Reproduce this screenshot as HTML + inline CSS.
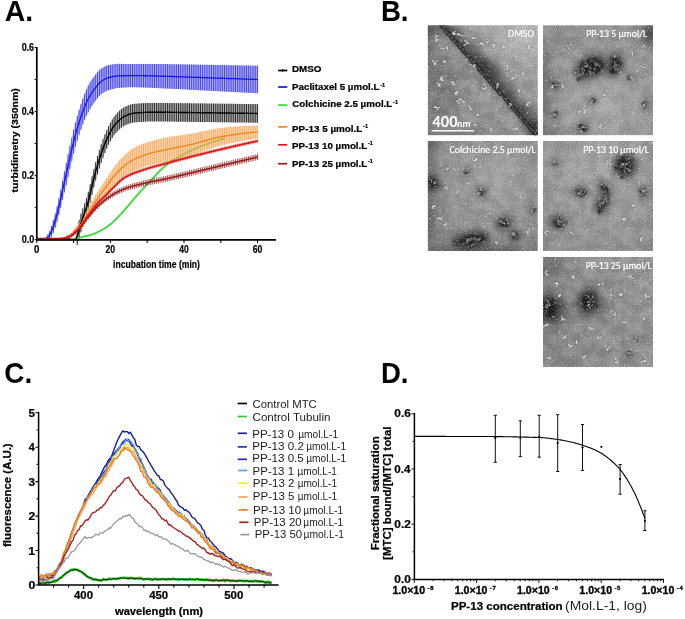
<!DOCTYPE html><html><head><meta charset="utf-8"><title>Figure</title><style>
html,body{margin:0;padding:0;background:#fff;}
body{width:685px;height:619px;overflow:hidden;}
svg{display:block;}
text{font-family:'Liberation Sans',Arial,sans-serif;fill:#000;}
.pl{font-size:28.7px;font-weight:bold;}
.ab{font-size:9px;font-weight:bold;}
.abt{font-size:9.3px;font-weight:bold;}
.al{font-size:9.5px;font-weight:bold;}
.cb{font-size:10px;font-weight:bold;}
.cbt{font-size:10.3px;font-weight:bold;}
.cl{font-size:10.6px;fill:#222;}
.db{font-size:10px;font-weight:bold;}
.dbt{font-size:10.3px;font-weight:bold;}
.ml{font-size:8.6px;fill:#f4f4f4;}
.sb{font-size:15px;font-weight:bold;fill:#fff;}
</style></head><body>
<svg width="685" height="619" viewBox="0 0 685 619">
<defs>
<filter id="bl03" x="-50%" y="-50%" width="200%" height="200%"><feGaussianBlur stdDeviation="0.3"/></filter>
<filter id="bl04" x="-50%" y="-50%" width="200%" height="200%"><feGaussianBlur stdDeviation="0.4"/></filter>
<filter id="bl05" x="-50%" y="-50%" width="200%" height="200%"><feGaussianBlur stdDeviation="0.5"/></filter>
<filter id="bl07" x="-50%" y="-50%" width="200%" height="200%"><feGaussianBlur stdDeviation="0.7"/></filter>
<filter id="bl1" x="-50%" y="-50%" width="200%" height="200%"><feGaussianBlur stdDeviation="1"/></filter>
<filter id="bl2" x="-50%" y="-50%" width="200%" height="200%"><feGaussianBlur stdDeviation="2"/></filter>
<filter id="bl3" x="-50%" y="-50%" width="200%" height="200%"><feGaussianBlur stdDeviation="3"/></filter>
<filter id="bl6" x="-100%" y="-100%" width="300%" height="300%"><feGaussianBlur stdDeviation="5"/></filter>
<filter id="bl8" x="-100%" y="-100%" width="300%" height="300%"><feGaussianBlur stdDeviation="8"/></filter>
<filter id="lgrain0" x="0" y="0" width="100%" height="100%" color-interpolation-filters="sRGB"><feTurbulence type="fractalNoise" baseFrequency="0.8" numOctaves="1" seed="3"/><feColorMatrix type="matrix" values="0 0 0 0 1  0 0 0 0 1  0 0 0 0 1  5 0 0 0 -2.9"/><feGaussianBlur stdDeviation="0.35"/></filter>
<filter id="sgrain0" x="0" y="0" width="100%" height="100%" color-interpolation-filters="sRGB"><feTurbulence type="fractalNoise" baseFrequency="0.9" numOctaves="1" seed="63"/><feColorMatrix type="matrix" values="1.8 0 0 0 -0.4  1.8 0 0 0 -0.4  1.8 0 0 0 -0.4  0 0 0 0 1"/><feGaussianBlur stdDeviation="0.35"/></filter>
<filter id="dgrain0" x="0" y="0" width="100%" height="100%" color-interpolation-filters="sRGB"><feTurbulence type="fractalNoise" baseFrequency="0.5" numOctaves="1" seed="43"/><feColorMatrix type="matrix" values="0 0 0 0 0  0 0 0 0 0  0 0 0 0 0  -6 0 0 0 2.4"/><feGaussianBlur stdDeviation="0.4"/></filter>
<filter id="mott0" x="0" y="0" width="100%" height="100%" color-interpolation-filters="sRGB"><feTurbulence type="fractalNoise" baseFrequency="0.09" numOctaves="2" seed="23"/><feColorMatrix type="matrix" values="3 0 0 0 -1  3 0 0 0 -1  3 0 0 0 -1  0 0 0 0 1"/></filter>
<filter id="lgrain1" x="0" y="0" width="100%" height="100%" color-interpolation-filters="sRGB"><feTurbulence type="fractalNoise" baseFrequency="0.8" numOctaves="1" seed="7"/><feColorMatrix type="matrix" values="0 0 0 0 1  0 0 0 0 1  0 0 0 0 1  5 0 0 0 -2.9"/><feGaussianBlur stdDeviation="0.35"/></filter>
<filter id="sgrain1" x="0" y="0" width="100%" height="100%" color-interpolation-filters="sRGB"><feTurbulence type="fractalNoise" baseFrequency="0.9" numOctaves="1" seed="67"/><feColorMatrix type="matrix" values="1.8 0 0 0 -0.4  1.8 0 0 0 -0.4  1.8 0 0 0 -0.4  0 0 0 0 1"/><feGaussianBlur stdDeviation="0.35"/></filter>
<filter id="dgrain1" x="0" y="0" width="100%" height="100%" color-interpolation-filters="sRGB"><feTurbulence type="fractalNoise" baseFrequency="0.5" numOctaves="1" seed="47"/><feColorMatrix type="matrix" values="0 0 0 0 0  0 0 0 0 0  0 0 0 0 0  -6 0 0 0 2.4"/><feGaussianBlur stdDeviation="0.4"/></filter>
<filter id="mott1" x="0" y="0" width="100%" height="100%" color-interpolation-filters="sRGB"><feTurbulence type="fractalNoise" baseFrequency="0.09" numOctaves="2" seed="27"/><feColorMatrix type="matrix" values="3 0 0 0 -1  3 0 0 0 -1  3 0 0 0 -1  0 0 0 0 1"/></filter>
<filter id="lgrain2" x="0" y="0" width="100%" height="100%" color-interpolation-filters="sRGB"><feTurbulence type="fractalNoise" baseFrequency="0.8" numOctaves="1" seed="11"/><feColorMatrix type="matrix" values="0 0 0 0 1  0 0 0 0 1  0 0 0 0 1  5 0 0 0 -2.9"/><feGaussianBlur stdDeviation="0.35"/></filter>
<filter id="sgrain2" x="0" y="0" width="100%" height="100%" color-interpolation-filters="sRGB"><feTurbulence type="fractalNoise" baseFrequency="0.9" numOctaves="1" seed="71"/><feColorMatrix type="matrix" values="1.8 0 0 0 -0.4  1.8 0 0 0 -0.4  1.8 0 0 0 -0.4  0 0 0 0 1"/><feGaussianBlur stdDeviation="0.35"/></filter>
<filter id="dgrain2" x="0" y="0" width="100%" height="100%" color-interpolation-filters="sRGB"><feTurbulence type="fractalNoise" baseFrequency="0.5" numOctaves="1" seed="51"/><feColorMatrix type="matrix" values="0 0 0 0 0  0 0 0 0 0  0 0 0 0 0  -6 0 0 0 2.4"/><feGaussianBlur stdDeviation="0.4"/></filter>
<filter id="mott2" x="0" y="0" width="100%" height="100%" color-interpolation-filters="sRGB"><feTurbulence type="fractalNoise" baseFrequency="0.09" numOctaves="2" seed="31"/><feColorMatrix type="matrix" values="3 0 0 0 -1  3 0 0 0 -1  3 0 0 0 -1  0 0 0 0 1"/></filter>
<linearGradient id="gDmso" x1="0" y1="1" x2="1" y2="0">
 <stop offset="0" stop-color="#707070" stop-opacity="0.35"/><stop offset="0.5" stop-color="#b4b4b4" stop-opacity="0.0"/>
 <stop offset="1" stop-color="#d8d8d8" stop-opacity="0.55"/></linearGradient>
<radialGradient id="gPp5" cx="0.55" cy="0.7" r="0.7">
 <stop offset="0" stop-color="#c4c4c4" stop-opacity="0.35"/><stop offset="1" stop-color="#707070" stop-opacity="0.3"/></radialGradient>
<radialGradient id="gCol" cx="0.6" cy="0.35" r="0.75">
 <stop offset="0" stop-color="#c4c4c4" stop-opacity="0.35"/><stop offset="1" stop-color="#686868" stop-opacity="0.4"/></radialGradient>
<radialGradient id="gPp10" cx="0.5" cy="0.3" r="0.8">
 <stop offset="0" stop-color="#c4c4c4" stop-opacity="0.3"/><stop offset="1" stop-color="#777" stop-opacity="0.35"/></radialGradient>
<linearGradient id="gPp25" x1="0" y1="0.3" x2="1" y2="0">
 <stop offset="0" stop-color="#707070" stop-opacity="0.3"/><stop offset="0.5" stop-color="#909090" stop-opacity="0.15"/>
 <stop offset="1" stop-color="#c0c0c0" stop-opacity="0.2"/></linearGradient>
</defs>
<text x="4.69" y="21" font-size="28.7" font-weight="bold" textLength="28.4" lengthAdjust="spacingAndGlyphs" stroke="none">A.</text>
<text x="380.9" y="21" font-size="28.7" font-weight="bold" textLength="27.63" lengthAdjust="spacingAndGlyphs" stroke="none">B.</text>
<text x="4.29" y="382.6" font-size="28.7" font-weight="bold" textLength="27.87" lengthAdjust="spacingAndGlyphs" stroke="none">C.</text>
<text x="380.91" y="383" font-size="28.7" font-weight="bold" textLength="27.51" lengthAdjust="spacingAndGlyphs" stroke="none">D.</text>
<g id="A">
<polygon points="36.8,239.06 38.64,239.06 40.48,239.06 42.32,239.06 44.16,239.06 46,237.23 47.84,234.33 49.68,230.68 51.52,226.04 53.36,220.09 55.2,213.61 57.04,206.44 58.88,198.18 60.72,189.47 62.56,180.26 64.4,171.47 66.24,162.8 68.08,154.3 69.92,145.77 71.76,137.66 73.6,129.82 75.44,122.5 77.28,115.91 79.12,109.77 80.96,104.09 82.8,98.85 84.64,93.86 86.48,89.27 88.32,85.27 90.16,82.09 92,79.28 93.84,76.74 95.68,74.4 97.52,72.13 99.36,70.1 101.2,68.58 103.04,67.45 104.88,66.49 106.72,65.72 108.56,65.18 110.4,64.81 112.24,64.49 114.08,64.21 115.92,64 117.76,63.88 119.6,63.85 121.44,63.9 123.28,63.96 125.12,64.02 126.96,64.09 128.8,64.15 130.64,64.11 132.48,64.07 134.32,64.03 136.16,63.99 138,63.96 139.84,63.95 141.68,63.93 143.52,63.93 145.36,63.93 147.2,63.93 149.04,63.94 150.88,63.96 152.72,63.98 154.56,64 156.4,64.02 158.24,64.04 160.08,64.06 161.92,64.08 163.76,64.1 165.6,64.12 167.44,64.14 169.28,64.16 171.12,64.18 172.96,64.21 174.8,64.24 176.64,64.27 178.48,64.3 180.32,64.33 182.16,64.37 184,64.4 185.84,64.44 187.68,64.48 189.52,64.51 191.36,64.55 193.2,64.59 195.04,64.62 196.88,64.66 198.72,64.69 200.56,64.73 202.4,64.76 204.24,64.79 206.08,64.83 207.92,64.86 209.76,64.89 211.6,64.92 213.44,64.95 215.28,64.99 217.12,65.02 218.96,65.05 220.8,65.08 222.64,65.11 224.48,65.15 226.32,65.18 228.16,65.21 230,65.24 231.84,65.27 233.68,65.31 235.52,65.34 237.36,65.37 239.2,65.4 241.04,65.43 242.88,65.47 244.72,65.5 246.56,65.53 248.4,65.56 250.24,65.59 252.08,65.63 253.92,65.66 255.76,65.69 257.6,65.72 257.6,93.28 255.76,93.18 253.92,93.08 252.08,92.99 250.24,92.89 248.4,92.8 246.56,92.7 244.72,92.6 242.88,92.51 241.04,92.41 239.2,92.32 237.36,92.22 235.52,92.12 233.68,92.03 231.84,91.93 230,91.84 228.16,91.74 226.32,91.64 224.48,91.55 222.64,91.45 220.8,91.35 218.96,91.26 217.12,91.16 215.28,91.07 213.44,90.97 211.6,90.87 209.76,90.78 207.92,90.68 206.08,90.59 204.24,90.49 202.4,90.39 200.56,90.3 198.72,90.2 196.88,90.1 195.04,90 193.2,89.9 191.36,89.8 189.52,89.7 187.68,89.6 185.84,89.49 184,89.39 182.16,89.29 180.32,89.2 178.48,89.1 176.64,89 174.8,88.91 172.96,88.82 171.12,88.73 169.28,88.64 167.44,88.55 165.6,88.47 163.76,88.39 161.92,88.3 160.08,88.22 158.24,88.13 156.4,88.05 154.56,87.96 152.72,87.88 150.88,87.8 149.04,87.72 147.2,87.64 145.36,87.57 143.52,87.51 141.68,87.45 139.84,87.4 138,87.35 136.16,87.32 134.32,87.29 132.48,87.26 130.64,87.24 128.8,87.22 126.96,87.33 125.12,87.44 123.28,87.55 121.44,87.67 119.6,87.8 117.76,88 115.92,88.3 114.08,88.68 112.24,89.13 110.4,89.63 108.56,90.17 106.72,90.89 104.88,91.83 103.04,92.97 101.2,94.27 99.36,95.97 97.52,98.17 95.68,100.62 93.84,103.13 92,105.84 90.16,108.83 88.32,112.18 86.48,115.81 84.64,120.02 82.8,124.64 80.96,129.51 79.12,134.81 77.28,140.58 75.44,146.8 73.6,153.74 71.76,161.21 69.92,168.95 68.08,177.1 66.24,185.23 64.4,192.53 62.56,199.94 60.72,207.78 58.88,215.12 57.04,222 55.2,227.8 53.36,232.91 51.52,236.45 49.68,238.69 47.84,239.94 46,240.43 44.16,239.06 42.32,239.06 40.48,239.06 38.64,239.06 36.8,239.06" fill="#9a9aff" fill-opacity="0.6"/>
<path d="M46,237.23V240.43M47.84,234.33V239.94M49.68,230.68V238.69M51.52,226.04V236.45M53.36,220.09V232.91M55.2,213.61V227.8M57.04,206.44V222M58.88,198.18V215.12M60.72,189.47V207.78M62.56,180.26V199.94M64.4,171.47V192.53M66.24,162.8V185.23M68.08,154.3V177.1M69.92,145.77V168.95M71.76,137.66V161.21M73.6,129.82V153.74M75.44,122.5V146.8M77.28,115.91V140.58M79.12,109.77V134.81M80.96,104.09V129.51M82.8,98.85V124.64M84.64,93.86V120.02M86.48,89.27V115.81M88.32,85.27V112.18M90.16,82.09V108.83M92,79.28V105.84M93.84,76.74V103.13M95.68,74.4V100.62M97.52,72.13V98.17M99.36,70.1V95.97M101.2,68.58V94.27M103.04,67.45V92.97M104.88,66.49V91.83M106.72,65.72V90.89M108.56,65.18V90.17M110.4,64.81V89.63M112.24,64.49V89.13M114.08,64.21V88.68M115.92,64V88.3M117.76,63.88V88M119.6,63.85V87.8M121.44,63.9V87.67M123.28,63.96V87.55M125.12,64.02V87.44M126.96,64.09V87.33M128.8,64.15V87.22M130.64,64.11V87.24M132.48,64.07V87.26M134.32,64.03V87.29M136.16,63.99V87.32M138,63.96V87.35M139.84,63.95V87.4M141.68,63.93V87.45M143.52,63.93V87.51M145.36,63.93V87.57M147.2,63.93V87.64M149.04,63.94V87.72M150.88,63.96V87.8M152.72,63.98V87.88M154.56,64V87.96M156.4,64.02V88.05M158.24,64.04V88.13M160.08,64.06V88.22M161.92,64.08V88.3M163.76,64.1V88.39M165.6,64.12V88.47M167.44,64.14V88.55M169.28,64.16V88.64M171.12,64.18V88.73M172.96,64.21V88.82M174.8,64.24V88.91M176.64,64.27V89M178.48,64.3V89.1M180.32,64.33V89.2M182.16,64.37V89.29M184,64.4V89.39M185.84,64.44V89.49M187.68,64.48V89.6M189.52,64.51V89.7M191.36,64.55V89.8M193.2,64.59V89.9M195.04,64.62V90M196.88,64.66V90.1M198.72,64.69V90.2M200.56,64.73V90.3M202.4,64.76V90.39M204.24,64.79V90.49M206.08,64.83V90.59M207.92,64.86V90.68M209.76,64.89V90.78M211.6,64.92V90.87M213.44,64.95V90.97M215.28,64.99V91.07M217.12,65.02V91.16M218.96,65.05V91.26M220.8,65.08V91.35M222.64,65.11V91.45M224.48,65.15V91.55M226.32,65.18V91.64M228.16,65.21V91.74M230,65.24V91.84M231.84,65.27V91.93M233.68,65.31V92.03M235.52,65.34V92.12M237.36,65.37V92.22M239.2,65.4V92.32M241.04,65.43V92.41M242.88,65.47V92.51M244.72,65.5V92.6M246.56,65.53V92.7M248.4,65.56V92.8M250.24,65.59V92.89M252.08,65.63V92.99M253.92,65.66V93.08M255.76,65.69V93.18M257.6,65.72V93.28" stroke="#2626d8" stroke-width="0.85" stroke-opacity="0.95" fill="none"/>
<polygon points="36.8,239.38 38.64,239.38 40.48,239.38 42.32,239.38 44.16,239.38 46,239.38 47.84,239.38 49.68,239.38 51.52,239.38 53.36,239.38 55.2,239.38 57.04,239.38 58.88,239.38 60.72,239.38 62.56,239.38 64.4,239.38 66.24,239.38 68.08,239.38 69.92,239.38 71.76,239.38 73.6,239.38 75.44,238.98 77.28,226.56 79.12,220.24 80.96,213.67 82.8,208.4 84.64,203.42 86.48,198.12 88.32,191.84 90.16,184.24 92,176.34 93.84,169.08 95.68,162.15 97.52,155.89 99.36,149.97 101.2,144.34 103.04,139.11 104.88,134.4 106.72,130.22 108.56,126.27 110.4,122.62 112.24,119.37 114.08,116.63 115.92,114.42 117.76,112.41 119.6,110.61 121.44,109.04 123.28,107.74 125.12,106.73 126.96,105.92 128.8,105.2 130.64,104.59 132.48,104.13 134.32,103.85 136.16,103.68 138,103.53 139.84,103.39 141.68,103.27 143.52,103.16 145.36,103.07 147.2,103 149.04,102.94 150.88,102.91 152.72,102.89 154.56,102.89 156.4,102.89 158.24,102.9 160.08,102.91 161.92,102.93 163.76,102.95 165.6,102.97 167.44,102.99 169.28,103.01 171.12,103.04 172.96,103.06 174.8,103.09 176.64,103.11 178.48,103.14 180.32,103.16 182.16,103.19 184,103.21 185.84,103.23 187.68,103.25 189.52,103.27 191.36,103.29 193.2,103.32 195.04,103.34 196.88,103.36 198.72,103.38 200.56,103.4 202.4,103.43 204.24,103.45 206.08,103.47 207.92,103.5 209.76,103.52 211.6,103.54 213.44,103.56 215.28,103.59 217.12,103.61 218.96,103.63 220.8,103.66 222.64,103.68 224.48,103.71 226.32,103.73 228.16,103.76 230,103.78 231.84,103.81 233.68,103.83 235.52,103.86 237.36,103.88 239.2,103.91 241.04,103.93 242.88,103.96 244.72,103.98 246.56,104.01 248.4,104.04 250.24,104.06 252.08,104.09 253.92,104.12 255.76,104.14 257.6,104.17 257.6,122.75 255.76,122.73 253.92,122.7 252.08,122.67 250.24,122.65 248.4,122.62 246.56,122.59 244.72,122.57 242.88,122.54 241.04,122.52 239.2,122.49 237.36,122.46 235.52,122.44 233.68,122.41 231.84,122.39 230,122.36 228.16,122.34 226.32,122.31 224.48,122.29 222.64,122.27 220.8,122.24 218.96,122.22 217.12,122.19 215.28,122.17 213.44,122.15 211.6,122.12 209.76,122.1 207.92,122.08 206.08,122.06 204.24,122.03 202.4,122.01 200.56,121.99 198.72,121.97 196.88,121.94 195.04,121.92 193.2,121.9 191.36,121.88 189.52,121.86 187.68,121.84 185.84,121.81 184,121.79 182.16,121.77 180.32,121.75 178.48,121.72 176.64,121.7 174.8,121.67 172.96,121.65 171.12,121.62 169.28,121.6 167.44,121.57 165.6,121.55 163.76,121.53 161.92,121.51 160.08,121.5 158.24,121.49 156.4,121.48 154.56,121.47 152.72,121.47 150.88,121.49 149.04,121.53 147.2,121.58 145.36,121.66 143.52,121.75 141.68,121.85 139.84,121.98 138,122.11 136.16,122.27 134.32,122.43 132.48,122.71 130.64,123.17 128.8,123.78 126.96,124.51 125.12,125.32 123.28,126.32 121.44,127.62 119.6,129.19 117.76,131 115.92,133 114.08,135.22 112.24,137.95 110.4,141.2 108.56,144.85 106.72,148.8 104.88,152.99 103.04,157.7 101.2,162.92 99.36,168.56 97.52,174.48 95.68,180.73 93.84,187.66 92,194.93 90.16,202.82 88.32,210.42 86.48,216.7 84.64,222 82.8,226.99 80.96,232.25 79.12,238.82 77.28,245.15 75.44,238.98 73.6,239.38 71.76,239.38 69.92,239.38 68.08,239.38 66.24,239.38 64.4,239.38 62.56,239.38 60.72,239.38 58.88,239.38 57.04,239.38 55.2,239.38 53.36,239.38 51.52,239.38 49.68,239.38 47.84,239.38 46,239.38 44.16,239.38 42.32,239.38 40.48,239.38 38.64,239.38 36.8,239.38" fill="#aaa" fill-opacity="0.6"/>
<path d="M77.28,226.56V245.15M79.12,220.24V238.82M80.96,213.67V232.25M82.8,208.4V226.99M84.64,203.42V222M86.48,198.12V216.7M88.32,191.84V210.42M90.16,184.24V202.82M92,176.34V194.93M93.84,169.08V187.66M95.68,162.15V180.73M97.52,155.89V174.48M99.36,149.97V168.56M101.2,144.34V162.92M103.04,139.11V157.7M104.88,134.4V152.99M106.72,130.22V148.8M108.56,126.27V144.85M110.4,122.62V141.2M112.24,119.37V137.95M114.08,116.63V135.22M115.92,114.42V133M117.76,112.41V131M119.6,110.61V129.19M121.44,109.04V127.62M123.28,107.74V126.32M125.12,106.73V125.32M126.96,105.92V124.51M128.8,105.2V123.78M130.64,104.59V123.17M132.48,104.13V122.71M134.32,103.85V122.43M136.16,103.68V122.27M138,103.53V122.11M139.84,103.39V121.98M141.68,103.27V121.85M143.52,103.16V121.75M145.36,103.07V121.66M147.2,103V121.58M149.04,102.94V121.53M150.88,102.91V121.49M152.72,102.89V121.47M154.56,102.89V121.47M156.4,102.89V121.48M158.24,102.9V121.49M160.08,102.91V121.5M161.92,102.93V121.51M163.76,102.95V121.53M165.6,102.97V121.55M167.44,102.99V121.57M169.28,103.01V121.6M171.12,103.04V121.62M172.96,103.06V121.65M174.8,103.09V121.67M176.64,103.11V121.7M178.48,103.14V121.72M180.32,103.16V121.75M182.16,103.19V121.77M184,103.21V121.79M185.84,103.23V121.81M187.68,103.25V121.84M189.52,103.27V121.86M191.36,103.29V121.88M193.2,103.32V121.9M195.04,103.34V121.92M196.88,103.36V121.94M198.72,103.38V121.97M200.56,103.4V121.99M202.4,103.43V122.01M204.24,103.45V122.03M206.08,103.47V122.06M207.92,103.5V122.08M209.76,103.52V122.1M211.6,103.54V122.12M213.44,103.56V122.15M215.28,103.59V122.17M217.12,103.61V122.19M218.96,103.63V122.22M220.8,103.66V122.24M222.64,103.68V122.27M224.48,103.71V122.29M226.32,103.73V122.31M228.16,103.76V122.34M230,103.78V122.36M231.84,103.81V122.39M233.68,103.83V122.41M235.52,103.86V122.44M237.36,103.88V122.46M239.2,103.91V122.49M241.04,103.93V122.52M242.88,103.96V122.54M244.72,103.98V122.57M246.56,104.01V122.59M248.4,104.04V122.62M250.24,104.06V122.65M252.08,104.09V122.67M253.92,104.12V122.7M255.76,104.14V122.73M257.6,104.17V122.75" stroke="#000000" stroke-width="0.85" stroke-opacity="0.95" fill="none"/>
<path d="M36.8,239.7 L37.27,239.7 L37.74,239.7 L38.21,239.7 L38.68,239.7 L39.15,239.7 L39.62,239.7 L40.09,239.7 L40.56,239.7 L41.03,239.7 L41.5,239.7 L41.97,239.7 L42.44,239.7 L42.91,239.7 L43.39,239.7 L43.86,239.7 L44.33,239.7 L44.8,239.7 L45.27,239.7 L45.74,239.7 L46.21,239.7 L46.68,239.7 L47.15,239.7 L47.62,239.7 L48.09,239.7 L48.56,239.7 L49.03,239.7 L49.5,239.7 L49.97,239.7 L50.44,239.7 L50.91,239.7 L51.38,239.7 L51.85,239.7 L52.32,239.7 L52.79,239.7 L53.26,239.7 L53.73,239.7 L54.2,239.7 L54.67,239.7 L55.14,239.7 L55.62,239.7 L56.09,239.7 L56.56,239.7 L57.03,239.7 L57.5,239.7 L57.97,239.7 L58.44,239.7 L58.91,239.7 L59.38,239.7 L59.85,239.7 L60.32,239.7 L60.79,239.7 L61.26,239.7 L61.73,239.7 L62.2,239.7 L62.67,239.7 L63.14,239.7 L63.61,239.7 L64.08,239.7 L64.55,239.7 L65.02,239.7 L65.49,239.7 L65.96,239.7 L66.43,239.7 L66.9,239.7 L67.37,239.7 L67.84,239.7 L68.32,239.7 L68.79,239.7 L69.26,239.7 L69.73,239.7 L70.2,239.7 L70.67,239.7 L71.14,239.7 L71.61,239.7 L72.08,239.7 L72.55,239.7 L73.02,239.7 L73.49,239.7 L73.96,239.68 L74.43,239.61 L74.9,239.5 L75.37,239.35 L75.84,239.17 L76.31,238.97 L76.78,238.75 L77.25,238.54 L77.72,238.32 L78.19,238.12 L78.66,237.93 L79.13,237.77 L79.6,237.63 L80.07,237.5 L80.54,237.37 L81.02,237.25 L81.49,237.13 L81.96,237.01 L82.43,236.89 L82.9,236.78 L83.37,236.67 L83.84,236.56 L84.31,236.45 L84.78,236.35 L85.25,236.24 L85.72,236.13 L86.19,236.02 L86.66,235.91 L87.13,235.8 L87.6,235.69 L88.07,235.58 L88.54,235.46 L89.01,235.34 L89.48,235.21 L89.95,235.08 L90.42,234.94 L90.89,234.81 L91.36,234.66 L91.83,234.51 L92.3,234.35 L92.77,234.18 L93.25,234.01 L93.72,233.83 L94.19,233.65 L94.66,233.46 L95.13,233.26 L95.6,233.06 L96.07,232.85 L96.54,232.64 L97.01,232.43 L97.48,232.21 L97.95,231.98 L98.42,231.75 L98.89,231.52 L99.36,231.28 L99.83,231.04 L100.3,230.79 L100.77,230.54 L101.24,230.28 L101.71,230.02 L102.18,229.76 L102.65,229.49 L103.12,229.21 L103.59,228.93 L104.06,228.65 L104.53,228.36 L105,228.07 L105.47,227.77 L105.95,227.46 L106.42,227.15 L106.89,226.84 L107.36,226.52 L107.83,226.19 L108.3,225.86 L108.77,225.53 L109.24,225.19 L109.71,224.84 L110.18,224.49 L110.65,224.13 L111.12,223.75 L111.59,223.35 L112.06,222.94 L112.53,222.51 L113,222.07 L113.47,221.62 L113.94,221.16 L114.41,220.7 L114.88,220.23 L115.35,219.76 L115.82,219.29 L116.29,218.82 L116.76,218.35 L117.23,217.87 L117.7,217.39 L118.18,216.9 L118.65,216.41 L119.12,215.92 L119.59,215.42 L120.06,214.92 L120.53,214.42 L121,213.91 L121.47,213.4 L121.94,212.88 L122.41,212.37 L122.88,211.85 L123.35,211.32 L123.82,210.8 L124.29,210.27 L124.76,209.74 L125.23,209.21 L125.7,208.67 L126.17,208.13 L126.64,207.59 L127.11,207.05 L127.58,206.51 L128.05,205.97 L128.52,205.42 L128.99,204.87 L129.46,204.31 L129.93,203.73 L130.4,203.15 L130.88,202.57 L131.35,201.98 L131.82,201.41 L132.29,200.84 L132.76,200.29 L133.23,199.74 L133.7,199.19 L134.17,198.65 L134.64,198.1 L135.11,197.56 L135.58,197.03 L136.05,196.49 L136.52,195.96 L136.99,195.43 L137.46,194.9 L137.93,194.37 L138.4,193.84 L138.87,193.32 L139.34,192.8 L139.81,192.28 L140.28,191.76 L140.75,191.24 L141.22,190.73 L141.69,190.21 L142.16,189.7 L142.63,189.19 L143.1,188.68 L143.58,188.18 L144.05,187.67 L144.52,187.17 L144.99,186.66 L145.46,186.16 L145.93,185.66 L146.4,185.16 L146.87,184.65 L147.34,184.15 L147.81,183.64 L148.28,183.13 L148.75,182.62 L149.22,182.11 L149.69,181.6 L150.16,181.09 L150.63,180.58 L151.1,180.07 L151.57,179.56 L152.04,179.06 L152.51,178.55 L152.98,178.04 L153.45,177.54 L153.92,177.03 L154.39,176.53 L154.86,176.03 L155.33,175.53 L155.81,175.04 L156.28,174.54 L156.75,174.05 L157.22,173.57 L157.69,173.08 L158.16,172.6 L158.63,172.13 L159.1,171.66 L159.57,171.19 L160.04,170.73 L160.51,170.27 L160.98,169.81 L161.45,169.37 L161.92,168.92 L162.39,168.49 L162.86,168.05 L163.33,167.63 L163.8,167.21 L164.27,166.8 L164.74,166.39 L165.21,165.99 L165.68,165.6 L166.15,165.22 L166.62,164.84 L167.09,164.47 L167.56,164.11 L168.03,163.76 L168.51,163.41 L168.98,163.07 L169.45,162.74 L169.92,162.41 L170.39,162.09 L170.86,161.77 L171.33,161.46 L171.8,161.16 L172.27,160.85 L172.74,160.55 L173.21,160.26 L173.68,159.96 L174.15,159.67 L174.62,159.38 L175.09,159.09 L175.56,158.8 L176.03,158.52 L176.5,158.23 L176.97,157.95 L177.44,157.67 L177.91,157.4 L178.38,157.12 L178.85,156.85 L179.32,156.58 L179.79,156.31 L180.26,156.04 L180.74,155.78 L181.21,155.52 L181.68,155.26 L182.15,155 L182.62,154.75 L183.09,154.49 L183.56,154.24 L184.03,154 L184.5,153.75 L184.97,153.51 L185.44,153.27 L185.91,153.03 L186.38,152.79 L186.85,152.56 L187.32,152.32 L187.79,152.09 L188.26,151.87 L188.73,151.64 L189.2,151.42 L189.67,151.2 L190.14,150.98 L190.61,150.76 L191.08,150.55 L191.55,150.34 L192.02,150.12 L192.49,149.91 L192.96,149.71 L193.44,149.5 L193.91,149.3 L194.38,149.09 L194.85,148.89 L195.32,148.69 L195.79,148.49 L196.26,148.29 L196.73,148.1 L197.2,147.9 L197.67,147.71 L198.14,147.52 L198.61,147.33 L199.08,147.14 L199.55,146.95 L200.02,146.76 L200.49,146.58 L200.96,146.39 L201.43,146.21 L201.9,146.03 L202.37,145.85 L202.84,145.67 L203.31,145.49 L203.78,145.31 L204.25,145.13 L204.72,144.96 L205.19,144.78 L205.66,144.61 L206.14,144.44 L206.61,144.26 L207.08,144.09 L207.55,143.92 L208.02,143.75 L208.49,143.59 L208.96,143.42 L209.43,143.25 L209.9,143.09 L210.37,142.92 L210.84,142.76 L211.31,142.59 L211.78,142.43 L212.25,142.27 L212.72,142.11 L213.19,141.95 L213.66,141.8 L214.13,141.65 L214.6,141.49 L215.07,141.34 L215.54,141.19 L216.01,141.04 L216.48,140.9 L216.95,140.75 L217.42,140.61 L217.89,140.46 L218.37,140.32 L218.84,140.17 L219.31,140.03 L219.78,139.89 L220.25,139.74 L220.72,139.6 L221.19,139.46 L221.66,139.32 L222.13,139.17 L222.6,139.03 L223.07,138.89 L223.54,138.74 L224.01,138.6 L224.48,138.45" stroke="#33dd33" stroke-width="1.8" fill="none" stroke-linejoin="round"/>
<polygon points="36.8,239.06 38.64,239.06 40.48,239.05 42.32,239.05 44.16,239.04 46,239.02 47.84,239 49.68,238.98 51.52,238.95 53.36,238.92 55.2,238.88 57.04,238.84 58.88,238.79 60.72,238.74 62.56,238.54 64.4,238.13 66.24,237.58 68.08,236.85 69.92,235.74 71.76,234.33 73.6,229.5 75.44,227.46 77.28,225.34 79.12,222.9 80.96,220.1 82.8,217.05 84.64,213.88 86.48,210.73 88.32,207.67 90.16,204.56 92,201.38 93.84,198.19 95.68,195.05 97.52,192 99.36,189.07 101.2,186.22 103.04,183.43 104.88,180.67 106.72,177.92 108.56,175.16 110.4,172.34 112.24,169.71 114.08,167.25 115.92,164.84 117.76,162.52 119.6,160.3 121.44,158.23 123.28,156.32 125.12,154.6 126.96,153 128.8,151.49 130.64,150.07 132.48,148.73 134.32,147.7 136.16,146.75 138,145.89 139.84,145.08 141.68,144.34 143.52,143.64 145.36,142.98 147.2,142.37 149.04,141.79 150.88,141.24 152.72,140.72 154.56,140.23 156.4,139.77 158.24,139.33 160.08,138.9 161.92,138.48 163.76,138.06 165.6,137.64 167.44,137.21 169.28,136.8 171.12,136.54 172.96,136.29 174.8,136.05 176.64,135.81 178.48,135.57 180.32,135.33 182.16,135.08 184,134.83 185.84,134.57 187.68,134.29 189.52,134.01 191.36,133.7 193.2,133.37 195.04,133.01 196.88,132.64 198.72,132.25 200.56,131.86 202.4,131.45 204.24,131.05 206.08,130.65 207.92,130.25 209.76,129.87 211.6,129.49 213.44,129.14 215.28,128.81 217.12,128.5 218.96,128.23 220.8,127.98 222.64,127.78 224.48,127.59 226.32,127.4 228.16,127.22 230,127.05 231.84,126.88 233.68,126.72 235.52,126.57 237.36,126.43 239.2,126.3 241.04,126.17 242.88,126.06 244.72,125.96 246.56,125.87 248.4,125.8 250.24,125.73 252.08,125.69 253.92,125.65 255.76,125.64 257.6,125.64 257.6,138.45 255.76,138.69 253.92,138.95 252.08,139.22 250.24,139.51 248.4,139.81 246.56,140.13 244.72,140.46 242.88,140.8 241.04,141.15 239.2,141.51 237.36,141.89 235.52,142.27 233.68,142.66 231.84,143.06 230,143.47 228.16,143.88 226.32,144.3 224.48,144.73 222.64,145.16 220.8,145.61 218.96,146.09 217.12,146.6 215.28,147.15 213.44,147.72 211.6,148.32 209.76,148.93 207.92,149.56 206.08,150.19 204.24,150.83 202.4,151.48 200.56,152.12 198.72,152.76 196.88,153.38 195.04,154 193.2,154.59 191.36,155.17 189.52,155.72 187.68,156.24 185.84,156.76 184,157.26 182.16,157.75 180.32,158.24 178.48,158.72 176.64,159.2 174.8,159.68 172.96,160.16 171.12,160.65 169.28,161.15 167.44,161.5 165.6,161.86 163.76,162.22 161.92,162.57 160.08,162.93 158.24,163.29 156.4,163.67 154.56,164.07 152.72,164.49 150.88,164.95 149.04,165.43 147.2,165.95 145.36,166.5 143.52,167.09 141.68,167.73 139.84,168.41 138,169.15 136.16,169.95 134.32,170.83 132.48,171.8 130.64,172.61 128.8,173.52 126.96,174.51 125.12,175.58 123.28,176.78 121.44,178.17 119.6,179.73 117.76,181.42 115.92,183.22 114.08,185.11 112.24,187.05 110.4,189.16 108.56,191.46 106.72,193.7 104.88,195.93 103.04,198.17 101.2,200.44 99.36,202.77 97.52,205.18 95.68,207.71 93.84,210.33 92,213 90.16,215.65 88.32,218.24 86.48,220.78 84.64,223.42 82.8,226.06 80.96,228.59 79.12,230.87 77.28,232.79 75.44,234.39 73.6,235.91 71.76,234.33 69.92,235.74 68.08,236.85 66.24,237.58 64.4,238.13 62.56,238.54 60.72,238.74 58.88,238.79 57.04,238.84 55.2,238.88 53.36,238.92 51.52,238.95 49.68,238.98 47.84,239 46,239.02 44.16,239.04 42.32,239.05 40.48,239.05 38.64,239.06 36.8,239.06" fill="#fbc592" fill-opacity="0.55"/>
<path d="M73.6,229.5V235.91M75.44,227.46V234.39M77.28,225.34V232.79M79.12,222.9V230.87M80.96,220.1V228.59M82.8,217.05V226.06M84.64,213.88V223.42M86.48,210.73V220.78M88.32,207.67V218.24M90.16,204.56V215.65M92,201.38V213M93.84,198.19V210.33M95.68,195.05V207.71M97.52,192V205.18M99.36,189.07V202.77M101.2,186.22V200.44M103.04,183.43V198.17M104.88,180.67V195.93M106.72,177.92V193.7M108.56,175.16V191.46M110.4,172.34V189.16M112.24,169.71V187.05M114.08,167.25V185.11M115.92,164.84V183.22M117.76,162.52V181.42M119.6,160.3V179.73M121.44,158.23V178.17M123.28,156.32V176.78M125.12,154.6V175.58M126.96,153V174.51M128.8,151.49V173.52M130.64,150.07V172.61M132.48,148.73V171.8M134.32,147.7V170.83M136.16,146.75V169.95M138,145.89V169.15M139.84,145.08V168.41M141.68,144.34V167.73M143.52,143.64V167.09M145.36,142.98V166.5M147.2,142.37V165.95M149.04,141.79V165.43M150.88,141.24V164.95M152.72,140.72V164.49M154.56,140.23V164.07M156.4,139.77V163.67M158.24,139.33V163.29M160.08,138.9V162.93M161.92,138.48V162.57M163.76,138.06V162.22M165.6,137.64V161.86M167.44,137.21V161.5M169.28,136.8V161.15M171.12,136.54V160.65M172.96,136.29V160.16M174.8,136.05V159.68M176.64,135.81V159.2M178.48,135.57V158.72M180.32,135.33V158.24M182.16,135.08V157.75M184,134.83V157.26M185.84,134.57V156.76M187.68,134.29V156.24M189.52,134.01V155.72M191.36,133.7V155.17M193.2,133.37V154.59M195.04,133.01V154M196.88,132.64V153.38M198.72,132.25V152.76M200.56,131.86V152.12M202.4,131.45V151.48M204.24,131.05V150.83M206.08,130.65V150.19M207.92,130.25V149.56M209.76,129.87V148.93M211.6,129.49V148.32M213.44,129.14V147.72M215.28,128.81V147.15M217.12,128.5V146.6M218.96,128.23V146.09M220.8,127.98V145.61M222.64,127.78V145.16M224.48,127.59V144.73M226.32,127.4V144.3M228.16,127.22V143.88M230,127.05V143.47M231.84,126.88V143.06M233.68,126.72V142.66M235.52,126.57V142.27M237.36,126.43V141.89M239.2,126.3V141.51M241.04,126.17V141.15M242.88,126.06V140.8M244.72,125.96V140.46M246.56,125.87V140.13M248.4,125.8V139.81M250.24,125.73V139.51M252.08,125.69V139.22M253.92,125.65V138.95M255.76,125.64V138.69M257.6,125.64V138.45" stroke="#f08a24" stroke-width="0.75" stroke-opacity="0.8" fill="none"/>
<path d="M36.8,237.46V240.02M38.64,237.46V240.02M40.48,237.46V240.02M42.32,237.46V240.02M44.16,237.46V240.02M46,237.46V240.02M47.84,237.46V240.02M49.68,237.46V240.02M51.52,237.46V240.02M53.36,237.46V240.02M55.2,237.46V240.02M57.04,237.46V240.02M58.88,237.46V240.02M60.72,237.46V240.02M62.56,237.33V239.9M64.4,237.01V239.58M66.24,235.63V240.11M68.08,235.03V239.55M69.92,234.1V238.66M71.76,232.89V237.49M73.6,231.49V236.12M75.44,229.96V234.63M77.28,228.37V233.08M79.12,226.47V231.21M80.96,224.23V229.01M82.8,221.78V226.6M84.64,219.27V224.12M86.48,216.83V221.72M88.32,214.57V219.49M90.16,212.31V217.27M92,210.05V215.04M93.84,207.85V212.88M95.68,205.76V210.83M97.52,203.86V208.96M99.36,202.13V207.27M101.2,200.48V205.66M103.04,198.9V204.12M104.88,197.4V202.65M106.72,195.99V201.27M108.56,194.65V199.98M110.4,193.4V198.76M112.24,192.24V197.64M114.08,191.14V196.58M115.92,190.09V195.56M117.76,189.1V194.61M119.6,188.17V193.71M121.44,187.3V192.88M123.28,186.51V192.13M125.12,185.8V191.45M126.96,185.14V190.83M128.8,184.52V190.24M130.64,183.94V189.7M132.48,183.38V189.18M134.32,182.86V188.69M136.16,182.35V188.22M138,181.87V187.77M139.84,181.4V187.34M141.68,180.93V186.91M143.52,180.48V186.49M145.36,180.03V186.08M147.2,179.59V185.68M149.04,179.2V185.28M150.88,178.81V184.9M152.72,178.44V184.53M154.56,178.08V184.17M156.4,177.72V183.81M158.24,177.36V183.45M160.08,177V183.09M161.92,176.63V182.72M163.76,176.25V182.34M165.6,175.86V181.95M167.44,175.45V181.54M169.28,175.04V181.13M171.12,174.62V180.71M172.96,174.2V180.29M174.8,173.77V179.86M176.64,173.34V179.43M178.48,172.91V178.99M180.32,172.47V178.55M182.16,172.03V178.11M184,171.58V177.67M185.84,171.14V177.22M187.68,170.69V176.78M189.52,170.24V176.33M191.36,169.79V175.88M193.2,169.35V175.43M195.04,168.9V174.99M196.88,168.45V174.54M198.72,168.01V174.1M200.56,167.57V173.66M202.4,167.13V173.22M204.24,166.69V172.78M206.08,166.25V172.34M207.92,165.82V171.9M209.76,165.38V171.47M211.6,164.94V171.03M213.44,164.5V170.59M215.28,164.07V170.15M217.12,163.63V169.72M218.96,163.19V169.28M220.8,162.75V168.84M222.64,162.32V168.4M224.48,161.88V167.97M226.32,161.44V167.53M228.16,161V167.09M230,160.57V166.65M231.84,160.13V166.22M233.68,159.69V165.78M235.52,159.25V165.34M237.36,158.81V164.9M239.2,158.38V164.46M241.04,157.94V164.03M242.88,157.5V163.59M244.72,157.06V163.15M246.56,156.62V162.71M248.4,156.18V162.27M250.24,155.75V161.83M252.08,155.31V161.4M253.92,154.87V160.96M255.76,154.43V160.52M257.6,153.99V160.08" stroke="#8e1010" stroke-width="0.8" stroke-opacity="0.95" fill="none"/>
<path d="M36.8,238.1V240.02M38.64,238.1V240.02M40.48,238.09V240.01M42.32,238.08V240.01M44.16,238.07V239.99M46,238.06V239.98M47.84,238.04V239.96M49.68,238.01V239.94M51.52,237.99V239.91M53.36,237.96V239.88M55.2,237.92V239.84M57.04,237.88V239.8M58.88,237.83V239.75M60.72,237.78V239.7M62.56,237.63V239.55M64.4,237.32V239.24M66.24,235.95V239.79M68.08,235.34V239.19M69.92,234.35V238.19M71.76,233.04V236.88M73.6,231.51V235.36M75.44,229.85V233.7M77.28,228.14V231.98M79.12,226.11V229.96M80.96,223.75V227.59M82.8,221.16V225.01M84.64,218.5V222.34M86.48,215.88V219.73M88.32,213.41V217.26M90.16,210.91V214.76M92,208.38V212.23M93.84,205.9V209.74M95.68,203.53V207.37M97.52,201.34V205.18M99.36,199.4V203.24M101.2,197.64V201.49M103.04,195.96V199.81M104.88,194.24V198.09M106.72,192.4V196.24M108.56,190.5V194.34M110.4,188.61V192.45M112.24,186.8V190.64M114.08,184.98V188.83M115.92,183.13V186.98M117.76,181.31V185.15M119.6,179.57V183.41M121.44,177.97V181.81M123.28,176.56V180.41M125.12,175.41V179.25M126.96,174.41V178.25M128.8,173.48V177.33M130.64,172.63V176.47M132.48,171.83V175.68M134.32,171.09V174.94M136.16,170.4V174.24M138,169.73V173.58M139.84,169.09V172.94M141.68,168.47V172.32M143.52,167.86V171.7M145.36,167.25V171.09M147.2,166.66V170.51M149.04,166.11V169.95M150.88,165.57V169.41M152.72,165.05V168.9M154.56,164.55V168.39M156.4,164.05V167.9M158.24,163.57V167.41M160.08,163.09V166.93M161.92,162.6V166.45M163.76,162.12V165.96M165.6,161.62V165.47M167.44,161.12V164.97M169.28,160.62V164.47M171.12,160.12V163.96M172.96,159.62V163.47M174.8,159.12V162.97M176.64,158.63V162.47M178.48,158.13V161.97M180.32,157.64V161.48M182.16,157.14V160.99M184,156.65V160.5M185.84,156.17V160.01M187.68,155.68V159.53M189.52,155.2V159.04M191.36,154.72V158.56M193.2,154.24V158.09M195.04,153.77V157.61M196.88,153.3V157.14M198.72,152.83V156.68M200.56,152.37V156.21M202.4,151.91V155.76M204.24,151.45V155.3M206.08,151V154.85M207.92,150.55V154.39M209.76,150.1V153.94M211.6,149.65V153.49M213.44,149.2V153.05M215.28,148.76V152.6M217.12,148.31V152.16M218.96,147.87V151.72M220.8,147.43V151.28M222.64,146.99V150.84M224.48,146.56V150.4M226.32,146.12V149.97M228.16,145.69V149.54M230,145.26V149.11M231.84,144.83V148.68M233.68,144.41V148.25M235.52,143.98V147.83M237.36,143.56V147.41M239.2,143.15V146.99M241.04,142.73V146.57M242.88,142.32V146.16M244.72,141.9V145.75M246.56,141.49V145.34M248.4,141.09V144.93M250.24,140.68V144.53M252.08,140.28V144.13M253.92,139.88V143.73M255.76,139.49V143.33M257.6,139.09V142.94" stroke="#e21818" stroke-width="0.7" stroke-opacity="0.9" fill="none"/>
<path d="M36.8,239.06 L37.17,239.06 L37.54,239.06 L37.9,239.06 L38.27,239.06 L38.64,239.06 L39.01,239.06 L39.38,239.06 L39.74,239.06 L40.11,239.06 L40.48,239.06 L40.85,239.06 L41.22,239.06 L41.58,239.06 L41.95,239.06 L42.32,239.06 L42.69,239.06 L43.06,239.06 L43.42,239.06 L43.79,239.06 L44.16,239.06 L44.53,239.06 L44.9,239.06 L45.26,239.06 L45.63,239 L46,238.83 L46.37,238.57 L46.74,238.25 L47.1,237.89 L47.47,237.51 L47.84,237.14 L48.21,236.74 L48.58,236.3 L48.94,235.81 L49.31,235.27 L49.68,234.69 L50.05,234.07 L50.42,233.41 L50.78,232.73 L51.15,232.01 L51.52,231.25 L51.89,230.41 L52.26,229.52 L52.62,228.56 L52.99,227.56 L53.36,226.5 L53.73,225.41 L54.1,224.27 L54.46,223.11 L54.83,221.91 L55.2,220.7 L55.57,219.47 L55.94,218.23 L56.3,216.96 L56.67,215.62 L57.04,214.22 L57.41,212.77 L57.78,211.29 L58.14,209.77 L58.51,208.22 L58.88,206.65 L59.25,205.07 L59.62,203.48 L59.98,201.89 L60.35,200.28 L60.72,198.63 L61.09,196.93 L61.46,195.22 L61.82,193.5 L62.19,191.79 L62.56,190.1 L62.93,188.44 L63.3,186.8 L63.66,185.19 L64.03,183.59 L64.4,182 L64.77,180.41 L65.14,178.83 L65.5,177.24 L65.87,175.63 L66.24,174.02 L66.61,172.38 L66.98,170.73 L67.34,169.06 L67.71,167.39 L68.08,165.7 L68.45,164.02 L68.82,162.34 L69.18,160.67 L69.55,159 L69.92,157.36 L70.29,155.73 L70.66,154.13 L71.02,152.55 L71.39,150.99 L71.76,149.43 L72.13,147.88 L72.5,146.33 L72.86,144.8 L73.23,143.28 L73.6,141.78 L73.97,140.3 L74.34,138.84 L74.7,137.41 L75.07,136.02 L75.44,134.65 L75.81,133.33 L76.18,132.03 L76.54,130.75 L76.91,129.49 L77.28,128.24 L77.65,127.01 L78.02,125.81 L78.38,124.62 L78.75,123.44 L79.12,122.29 L79.49,121.15 L79.86,120.04 L80.22,118.94 L80.59,117.86 L80.96,116.8 L81.33,115.76 L81.7,114.74 L82.06,113.74 L82.43,112.74 L82.8,111.74 L83.17,110.76 L83.54,109.78 L83.9,108.82 L84.27,107.87 L84.64,106.94 L85.01,106.02 L85.38,105.12 L85.74,104.24 L86.11,103.38 L86.48,102.54 L86.85,101.73 L87.22,100.94 L87.58,100.17 L87.95,99.43 L88.32,98.72 L88.69,98.04 L89.06,97.37 L89.42,96.72 L89.79,96.08 L90.16,95.46 L90.53,94.85 L90.9,94.26 L91.26,93.68 L91.63,93.11 L92,92.56 L92.37,92.01 L92.74,91.48 L93.1,90.96 L93.47,90.44 L93.84,89.94 L94.21,89.44 L94.58,88.95 L94.94,88.47 L95.31,87.99 L95.68,87.51 L96.05,87.03 L96.42,86.55 L96.78,86.07 L97.15,85.61 L97.52,85.15 L97.89,84.7 L98.26,84.26 L98.62,83.83 L98.99,83.43 L99.36,83.04 L99.73,82.67 L100.1,82.32 L100.46,81.99 L100.83,81.69 L101.2,81.42 L101.57,81.17 L101.94,80.92 L102.3,80.68 L102.67,80.44 L103.04,80.21 L103.41,79.98 L103.78,79.77 L104.14,79.56 L104.51,79.35 L104.88,79.16 L105.25,78.97 L105.62,78.79 L105.98,78.62 L106.35,78.46 L106.72,78.31 L107.09,78.16 L107.46,78.02 L107.82,77.9 L108.19,77.78 L108.56,77.67 L108.93,77.58 L109.3,77.49 L109.66,77.4 L110.03,77.31 L110.4,77.22 L110.77,77.13 L111.14,77.05 L111.5,76.97 L111.87,76.89 L112.24,76.81 L112.61,76.73 L112.98,76.65 L113.34,76.58 L113.71,76.51 L114.08,76.44 L114.45,76.38 L114.82,76.32 L115.18,76.26 L115.55,76.2 L115.92,76.15 L116.29,76.1 L116.66,76.05 L117.02,76.01 L117.39,75.97 L117.76,75.94 L118.13,75.91 L118.5,75.88 L118.86,75.86 L119.23,75.84 L119.6,75.82 L119.97,75.82 L120.34,75.81 L120.7,75.8 L121.07,75.79 L121.44,75.79 L121.81,75.78 L122.18,75.77 L122.54,75.77 L122.91,75.76 L123.28,75.76 L123.65,75.75 L124.02,75.75 L124.38,75.74 L124.75,75.73 L125.12,75.73 L125.49,75.72 L125.86,75.72 L126.22,75.72 L126.59,75.71 L126.96,75.71 L127.33,75.7 L127.7,75.7 L128.06,75.7 L128.43,75.69 L128.8,75.69 L129.17,75.69 L129.54,75.68 L129.9,75.68 L130.27,75.68 L130.64,75.67 L131.01,75.67 L131.38,75.67 L131.74,75.67 L132.11,75.67 L132.48,75.66 L132.85,75.66 L133.22,75.66 L133.58,75.66 L133.95,75.66 L134.32,75.66 L134.69,75.66 L135.06,75.66 L135.42,75.66 L135.79,75.66 L136.16,75.66 L136.53,75.66 L136.9,75.66 L137.26,75.66 L137.63,75.66 L138,75.66 L138.37,75.66 L138.74,75.66 L139.1,75.67 L139.47,75.67 L139.84,75.67 L140.21,75.68 L140.58,75.68 L140.94,75.68 L141.31,75.69 L141.68,75.69 L142.05,75.7 L142.42,75.7 L142.78,75.71 L143.15,75.71 L143.52,75.72 L143.89,75.72 L144.26,75.73 L144.62,75.74 L144.99,75.74 L145.36,75.75 L145.73,75.76 L146.1,75.77 L146.46,75.77 L146.83,75.78 L147.2,75.79 L147.57,75.8 L147.94,75.81 L148.3,75.81 L148.67,75.82 L149.04,75.83 L149.41,75.84 L149.78,75.85 L150.14,75.86 L150.51,75.87 L150.88,75.88 L151.25,75.89 L151.62,75.9 L151.98,75.91 L152.35,75.92 L152.72,75.93 L153.09,75.94 L153.46,75.95 L153.82,75.96 L154.19,75.97 L154.56,75.98 L154.93,75.99 L155.3,76 L155.66,76.01 L156.03,76.02 L156.4,76.03 L156.77,76.04 L157.14,76.05 L157.5,76.06 L157.87,76.08 L158.24,76.09 L158.61,76.1 L158.98,76.11 L159.34,76.12 L159.71,76.13 L160.08,76.14 L160.45,76.15 L160.82,76.16 L161.18,76.17 L161.55,76.18 L161.92,76.19 L162.29,76.2 L162.66,76.21 L163.02,76.23 L163.39,76.24 L163.76,76.25 L164.13,76.26 L164.5,76.27 L164.86,76.28 L165.23,76.29 L165.6,76.3 L165.97,76.31 L166.34,76.32 L166.7,76.33 L167.07,76.34 L167.44,76.35 L167.81,76.36 L168.18,76.37 L168.54,76.38 L168.91,76.39 L169.28,76.4 L169.65,76.41 L170.02,76.42 L170.38,76.43 L170.75,76.44 L171.12,76.46 L171.49,76.47 L171.86,76.48 L172.22,76.49 L172.59,76.5 L172.96,76.51 L173.33,76.53 L173.7,76.54 L174.06,76.55 L174.43,76.56 L174.8,76.57 L175.17,76.59 L175.54,76.6 L175.9,76.61 L176.27,76.62 L176.64,76.64 L177.01,76.65 L177.38,76.66 L177.74,76.67 L178.11,76.69 L178.48,76.7 L178.85,76.71 L179.22,76.73 L179.58,76.74 L179.95,76.75 L180.32,76.76 L180.69,76.78 L181.06,76.79 L181.42,76.8 L181.79,76.82 L182.16,76.83 L182.53,76.84 L182.9,76.86 L183.26,76.87 L183.63,76.89 L184,76.9 L184.37,76.91 L184.74,76.93 L185.1,76.94 L185.47,76.95 L185.84,76.97 L186.21,76.98 L186.58,76.99 L186.94,77.01 L187.31,77.02 L187.68,77.04 L188.05,77.05 L188.42,77.06 L188.78,77.08 L189.15,77.09 L189.52,77.1 L189.89,77.12 L190.26,77.13 L190.62,77.15 L190.99,77.16 L191.36,77.17 L191.73,77.19 L192.1,77.2 L192.46,77.22 L192.83,77.23 L193.2,77.24 L193.57,77.26 L193.94,77.27 L194.3,77.28 L194.67,77.3 L195.04,77.31 L195.41,77.33 L195.78,77.34 L196.14,77.35 L196.51,77.37 L196.88,77.38 L197.25,77.39 L197.62,77.41 L197.98,77.42 L198.35,77.43 L198.72,77.45 L199.09,77.46 L199.46,77.47 L199.82,77.49 L200.19,77.5 L200.56,77.51 L200.93,77.53 L201.3,77.54 L201.66,77.55 L202.03,77.56 L202.4,77.58 L202.77,77.59 L203.14,77.6 L203.5,77.62 L203.87,77.63 L204.24,77.64 L204.61,77.65 L204.98,77.67 L205.34,77.68 L205.71,77.69 L206.08,77.71 L206.45,77.72 L206.82,77.73 L207.18,77.74 L207.55,77.76 L207.92,77.77 L208.29,77.78 L208.66,77.8 L209.02,77.81 L209.39,77.82 L209.76,77.83 L210.13,77.85 L210.5,77.86 L210.86,77.87 L211.23,77.89 L211.6,77.9 L211.97,77.91 L212.34,77.92 L212.7,77.94 L213.07,77.95 L213.44,77.96 L213.81,77.97 L214.18,77.99 L214.54,78 L214.91,78.01 L215.28,78.03 L215.65,78.04 L216.02,78.05 L216.38,78.06 L216.75,78.08 L217.12,78.09 L217.49,78.1 L217.86,78.12 L218.22,78.13 L218.59,78.14 L218.96,78.15 L219.33,78.17 L219.7,78.18 L220.06,78.19 L220.43,78.21 L220.8,78.22 L221.17,78.23 L221.54,78.24 L221.9,78.26 L222.27,78.27 L222.64,78.28 L223.01,78.3 L223.38,78.31 L223.74,78.32 L224.11,78.33 L224.48,78.35 L224.85,78.36 L225.22,78.37 L225.58,78.39 L225.95,78.4 L226.32,78.41 L226.69,78.42 L227.06,78.44 L227.42,78.45 L227.79,78.46 L228.16,78.47 L228.53,78.49 L228.9,78.5 L229.26,78.51 L229.63,78.53 L230,78.54 L230.37,78.55 L230.74,78.56 L231.1,78.58 L231.47,78.59 L231.84,78.6 L232.21,78.62 L232.58,78.63 L232.94,78.64 L233.31,78.65 L233.68,78.67 L234.05,78.68 L234.42,78.69 L234.78,78.71 L235.15,78.72 L235.52,78.73 L235.89,78.74 L236.26,78.76 L236.62,78.77 L236.99,78.78 L237.36,78.8 L237.73,78.81 L238.1,78.82 L238.46,78.83 L238.83,78.85 L239.2,78.86 L239.57,78.87 L239.94,78.88 L240.3,78.9 L240.67,78.91 L241.04,78.92 L241.41,78.94 L241.78,78.95 L242.14,78.96 L242.51,78.97 L242.88,78.99 L243.25,79 L243.62,79.01 L243.98,79.03 L244.35,79.04 L244.72,79.05 L245.09,79.06 L245.46,79.08 L245.82,79.09 L246.19,79.1 L246.56,79.12 L246.93,79.13 L247.3,79.14 L247.66,79.15 L248.03,79.17 L248.4,79.18 L248.77,79.19 L249.14,79.21 L249.5,79.22 L249.87,79.23 L250.24,79.24 L250.61,79.26 L250.98,79.27 L251.34,79.28 L251.71,79.29 L252.08,79.31 L252.45,79.32 L252.82,79.33 L253.18,79.35 L253.55,79.36 L253.92,79.37 L254.29,79.38 L254.66,79.4 L255.02,79.41 L255.39,79.42 L255.76,79.44 L256.13,79.45 L256.5,79.46 L256.86,79.47 L257.23,79.49 L257.6,79.5" stroke="#1515f0" stroke-width="1.3" fill="none" stroke-linejoin="round"/>
<path d="M36.8,239.38 L37.17,239.38 L37.54,239.38 L37.9,239.38 L38.27,239.38 L38.64,239.38 L39.01,239.38 L39.38,239.38 L39.74,239.38 L40.11,239.38 L40.48,239.38 L40.85,239.38 L41.22,239.38 L41.58,239.38 L41.95,239.38 L42.32,239.38 L42.69,239.38 L43.06,239.38 L43.42,239.38 L43.79,239.38 L44.16,239.38 L44.53,239.38 L44.9,239.38 L45.26,239.38 L45.63,239.38 L46,239.38 L46.37,239.38 L46.74,239.38 L47.1,239.38 L47.47,239.38 L47.84,239.38 L48.21,239.38 L48.58,239.38 L48.94,239.38 L49.31,239.38 L49.68,239.38 L50.05,239.38 L50.42,239.38 L50.78,239.38 L51.15,239.38 L51.52,239.38 L51.89,239.38 L52.26,239.38 L52.62,239.38 L52.99,239.38 L53.36,239.38 L53.73,239.38 L54.1,239.38 L54.46,239.38 L54.83,239.38 L55.2,239.38 L55.57,239.38 L55.94,239.38 L56.3,239.38 L56.67,239.38 L57.04,239.38 L57.41,239.38 L57.78,239.38 L58.14,239.38 L58.51,239.38 L58.88,239.38 L59.25,239.38 L59.62,239.38 L59.98,239.38 L60.35,239.38 L60.72,239.38 L61.09,239.38 L61.46,239.38 L61.82,239.38 L62.19,239.38 L62.56,239.38 L62.93,239.38 L63.3,239.38 L63.66,239.38 L64.03,239.38 L64.4,239.38 L64.77,239.38 L65.14,239.38 L65.5,239.38 L65.87,239.38 L66.24,239.38 L66.61,239.38 L66.98,239.38 L67.34,239.38 L67.71,239.38 L68.08,239.38 L68.45,239.38 L68.82,239.38 L69.18,239.38 L69.55,239.38 L69.92,239.38 L70.29,239.38 L70.66,239.38 L71.02,239.38 L71.39,239.38 L71.76,239.38 L72.13,239.38 L72.5,239.38 L72.86,239.38 L73.23,239.38 L73.6,239.38 L73.97,239.38 L74.34,239.38 L74.7,239.38 L75.07,239.27 L75.44,238.98 L75.81,238.52 L76.18,237.95 L76.54,237.29 L76.91,236.58 L77.28,235.86 L77.65,234.98 L78.02,233.84 L78.38,232.51 L78.75,231.05 L79.12,229.53 L79.49,228.02 L79.86,226.58 L80.22,225.28 L80.59,224.1 L80.96,222.96 L81.33,221.86 L81.7,220.78 L82.06,219.73 L82.43,218.71 L82.8,217.7 L83.17,216.7 L83.54,215.7 L83.9,214.71 L84.27,213.72 L84.64,212.71 L85.01,211.7 L85.38,210.66 L85.74,209.61 L86.11,208.52 L86.48,207.41 L86.85,206.25 L87.22,205.06 L87.58,203.82 L87.95,202.51 L88.32,201.13 L88.69,199.69 L89.06,198.21 L89.42,196.68 L89.79,195.12 L90.16,193.53 L90.53,191.94 L90.9,190.34 L91.26,188.75 L91.63,187.18 L92,185.64 L92.37,184.13 L92.74,182.67 L93.1,181.23 L93.47,179.8 L93.84,178.37 L94.21,176.95 L94.58,175.54 L94.94,174.15 L95.31,172.78 L95.68,171.44 L96.05,170.13 L96.42,168.85 L96.78,167.61 L97.15,166.39 L97.52,165.18 L97.89,163.98 L98.26,162.79 L98.62,161.6 L98.99,160.43 L99.36,159.26 L99.73,158.11 L100.1,156.97 L100.46,155.84 L100.83,154.73 L101.2,153.63 L101.57,152.55 L101.94,151.49 L102.3,150.44 L102.67,149.41 L103.04,148.41 L103.41,147.42 L103.78,146.45 L104.14,145.51 L104.51,144.59 L104.88,143.69 L105.25,142.82 L105.62,141.98 L105.98,141.15 L106.35,140.33 L106.72,139.51 L107.09,138.7 L107.46,137.9 L107.82,137.11 L108.19,136.33 L108.56,135.56 L108.93,134.8 L109.3,134.06 L109.66,133.33 L110.03,132.61 L110.4,131.91 L110.77,131.22 L111.14,130.56 L111.5,129.91 L111.87,129.27 L112.24,128.66 L112.61,128.07 L112.98,127.5 L113.34,126.95 L113.71,126.43 L114.08,125.93 L114.45,125.45 L114.82,125 L115.18,124.56 L115.55,124.13 L115.92,123.71 L116.29,123.29 L116.66,122.89 L117.02,122.48 L117.39,122.09 L117.76,121.7 L118.13,121.33 L118.5,120.96 L118.86,120.59 L119.23,120.24 L119.6,119.9 L119.97,119.57 L120.34,119.24 L120.7,118.93 L121.07,118.62 L121.44,118.33 L121.81,118.05 L122.18,117.77 L122.54,117.51 L122.91,117.26 L123.28,117.03 L123.65,116.8 L124.02,116.59 L124.38,116.39 L124.75,116.2 L125.12,116.03 L125.49,115.86 L125.86,115.69 L126.22,115.53 L126.59,115.37 L126.96,115.22 L127.33,115.06 L127.7,114.91 L128.06,114.77 L128.43,114.63 L128.8,114.49 L129.17,114.36 L129.54,114.23 L129.9,114.11 L130.27,113.99 L130.64,113.88 L131.01,113.77 L131.38,113.67 L131.74,113.58 L132.11,113.5 L132.48,113.42 L132.85,113.35 L133.22,113.28 L133.58,113.23 L133.95,113.18 L134.32,113.14 L134.69,113.11 L135.06,113.07 L135.42,113.04 L135.79,113.01 L136.16,112.97 L136.53,112.94 L136.9,112.91 L137.26,112.88 L137.63,112.85 L138,112.82 L138.37,112.79 L138.74,112.76 L139.1,112.74 L139.47,112.71 L139.84,112.68 L140.21,112.66 L140.58,112.63 L140.94,112.61 L141.31,112.58 L141.68,112.56 L142.05,112.54 L142.42,112.52 L142.78,112.5 L143.15,112.47 L143.52,112.45 L143.89,112.44 L144.26,112.42 L144.62,112.4 L144.99,112.38 L145.36,112.36 L145.73,112.35 L146.1,112.33 L146.46,112.32 L146.83,112.3 L147.2,112.29 L147.57,112.28 L147.94,112.27 L148.3,112.26 L148.67,112.25 L149.04,112.24 L149.41,112.23 L149.78,112.22 L150.14,112.21 L150.51,112.21 L150.88,112.2 L151.25,112.19 L151.62,112.19 L151.98,112.19 L152.35,112.18 L152.72,112.18 L153.09,112.18 L153.46,112.18 L153.82,112.18 L154.19,112.18 L154.56,112.18 L154.93,112.18 L155.3,112.18 L155.66,112.18 L156.03,112.18 L156.4,112.19 L156.77,112.19 L157.14,112.19 L157.5,112.19 L157.87,112.19 L158.24,112.19 L158.61,112.2 L158.98,112.2 L159.34,112.2 L159.71,112.2 L160.08,112.21 L160.45,112.21 L160.82,112.21 L161.18,112.22 L161.55,112.22 L161.92,112.22 L162.29,112.22 L162.66,112.23 L163.02,112.23 L163.39,112.24 L163.76,112.24 L164.13,112.24 L164.5,112.25 L164.86,112.25 L165.23,112.25 L165.6,112.26 L165.97,112.26 L166.34,112.27 L166.7,112.27 L167.07,112.28 L167.44,112.28 L167.81,112.29 L168.18,112.29 L168.54,112.29 L168.91,112.3 L169.28,112.3 L169.65,112.31 L170.02,112.31 L170.38,112.32 L170.75,112.32 L171.12,112.33 L171.49,112.33 L171.86,112.34 L172.22,112.34 L172.59,112.35 L172.96,112.35 L173.33,112.36 L173.7,112.36 L174.06,112.37 L174.43,112.37 L174.8,112.38 L175.17,112.39 L175.54,112.39 L175.9,112.4 L176.27,112.4 L176.64,112.41 L177.01,112.41 L177.38,112.42 L177.74,112.42 L178.11,112.43 L178.48,112.43 L178.85,112.44 L179.22,112.44 L179.58,112.45 L179.95,112.45 L180.32,112.46 L180.69,112.46 L181.06,112.47 L181.42,112.47 L181.79,112.47 L182.16,112.48 L182.53,112.48 L182.9,112.49 L183.26,112.49 L183.63,112.5 L184,112.5 L184.37,112.51 L184.74,112.51 L185.1,112.51 L185.47,112.52 L185.84,112.52 L186.21,112.53 L186.58,112.53 L186.94,112.54 L187.31,112.54 L187.68,112.54 L188.05,112.55 L188.42,112.55 L188.78,112.56 L189.15,112.56 L189.52,112.57 L189.89,112.57 L190.26,112.57 L190.62,112.58 L190.99,112.58 L191.36,112.59 L191.73,112.59 L192.1,112.6 L192.46,112.6 L192.83,112.6 L193.2,112.61 L193.57,112.61 L193.94,112.62 L194.3,112.62 L194.67,112.63 L195.04,112.63 L195.41,112.63 L195.78,112.64 L196.14,112.64 L196.51,112.65 L196.88,112.65 L197.25,112.66 L197.62,112.66 L197.98,112.67 L198.35,112.67 L198.72,112.67 L199.09,112.68 L199.46,112.68 L199.82,112.69 L200.19,112.69 L200.56,112.7 L200.93,112.7 L201.3,112.71 L201.66,112.71 L202.03,112.71 L202.4,112.72 L202.77,112.72 L203.14,112.73 L203.5,112.73 L203.87,112.74 L204.24,112.74 L204.61,112.75 L204.98,112.75 L205.34,112.75 L205.71,112.76 L206.08,112.76 L206.45,112.77 L206.82,112.77 L207.18,112.78 L207.55,112.78 L207.92,112.79 L208.29,112.79 L208.66,112.8 L209.02,112.8 L209.39,112.8 L209.76,112.81 L210.13,112.81 L210.5,112.82 L210.86,112.82 L211.23,112.83 L211.6,112.83 L211.97,112.84 L212.34,112.84 L212.7,112.85 L213.07,112.85 L213.44,112.86 L213.81,112.86 L214.18,112.87 L214.54,112.87 L214.91,112.87 L215.28,112.88 L215.65,112.88 L216.02,112.89 L216.38,112.89 L216.75,112.9 L217.12,112.9 L217.49,112.91 L217.86,112.91 L218.22,112.92 L218.59,112.92 L218.96,112.93 L219.33,112.93 L219.7,112.94 L220.06,112.94 L220.43,112.95 L220.8,112.95 L221.17,112.96 L221.54,112.96 L221.9,112.96 L222.27,112.97 L222.64,112.97 L223.01,112.98 L223.38,112.98 L223.74,112.99 L224.11,112.99 L224.48,113 L224.85,113 L225.22,113.01 L225.58,113.01 L225.95,113.02 L226.32,113.02 L226.69,113.03 L227.06,113.03 L227.42,113.04 L227.79,113.04 L228.16,113.05 L228.53,113.05 L228.9,113.06 L229.26,113.06 L229.63,113.07 L230,113.07 L230.37,113.08 L230.74,113.08 L231.1,113.09 L231.47,113.09 L231.84,113.1 L232.21,113.1 L232.58,113.11 L232.94,113.11 L233.31,113.12 L233.68,113.12 L234.05,113.13 L234.42,113.13 L234.78,113.14 L235.15,113.14 L235.52,113.15 L235.89,113.15 L236.26,113.16 L236.62,113.16 L236.99,113.17 L237.36,113.17 L237.73,113.18 L238.1,113.18 L238.46,113.19 L238.83,113.19 L239.2,113.2 L239.57,113.2 L239.94,113.21 L240.3,113.21 L240.67,113.22 L241.04,113.22 L241.41,113.23 L241.78,113.23 L242.14,113.24 L242.51,113.24 L242.88,113.25 L243.25,113.25 L243.62,113.26 L243.98,113.26 L244.35,113.27 L244.72,113.28 L245.09,113.28 L245.46,113.29 L245.82,113.29 L246.19,113.3 L246.56,113.3 L246.93,113.31 L247.3,113.31 L247.66,113.32 L248.03,113.32 L248.4,113.33 L248.77,113.33 L249.14,113.34 L249.5,113.34 L249.87,113.35 L250.24,113.35 L250.61,113.36 L250.98,113.37 L251.34,113.37 L251.71,113.38 L252.08,113.38 L252.45,113.39 L252.82,113.39 L253.18,113.4 L253.55,113.4 L253.92,113.41 L254.29,113.41 L254.66,113.42 L255.02,113.42 L255.39,113.43 L255.76,113.44 L256.13,113.44 L256.5,113.45 L256.86,113.45 L257.23,113.46 L257.6,113.46" stroke="#000000" stroke-width="1.4" fill="none" stroke-linejoin="round"/>
<path d="M36.8,239.06 L37.17,239.06 L37.54,239.06 L37.9,239.06 L38.27,239.06 L38.64,239.06 L39.01,239.06 L39.38,239.06 L39.74,239.06 L40.11,239.05 L40.48,239.05 L40.85,239.05 L41.22,239.05 L41.58,239.05 L41.95,239.05 L42.32,239.05 L42.69,239.04 L43.06,239.04 L43.42,239.04 L43.79,239.04 L44.16,239.04 L44.53,239.03 L44.9,239.03 L45.26,239.03 L45.63,239.02 L46,239.02 L46.37,239.02 L46.74,239.01 L47.1,239.01 L47.47,239.01 L47.84,239 L48.21,239 L48.58,238.99 L48.94,238.99 L49.31,238.98 L49.68,238.98 L50.05,238.97 L50.42,238.97 L50.78,238.96 L51.15,238.96 L51.52,238.95 L51.89,238.95 L52.26,238.94 L52.62,238.93 L52.99,238.93 L53.36,238.92 L53.73,238.91 L54.1,238.91 L54.46,238.9 L54.83,238.89 L55.2,238.88 L55.57,238.87 L55.94,238.87 L56.3,238.86 L56.67,238.85 L57.04,238.84 L57.41,238.83 L57.78,238.82 L58.14,238.81 L58.51,238.8 L58.88,238.79 L59.25,238.78 L59.62,238.77 L59.98,238.76 L60.35,238.75 L60.72,238.74 L61.09,238.72 L61.46,238.69 L61.82,238.65 L62.19,238.6 L62.56,238.54 L62.93,238.47 L63.3,238.4 L63.66,238.31 L64.03,238.22 L64.4,238.13 L64.77,238.02 L65.14,237.92 L65.5,237.81 L65.87,237.69 L66.24,237.58 L66.61,237.46 L66.98,237.33 L67.34,237.18 L67.71,237.02 L68.08,236.85 L68.45,236.65 L68.82,236.45 L69.18,236.22 L69.55,235.99 L69.92,235.74 L70.29,235.48 L70.66,235.21 L71.02,234.93 L71.39,234.64 L71.76,234.33 L72.13,234.02 L72.5,233.7 L72.86,233.38 L73.23,233.04 L73.6,232.7 L73.97,232.36 L74.34,232 L74.7,231.65 L75.07,231.29 L75.44,230.92 L75.81,230.56 L76.18,230.19 L76.54,229.82 L76.91,229.45 L77.28,229.07 L77.65,228.67 L78.02,228.25 L78.38,227.81 L78.75,227.36 L79.12,226.89 L79.49,226.4 L79.86,225.91 L80.22,225.4 L80.59,224.87 L80.96,224.34 L81.33,223.8 L81.7,223.25 L82.06,222.69 L82.43,222.13 L82.8,221.55 L83.17,220.98 L83.54,220.4 L83.9,219.82 L84.27,219.23 L84.64,218.65 L85.01,218.07 L85.38,217.48 L85.74,216.9 L86.11,216.33 L86.48,215.75 L86.85,215.18 L87.22,214.62 L87.58,214.07 L87.95,213.51 L88.32,212.96 L88.69,212.39 L89.06,211.83 L89.42,211.26 L89.79,210.68 L90.16,210.1 L90.53,209.52 L90.9,208.94 L91.26,208.36 L91.63,207.77 L92,207.19 L92.37,206.6 L92.74,206.02 L93.1,205.43 L93.47,204.85 L93.84,204.26 L94.21,203.68 L94.58,203.1 L94.94,202.52 L95.31,201.95 L95.68,201.38 L96.05,200.81 L96.42,200.25 L96.78,199.69 L97.15,199.14 L97.52,198.59 L97.89,198.05 L98.26,197.51 L98.62,196.98 L98.99,196.45 L99.36,195.92 L99.73,195.4 L100.1,194.88 L100.46,194.36 L100.83,193.85 L101.2,193.33 L101.57,192.82 L101.94,192.31 L102.3,191.81 L102.67,191.3 L103.04,190.8 L103.41,190.3 L103.78,189.8 L104.14,189.3 L104.51,188.8 L104.88,188.3 L105.25,187.8 L105.62,187.3 L105.98,186.8 L106.35,186.31 L106.72,185.81 L107.09,185.31 L107.46,184.81 L107.82,184.31 L108.19,183.81 L108.56,183.31 L108.93,182.8 L109.3,182.29 L109.66,181.77 L110.03,181.26 L110.4,180.75 L110.77,180.25 L111.14,179.76 L111.5,179.28 L111.87,178.82 L112.24,178.38 L112.61,177.94 L112.98,177.49 L113.34,177.05 L113.71,176.61 L114.08,176.18 L114.45,175.74 L114.82,175.31 L115.18,174.88 L115.55,174.45 L115.92,174.03 L116.29,173.61 L116.66,173.19 L117.02,172.78 L117.39,172.37 L117.76,171.97 L118.13,171.57 L118.5,171.17 L118.86,170.78 L119.23,170.4 L119.6,170.02 L119.97,169.64 L120.34,169.27 L120.7,168.91 L121.07,168.55 L121.44,168.2 L121.81,167.86 L122.18,167.52 L122.54,167.19 L122.91,166.87 L123.28,166.55 L123.65,166.24 L124.02,165.94 L124.38,165.65 L124.75,165.37 L125.12,165.09 L125.49,164.82 L125.86,164.54 L126.22,164.28 L126.59,164.01 L126.96,163.75 L127.33,163.5 L127.7,163.24 L128.06,162.99 L128.43,162.75 L128.8,162.5 L129.17,162.26 L129.54,162.03 L129.9,161.8 L130.27,161.57 L130.64,161.34 L131.01,161.12 L131.38,160.9 L131.74,160.68 L132.11,160.47 L132.48,160.26 L132.85,160.05 L133.22,159.85 L133.58,159.65 L133.95,159.46 L134.32,159.26 L134.69,159.08 L135.06,158.89 L135.42,158.71 L135.79,158.53 L136.16,158.35 L136.53,158.18 L136.9,158.01 L137.26,157.84 L137.63,157.68 L138,157.52 L138.37,157.36 L138.74,157.2 L139.1,157.05 L139.47,156.9 L139.84,156.75 L140.21,156.6 L140.58,156.45 L140.94,156.31 L141.31,156.17 L141.68,156.03 L142.05,155.89 L142.42,155.76 L142.78,155.63 L143.15,155.49 L143.52,155.36 L143.89,155.24 L144.26,155.11 L144.62,154.99 L144.99,154.86 L145.36,154.74 L145.73,154.62 L146.1,154.5 L146.46,154.39 L146.83,154.27 L147.2,154.16 L147.57,154.05 L147.94,153.93 L148.3,153.82 L148.67,153.72 L149.04,153.61 L149.41,153.5 L149.78,153.4 L150.14,153.29 L150.51,153.19 L150.88,153.09 L151.25,152.99 L151.62,152.89 L151.98,152.8 L152.35,152.7 L152.72,152.61 L153.09,152.51 L153.46,152.42 L153.82,152.33 L154.19,152.24 L154.56,152.15 L154.93,152.06 L155.3,151.98 L155.66,151.89 L156.03,151.81 L156.4,151.72 L156.77,151.64 L157.14,151.56 L157.5,151.47 L157.87,151.39 L158.24,151.31 L158.61,151.23 L158.98,151.15 L159.34,151.07 L159.71,150.99 L160.08,150.92 L160.45,150.84 L160.82,150.76 L161.18,150.68 L161.55,150.6 L161.92,150.53 L162.29,150.45 L162.66,150.37 L163.02,150.29 L163.39,150.22 L163.76,150.14 L164.13,150.06 L164.5,149.98 L164.86,149.9 L165.23,149.83 L165.6,149.75 L165.97,149.67 L166.34,149.59 L166.7,149.51 L167.07,149.43 L167.44,149.35 L167.81,149.28 L168.18,149.2 L168.54,149.12 L168.91,149.05 L169.28,148.97 L169.65,148.9 L170.02,148.82 L170.38,148.75 L170.75,148.67 L171.12,148.6 L171.49,148.52 L171.86,148.45 L172.22,148.38 L172.59,148.3 L172.96,148.23 L173.33,148.16 L173.7,148.08 L174.06,148.01 L174.43,147.94 L174.8,147.87 L175.17,147.79 L175.54,147.72 L175.9,147.65 L176.27,147.58 L176.64,147.51 L177.01,147.43 L177.38,147.36 L177.74,147.29 L178.11,147.22 L178.48,147.15 L178.85,147.07 L179.22,147 L179.58,146.93 L179.95,146.86 L180.32,146.78 L180.69,146.71 L181.06,146.64 L181.42,146.56 L181.79,146.49 L182.16,146.42 L182.53,146.34 L182.9,146.27 L183.26,146.19 L183.63,146.12 L184,146.04 L184.37,145.97 L184.74,145.89 L185.1,145.82 L185.47,145.74 L185.84,145.66 L186.21,145.58 L186.58,145.51 L186.94,145.43 L187.31,145.35 L187.68,145.27 L188.05,145.19 L188.42,145.11 L188.78,145.03 L189.15,144.94 L189.52,144.86 L189.89,144.78 L190.26,144.69 L190.62,144.61 L190.99,144.52 L191.36,144.43 L191.73,144.34 L192.1,144.25 L192.46,144.16 L192.83,144.07 L193.2,143.98 L193.57,143.89 L193.94,143.79 L194.3,143.7 L194.67,143.6 L195.04,143.5 L195.41,143.41 L195.78,143.31 L196.14,143.21 L196.51,143.11 L196.88,143.01 L197.25,142.91 L197.62,142.81 L197.98,142.71 L198.35,142.61 L198.72,142.5 L199.09,142.4 L199.46,142.3 L199.82,142.2 L200.19,142.09 L200.56,141.99 L200.93,141.88 L201.3,141.78 L201.66,141.67 L202.03,141.57 L202.4,141.47 L202.77,141.36 L203.14,141.26 L203.5,141.15 L203.87,141.05 L204.24,140.94 L204.61,140.84 L204.98,140.73 L205.34,140.63 L205.71,140.52 L206.08,140.42 L206.45,140.32 L206.82,140.21 L207.18,140.11 L207.55,140.01 L207.92,139.9 L208.29,139.8 L208.66,139.7 L209.02,139.6 L209.39,139.5 L209.76,139.4 L210.13,139.3 L210.5,139.2 L210.86,139.1 L211.23,139 L211.6,138.91 L211.97,138.81 L212.34,138.71 L212.7,138.62 L213.07,138.52 L213.44,138.43 L213.81,138.34 L214.18,138.25 L214.54,138.16 L214.91,138.07 L215.28,137.98 L215.65,137.89 L216.02,137.81 L216.38,137.72 L216.75,137.64 L217.12,137.55 L217.49,137.47 L217.86,137.39 L218.22,137.31 L218.59,137.23 L218.96,137.16 L219.33,137.08 L219.7,137.01 L220.06,136.94 L220.43,136.86 L220.8,136.79 L221.17,136.73 L221.54,136.66 L221.9,136.59 L222.27,136.53 L222.64,136.47 L223.01,136.41 L223.38,136.34 L223.74,136.28 L224.11,136.22 L224.48,136.16 L224.85,136.1 L225.22,136.04 L225.58,135.97 L225.95,135.91 L226.32,135.85 L226.69,135.79 L227.06,135.73 L227.42,135.67 L227.79,135.61 L228.16,135.55 L228.53,135.49 L228.9,135.43 L229.26,135.38 L229.63,135.32 L230,135.26 L230.37,135.2 L230.74,135.14 L231.1,135.09 L231.47,135.03 L231.84,134.97 L232.21,134.92 L232.58,134.86 L232.94,134.8 L233.31,134.75 L233.68,134.69 L234.05,134.64 L234.42,134.58 L234.78,134.53 L235.15,134.47 L235.52,134.42 L235.89,134.37 L236.26,134.31 L236.62,134.26 L236.99,134.21 L237.36,134.16 L237.73,134.11 L238.1,134.06 L238.46,134 L238.83,133.95 L239.2,133.9 L239.57,133.86 L239.94,133.81 L240.3,133.76 L240.67,133.71 L241.04,133.66 L241.41,133.61 L241.78,133.57 L242.14,133.52 L242.51,133.47 L242.88,133.43 L243.25,133.38 L243.62,133.34 L243.98,133.3 L244.35,133.25 L244.72,133.21 L245.09,133.17 L245.46,133.12 L245.82,133.08 L246.19,133.04 L246.56,133 L246.93,132.96 L247.3,132.92 L247.66,132.88 L248.03,132.84 L248.4,132.8 L248.77,132.77 L249.14,132.73 L249.5,132.69 L249.87,132.66 L250.24,132.62 L250.61,132.59 L250.98,132.55 L251.34,132.52 L251.71,132.49 L252.08,132.46 L252.45,132.42 L252.82,132.39 L253.18,132.36 L253.55,132.33 L253.92,132.3 L254.29,132.27 L254.66,132.25 L255.02,132.22 L255.39,132.19 L255.76,132.17 L256.13,132.14 L256.5,132.12 L256.86,132.09 L257.23,132.07 L257.6,132.05" stroke="#f08a24" stroke-width="1.5" fill="none" stroke-linejoin="round"/>
<path d="M36.8,238.74 L37.17,238.74 L37.54,238.74 L37.9,238.74 L38.27,238.74 L38.64,238.74 L39.01,238.74 L39.38,238.74 L39.74,238.74 L40.11,238.74 L40.48,238.74 L40.85,238.74 L41.22,238.74 L41.58,238.74 L41.95,238.74 L42.32,238.74 L42.69,238.74 L43.06,238.74 L43.42,238.74 L43.79,238.74 L44.16,238.74 L44.53,238.74 L44.9,238.74 L45.26,238.74 L45.63,238.74 L46,238.74 L46.37,238.74 L46.74,238.74 L47.1,238.74 L47.47,238.74 L47.84,238.74 L48.21,238.74 L48.58,238.74 L48.94,238.74 L49.31,238.74 L49.68,238.74 L50.05,238.74 L50.42,238.74 L50.78,238.74 L51.15,238.74 L51.52,238.74 L51.89,238.74 L52.26,238.74 L52.62,238.74 L52.99,238.74 L53.36,238.74 L53.73,238.74 L54.1,238.74 L54.46,238.74 L54.83,238.74 L55.2,238.74 L55.57,238.74 L55.94,238.74 L56.3,238.74 L56.67,238.74 L57.04,238.74 L57.41,238.74 L57.78,238.74 L58.14,238.74 L58.51,238.74 L58.88,238.74 L59.25,238.74 L59.62,238.74 L59.98,238.74 L60.35,238.74 L60.72,238.74 L61.09,238.73 L61.46,238.72 L61.82,238.69 L62.19,238.66 L62.56,238.61 L62.93,238.56 L63.3,238.5 L63.66,238.44 L64.03,238.37 L64.4,238.3 L64.77,238.22 L65.14,238.13 L65.5,238.05 L65.87,237.96 L66.24,237.87 L66.61,237.78 L66.98,237.68 L67.34,237.56 L67.71,237.43 L68.08,237.29 L68.45,237.13 L68.82,236.96 L69.18,236.78 L69.55,236.58 L69.92,236.38 L70.29,236.16 L70.66,235.93 L71.02,235.69 L71.39,235.45 L71.76,235.19 L72.13,234.93 L72.5,234.66 L72.86,234.38 L73.23,234.1 L73.6,233.81 L73.97,233.51 L74.34,233.22 L74.7,232.91 L75.07,232.61 L75.44,232.3 L75.81,231.99 L76.18,231.68 L76.54,231.36 L76.91,231.05 L77.28,230.73 L77.65,230.38 L78.02,230.02 L78.38,229.64 L78.75,229.25 L79.12,228.84 L79.49,228.42 L79.86,227.99 L80.22,227.54 L80.59,227.08 L80.96,226.62 L81.33,226.14 L81.7,225.66 L82.06,225.18 L82.43,224.68 L82.8,224.19 L83.17,223.69 L83.54,223.19 L83.9,222.69 L84.27,222.19 L84.64,221.7 L85.01,221.2 L85.38,220.71 L85.74,220.22 L86.11,219.75 L86.48,219.27 L86.85,218.81 L87.22,218.36 L87.58,217.91 L87.95,217.47 L88.32,217.03 L88.69,216.59 L89.06,216.14 L89.42,215.69 L89.79,215.24 L90.16,214.79 L90.53,214.34 L90.9,213.89 L91.26,213.44 L91.63,212.99 L92,212.55 L92.37,212.1 L92.74,211.66 L93.1,211.22 L93.47,210.79 L93.84,210.36 L94.21,209.94 L94.58,209.52 L94.94,209.1 L95.31,208.7 L95.68,208.29 L96.05,207.9 L96.42,207.51 L96.78,207.14 L97.15,206.77 L97.52,206.41 L97.89,206.06 L98.26,205.71 L98.62,205.37 L98.99,205.04 L99.36,204.7 L99.73,204.37 L100.1,204.04 L100.46,203.71 L100.83,203.39 L101.2,203.07 L101.57,202.75 L101.94,202.43 L102.3,202.12 L102.67,201.81 L103.04,201.51 L103.41,201.21 L103.78,200.91 L104.14,200.61 L104.51,200.32 L104.88,200.03 L105.25,199.74 L105.62,199.46 L105.98,199.18 L106.35,198.9 L106.72,198.63 L107.09,198.36 L107.46,198.09 L107.82,197.83 L108.19,197.57 L108.56,197.31 L108.93,197.06 L109.3,196.81 L109.66,196.57 L110.03,196.32 L110.4,196.08 L110.77,195.85 L111.14,195.62 L111.5,195.39 L111.87,195.16 L112.24,194.94 L112.61,194.72 L112.98,194.5 L113.34,194.29 L113.71,194.07 L114.08,193.86 L114.45,193.65 L114.82,193.44 L115.18,193.24 L115.55,193.03 L115.92,192.83 L116.29,192.63 L116.66,192.43 L117.02,192.24 L117.39,192.04 L117.76,191.85 L118.13,191.67 L118.5,191.48 L118.86,191.3 L119.23,191.12 L119.6,190.94 L119.97,190.77 L120.34,190.59 L120.7,190.42 L121.07,190.26 L121.44,190.09 L121.81,189.93 L122.18,189.77 L122.54,189.62 L122.91,189.47 L123.28,189.32 L123.65,189.17 L124.02,189.03 L124.38,188.89 L124.75,188.76 L125.12,188.62 L125.49,188.49 L125.86,188.36 L126.22,188.23 L126.59,188.11 L126.96,187.98 L127.33,187.86 L127.7,187.74 L128.06,187.62 L128.43,187.5 L128.8,187.38 L129.17,187.27 L129.54,187.15 L129.9,187.04 L130.27,186.93 L130.64,186.82 L131.01,186.71 L131.38,186.6 L131.74,186.49 L132.11,186.39 L132.48,186.28 L132.85,186.18 L133.22,186.08 L133.58,185.97 L133.95,185.87 L134.32,185.77 L134.69,185.68 L135.06,185.58 L135.42,185.48 L135.79,185.38 L136.16,185.29 L136.53,185.19 L136.9,185.1 L137.26,185.01 L137.63,184.91 L138,184.82 L138.37,184.73 L138.74,184.64 L139.1,184.55 L139.47,184.46 L139.84,184.37 L140.21,184.28 L140.58,184.19 L140.94,184.1 L141.31,184.01 L141.68,183.92 L142.05,183.84 L142.42,183.75 L142.78,183.66 L143.15,183.57 L143.52,183.48 L143.89,183.4 L144.26,183.31 L144.62,183.22 L144.99,183.14 L145.36,183.05 L145.73,182.97 L146.1,182.88 L146.46,182.8 L146.83,182.72 L147.2,182.64 L147.57,182.56 L147.94,182.48 L148.3,182.4 L148.67,182.32 L149.04,182.24 L149.41,182.16 L149.78,182.09 L150.14,182.01 L150.51,181.93 L150.88,181.86 L151.25,181.78 L151.62,181.71 L151.98,181.64 L152.35,181.56 L152.72,181.49 L153.09,181.41 L153.46,181.34 L153.82,181.27 L154.19,181.2 L154.56,181.12 L154.93,181.05 L155.3,180.98 L155.66,180.91 L156.03,180.84 L156.4,180.77 L156.77,180.69 L157.14,180.62 L157.5,180.55 L157.87,180.48 L158.24,180.41 L158.61,180.33 L158.98,180.26 L159.34,180.19 L159.71,180.12 L160.08,180.04 L160.45,179.97 L160.82,179.9 L161.18,179.82 L161.55,179.75 L161.92,179.68 L162.29,179.6 L162.66,179.53 L163.02,179.45 L163.39,179.37 L163.76,179.3 L164.13,179.22 L164.5,179.14 L164.86,179.06 L165.23,178.98 L165.6,178.9 L165.97,178.82 L166.34,178.74 L166.7,178.66 L167.07,178.58 L167.44,178.5 L167.81,178.42 L168.18,178.33 L168.54,178.25 L168.91,178.17 L169.28,178.09 L169.65,178 L170.02,177.92 L170.38,177.84 L170.75,177.75 L171.12,177.67 L171.49,177.58 L171.86,177.5 L172.22,177.42 L172.59,177.33 L172.96,177.25 L173.33,177.16 L173.7,177.07 L174.06,176.99 L174.43,176.9 L174.8,176.82 L175.17,176.73 L175.54,176.65 L175.9,176.56 L176.27,176.47 L176.64,176.39 L177.01,176.3 L177.38,176.21 L177.74,176.12 L178.11,176.04 L178.48,175.95 L178.85,175.86 L179.22,175.77 L179.58,175.69 L179.95,175.6 L180.32,175.51 L180.69,175.42 L181.06,175.33 L181.42,175.25 L181.79,175.16 L182.16,175.07 L182.53,174.98 L182.9,174.89 L183.26,174.8 L183.63,174.71 L184,174.63 L184.37,174.54 L184.74,174.45 L185.1,174.36 L185.47,174.27 L185.84,174.18 L186.21,174.09 L186.58,174 L186.94,173.91 L187.31,173.82 L187.68,173.73 L188.05,173.64 L188.42,173.55 L188.78,173.46 L189.15,173.37 L189.52,173.29 L189.89,173.2 L190.26,173.11 L190.62,173.02 L190.99,172.93 L191.36,172.84 L191.73,172.75 L192.1,172.66 L192.46,172.57 L192.83,172.48 L193.2,172.39 L193.57,172.3 L193.94,172.21 L194.3,172.12 L194.67,172.03 L195.04,171.94 L195.41,171.85 L195.78,171.76 L196.14,171.68 L196.51,171.59 L196.88,171.5 L197.25,171.41 L197.62,171.32 L197.98,171.23 L198.35,171.14 L198.72,171.05 L199.09,170.97 L199.46,170.88 L199.82,170.79 L200.19,170.7 L200.56,170.61 L200.93,170.52 L201.3,170.44 L201.66,170.35 L202.03,170.26 L202.4,170.17 L202.77,170.09 L203.14,170 L203.5,169.91 L203.87,169.82 L204.24,169.74 L204.61,169.65 L204.98,169.56 L205.34,169.47 L205.71,169.39 L206.08,169.3 L206.45,169.21 L206.82,169.12 L207.18,169.04 L207.55,168.95 L207.92,168.86 L208.29,168.77 L208.66,168.69 L209.02,168.6 L209.39,168.51 L209.76,168.42 L210.13,168.34 L210.5,168.25 L210.86,168.16 L211.23,168.07 L211.6,167.99 L211.97,167.9 L212.34,167.81 L212.7,167.72 L213.07,167.64 L213.44,167.55 L213.81,167.46 L214.18,167.37 L214.54,167.29 L214.91,167.2 L215.28,167.11 L215.65,167.02 L216.02,166.94 L216.38,166.85 L216.75,166.76 L217.12,166.67 L217.49,166.59 L217.86,166.5 L218.22,166.41 L218.59,166.32 L218.96,166.24 L219.33,166.15 L219.7,166.06 L220.06,165.97 L220.43,165.89 L220.8,165.8 L221.17,165.71 L221.54,165.62 L221.9,165.54 L222.27,165.45 L222.64,165.36 L223.01,165.27 L223.38,165.19 L223.74,165.1 L224.11,165.01 L224.48,164.92 L224.85,164.84 L225.22,164.75 L225.58,164.66 L225.95,164.57 L226.32,164.48 L226.69,164.4 L227.06,164.31 L227.42,164.22 L227.79,164.13 L228.16,164.05 L228.53,163.96 L228.9,163.87 L229.26,163.78 L229.63,163.7 L230,163.61 L230.37,163.52 L230.74,163.43 L231.1,163.35 L231.47,163.26 L231.84,163.17 L232.21,163.08 L232.58,163 L232.94,162.91 L233.31,162.82 L233.68,162.73 L234.05,162.65 L234.42,162.56 L234.78,162.47 L235.15,162.38 L235.52,162.3 L235.89,162.21 L236.26,162.12 L236.62,162.03 L236.99,161.94 L237.36,161.86 L237.73,161.77 L238.1,161.68 L238.46,161.59 L238.83,161.51 L239.2,161.42 L239.57,161.33 L239.94,161.24 L240.3,161.16 L240.67,161.07 L241.04,160.98 L241.41,160.89 L241.78,160.81 L242.14,160.72 L242.51,160.63 L242.88,160.54 L243.25,160.46 L243.62,160.37 L243.98,160.28 L244.35,160.19 L244.72,160.11 L245.09,160.02 L245.46,159.93 L245.82,159.84 L246.19,159.75 L246.56,159.67 L246.93,159.58 L247.3,159.49 L247.66,159.4 L248.03,159.32 L248.4,159.23 L248.77,159.14 L249.14,159.05 L249.5,158.97 L249.87,158.88 L250.24,158.79 L250.61,158.7 L250.98,158.61 L251.34,158.53 L251.71,158.44 L252.08,158.35 L252.45,158.26 L252.82,158.18 L253.18,158.09 L253.55,158 L253.92,157.91 L254.29,157.83 L254.66,157.74 L255.02,157.65 L255.39,157.56 L255.76,157.48 L256.13,157.39 L256.5,157.3 L256.86,157.21 L257.23,157.12 L257.6,157.04" stroke="#9a1a1a" stroke-width="1.6" fill="none" stroke-linejoin="round"/>
<path d="M36.8,239.06 L37.17,239.06 L37.54,239.06 L37.9,239.06 L38.27,239.06 L38.64,239.06 L39.01,239.06 L39.38,239.06 L39.74,239.06 L40.11,239.05 L40.48,239.05 L40.85,239.05 L41.22,239.05 L41.58,239.05 L41.95,239.05 L42.32,239.05 L42.69,239.04 L43.06,239.04 L43.42,239.04 L43.79,239.04 L44.16,239.03 L44.53,239.03 L44.9,239.03 L45.26,239.03 L45.63,239.02 L46,239.02 L46.37,239.02 L46.74,239.01 L47.1,239.01 L47.47,239 L47.84,239 L48.21,239 L48.58,238.99 L48.94,238.99 L49.31,238.98 L49.68,238.98 L50.05,238.97 L50.42,238.97 L50.78,238.96 L51.15,238.95 L51.52,238.95 L51.89,238.94 L52.26,238.94 L52.62,238.93 L52.99,238.92 L53.36,238.92 L53.73,238.91 L54.1,238.9 L54.46,238.89 L54.83,238.89 L55.2,238.88 L55.57,238.87 L55.94,238.86 L56.3,238.86 L56.67,238.85 L57.04,238.84 L57.41,238.83 L57.78,238.82 L58.14,238.81 L58.51,238.8 L58.88,238.79 L59.25,238.78 L59.62,238.77 L59.98,238.76 L60.35,238.75 L60.72,238.74 L61.09,238.72 L61.46,238.7 L61.82,238.67 L62.19,238.63 L62.56,238.59 L62.93,238.54 L63.3,238.48 L63.66,238.42 L64.03,238.35 L64.4,238.28 L64.77,238.21 L65.14,238.13 L65.5,238.04 L65.87,237.96 L66.24,237.87 L66.61,237.78 L66.98,237.68 L67.34,237.56 L67.71,237.42 L68.08,237.26 L68.45,237.09 L68.82,236.91 L69.18,236.71 L69.55,236.5 L69.92,236.27 L70.29,236.03 L70.66,235.78 L71.02,235.52 L71.39,235.24 L71.76,234.96 L72.13,234.67 L72.5,234.37 L72.86,234.07 L73.23,233.75 L73.6,233.43 L73.97,233.11 L74.34,232.78 L74.7,232.45 L75.07,232.11 L75.44,231.77 L75.81,231.43 L76.18,231.09 L76.54,230.75 L76.91,230.41 L77.28,230.06 L77.65,229.69 L78.02,229.3 L78.38,228.89 L78.75,228.47 L79.12,228.04 L79.49,227.59 L79.86,227.12 L80.22,226.65 L80.59,226.16 L80.96,225.67 L81.33,225.17 L81.7,224.65 L82.06,224.14 L82.43,223.61 L82.8,223.09 L83.17,222.56 L83.54,222.02 L83.9,221.49 L84.27,220.95 L84.64,220.42 L85.01,219.89 L85.38,219.36 L85.74,218.84 L86.11,218.32 L86.48,217.8 L86.85,217.3 L87.22,216.8 L87.58,216.31 L87.95,215.82 L88.32,215.33 L88.69,214.84 L89.06,214.34 L89.42,213.84 L89.79,213.34 L90.16,212.83 L90.53,212.33 L90.9,211.82 L91.26,211.32 L91.63,210.81 L92,210.31 L92.37,209.8 L92.74,209.3 L93.1,208.8 L93.47,208.31 L93.84,207.82 L94.21,207.33 L94.58,206.85 L94.94,206.38 L95.31,205.91 L95.68,205.45 L96.05,204.99 L96.42,204.55 L96.78,204.11 L97.15,203.68 L97.52,203.26 L97.89,202.85 L98.26,202.46 L98.62,202.07 L98.99,201.69 L99.36,201.32 L99.73,200.96 L100.1,200.6 L100.46,200.25 L100.83,199.91 L101.2,199.57 L101.57,199.23 L101.94,198.89 L102.3,198.56 L102.67,198.22 L103.04,197.89 L103.41,197.55 L103.78,197.21 L104.14,196.87 L104.51,196.52 L104.88,196.16 L105.25,195.81 L105.62,195.44 L105.98,195.07 L106.35,194.7 L106.72,194.32 L107.09,193.94 L107.46,193.56 L107.82,193.18 L108.19,192.8 L108.56,192.42 L108.93,192.04 L109.3,191.66 L109.66,191.28 L110.03,190.9 L110.4,190.53 L110.77,190.16 L111.14,189.79 L111.5,189.43 L111.87,189.08 L112.24,188.72 L112.61,188.36 L112.98,188 L113.34,187.64 L113.71,187.27 L114.08,186.9 L114.45,186.54 L114.82,186.17 L115.18,185.8 L115.55,185.42 L115.92,185.05 L116.29,184.69 L116.66,184.32 L117.02,183.95 L117.39,183.59 L117.76,183.23 L118.13,182.87 L118.5,182.52 L118.86,182.17 L119.23,181.83 L119.6,181.49 L119.97,181.16 L120.34,180.83 L120.7,180.51 L121.07,180.19 L121.44,179.89 L121.81,179.59 L122.18,179.3 L122.54,179.02 L122.91,178.75 L123.28,178.48 L123.65,178.23 L124.02,177.99 L124.38,177.76 L124.75,177.54 L125.12,177.33 L125.49,177.12 L125.86,176.92 L126.22,176.72 L126.59,176.52 L126.96,176.33 L127.33,176.14 L127.7,175.95 L128.06,175.77 L128.43,175.58 L128.8,175.4 L129.17,175.23 L129.54,175.05 L129.9,174.88 L130.27,174.72 L130.64,174.55 L131.01,174.39 L131.38,174.23 L131.74,174.07 L132.11,173.91 L132.48,173.76 L132.85,173.6 L133.22,173.45 L133.58,173.31 L133.95,173.16 L134.32,173.02 L134.69,172.87 L135.06,172.73 L135.42,172.59 L135.79,172.45 L136.16,172.32 L136.53,172.18 L136.9,172.05 L137.26,171.92 L137.63,171.78 L138,171.65 L138.37,171.52 L138.74,171.4 L139.1,171.27 L139.47,171.14 L139.84,171.02 L140.21,170.89 L140.58,170.76 L140.94,170.64 L141.31,170.52 L141.68,170.39 L142.05,170.27 L142.42,170.15 L142.78,170.02 L143.15,169.9 L143.52,169.78 L143.89,169.66 L144.26,169.53 L144.62,169.41 L144.99,169.29 L145.36,169.17 L145.73,169.05 L146.1,168.93 L146.46,168.82 L146.83,168.7 L147.2,168.59 L147.57,168.47 L147.94,168.36 L148.3,168.25 L148.67,168.14 L149.04,168.03 L149.41,167.92 L149.78,167.81 L150.14,167.7 L150.51,167.6 L150.88,167.49 L151.25,167.39 L151.62,167.28 L151.98,167.18 L152.35,167.08 L152.72,166.97 L153.09,166.87 L153.46,166.77 L153.82,166.67 L154.19,166.57 L154.56,166.47 L154.93,166.37 L155.3,166.27 L155.66,166.17 L156.03,166.07 L156.4,165.98 L156.77,165.88 L157.14,165.78 L157.5,165.68 L157.87,165.59 L158.24,165.49 L158.61,165.39 L158.98,165.3 L159.34,165.2 L159.71,165.1 L160.08,165.01 L160.45,164.91 L160.82,164.82 L161.18,164.72 L161.55,164.62 L161.92,164.53 L162.29,164.43 L162.66,164.33 L163.02,164.23 L163.39,164.14 L163.76,164.04 L164.13,163.94 L164.5,163.84 L164.86,163.74 L165.23,163.64 L165.6,163.54 L165.97,163.44 L166.34,163.34 L166.7,163.24 L167.07,163.14 L167.44,163.04 L167.81,162.94 L168.18,162.84 L168.54,162.74 L168.91,162.64 L169.28,162.54 L169.65,162.44 L170.02,162.34 L170.38,162.24 L170.75,162.14 L171.12,162.04 L171.49,161.94 L171.86,161.84 L172.22,161.74 L172.59,161.64 L172.96,161.54 L173.33,161.44 L173.7,161.34 L174.06,161.24 L174.43,161.14 L174.8,161.04 L175.17,160.95 L175.54,160.85 L175.9,160.75 L176.27,160.65 L176.64,160.55 L177.01,160.45 L177.38,160.35 L177.74,160.25 L178.11,160.15 L178.48,160.05 L178.85,159.95 L179.22,159.85 L179.58,159.76 L179.95,159.66 L180.32,159.56 L180.69,159.46 L181.06,159.36 L181.42,159.26 L181.79,159.16 L182.16,159.07 L182.53,158.97 L182.9,158.87 L183.26,158.77 L183.63,158.67 L184,158.58 L184.37,158.48 L184.74,158.38 L185.1,158.28 L185.47,158.19 L185.84,158.09 L186.21,157.99 L186.58,157.89 L186.94,157.8 L187.31,157.7 L187.68,157.6 L188.05,157.51 L188.42,157.41 L188.78,157.31 L189.15,157.22 L189.52,157.12 L189.89,157.02 L190.26,156.93 L190.62,156.83 L190.99,156.74 L191.36,156.64 L191.73,156.55 L192.1,156.45 L192.46,156.35 L192.83,156.26 L193.2,156.16 L193.57,156.07 L193.94,155.97 L194.3,155.88 L194.67,155.78 L195.04,155.69 L195.41,155.6 L195.78,155.5 L196.14,155.41 L196.51,155.31 L196.88,155.22 L197.25,155.13 L197.62,155.03 L197.98,154.94 L198.35,154.85 L198.72,154.75 L199.09,154.66 L199.46,154.57 L199.82,154.48 L200.19,154.38 L200.56,154.29 L200.93,154.2 L201.3,154.11 L201.66,154.02 L202.03,153.92 L202.4,153.83 L202.77,153.74 L203.14,153.65 L203.5,153.56 L203.87,153.47 L204.24,153.38 L204.61,153.29 L204.98,153.2 L205.34,153.1 L205.71,153.01 L206.08,152.92 L206.45,152.83 L206.82,152.74 L207.18,152.65 L207.55,152.56 L207.92,152.47 L208.29,152.38 L208.66,152.29 L209.02,152.2 L209.39,152.11 L209.76,152.02 L210.13,151.93 L210.5,151.84 L210.86,151.75 L211.23,151.66 L211.6,151.57 L211.97,151.48 L212.34,151.39 L212.7,151.3 L213.07,151.21 L213.44,151.12 L213.81,151.03 L214.18,150.95 L214.54,150.86 L214.91,150.77 L215.28,150.68 L215.65,150.59 L216.02,150.5 L216.38,150.41 L216.75,150.32 L217.12,150.23 L217.49,150.15 L217.86,150.06 L218.22,149.97 L218.59,149.88 L218.96,149.79 L219.33,149.7 L219.7,149.62 L220.06,149.53 L220.43,149.44 L220.8,149.35 L221.17,149.27 L221.54,149.18 L221.9,149.09 L222.27,149 L222.64,148.91 L223.01,148.83 L223.38,148.74 L223.74,148.65 L224.11,148.57 L224.48,148.48 L224.85,148.39 L225.22,148.31 L225.58,148.22 L225.95,148.13 L226.32,148.05 L226.69,147.96 L227.06,147.87 L227.42,147.79 L227.79,147.7 L228.16,147.61 L228.53,147.53 L228.9,147.44 L229.26,147.36 L229.63,147.27 L230,147.18 L230.37,147.1 L230.74,147.01 L231.1,146.93 L231.47,146.84 L231.84,146.76 L232.21,146.67 L232.58,146.59 L232.94,146.5 L233.31,146.42 L233.68,146.33 L234.05,146.25 L234.42,146.16 L234.78,146.08 L235.15,145.99 L235.52,145.91 L235.89,145.82 L236.26,145.74 L236.62,145.65 L236.99,145.57 L237.36,145.49 L237.73,145.4 L238.1,145.32 L238.46,145.23 L238.83,145.15 L239.2,145.07 L239.57,144.98 L239.94,144.9 L240.3,144.82 L240.67,144.73 L241.04,144.65 L241.41,144.57 L241.78,144.49 L242.14,144.4 L242.51,144.32 L242.88,144.24 L243.25,144.16 L243.62,144.07 L243.98,143.99 L244.35,143.91 L244.72,143.83 L245.09,143.74 L245.46,143.66 L245.82,143.58 L246.19,143.5 L246.56,143.42 L246.93,143.34 L247.3,143.25 L247.66,143.17 L248.03,143.09 L248.4,143.01 L248.77,142.93 L249.14,142.85 L249.5,142.77 L249.87,142.69 L250.24,142.61 L250.61,142.53 L250.98,142.45 L251.34,142.37 L251.71,142.29 L252.08,142.21 L252.45,142.13 L252.82,142.05 L253.18,141.97 L253.55,141.89 L253.92,141.81 L254.29,141.73 L254.66,141.65 L255.02,141.57 L255.39,141.49 L255.76,141.41 L256.13,141.33 L256.5,141.25 L256.86,141.17 L257.23,141.1 L257.6,141.02" stroke="#e21818" stroke-width="1.8" fill="none" stroke-linejoin="round"/>
<path d="M36.8,239.2H70" stroke="#9a1a1a" stroke-width="2.2"/>
<path d="M44.9,238.2V240.5" stroke="#e21818" stroke-width="0.8"/>
<path d="M36.8,46.9V240.4M36.1,239.8H276" stroke="#000" stroke-width="1.7" fill="none"/>
<path d="M34.6,239.7H36.8M34.6,207.66H36.8M34.6,175.62H36.8M34.6,143.58H36.8M34.6,111.54H36.8M34.6,79.5H36.8M34.6,47.46H36.8M36.8,239.8V243M73.6,239.8V243M110.4,239.8V243M147.2,239.8V243M184,239.8V243M220.8,239.8V243M257.6,239.8V243" stroke="#000" stroke-width="1" fill="none"/>
<text x="21.64" y="243.1" font-size="10.3" font-weight="bold" stroke="#000" stroke-width="0.22" textLength="12.52" lengthAdjust="spacingAndGlyphs" >0.0</text>
<text x="21.64" y="179.02" font-size="10.3" font-weight="bold" stroke="#000" stroke-width="0.22" textLength="12.52" lengthAdjust="spacingAndGlyphs" >0.2</text>
<text x="21.65" y="114.94" font-size="10.3" font-weight="bold" stroke="#000" stroke-width="0.22" textLength="12.2" lengthAdjust="spacingAndGlyphs" >0.4</text>
<text x="21.64" y="50.86" font-size="10.3" font-weight="bold" stroke="#000" stroke-width="0.22" textLength="12.47" lengthAdjust="spacingAndGlyphs" >0.6</text>
<text x="33.91" y="252.9" font-size="10.5" font-weight="bold" stroke="#000" stroke-width="0.22" textLength="5.39" lengthAdjust="spacingAndGlyphs" >0</text>
<text x="105.45" y="252.9" font-size="10.5" font-weight="bold" stroke="#000" stroke-width="0.22" textLength="9.57" lengthAdjust="spacingAndGlyphs" >20</text>
<text x="179.22" y="252.9" font-size="10.5" font-weight="bold" stroke="#000" stroke-width="0.22" textLength="9.38" lengthAdjust="spacingAndGlyphs" >40</text>
<text x="252.65" y="252.9" font-size="10.5" font-weight="bold" stroke="#000" stroke-width="0.22" textLength="9.57" lengthAdjust="spacingAndGlyphs" >60</text>
<text x="113.1" y="267.7" font-size="10.2" font-weight="bold" textLength="86.8" lengthAdjust="spacingAndGlyphs" stroke="#000" stroke-width="0.2">incubation time (min)</text>
<text transform="translate(18.4,140.55) rotate(-90)" x="-51.95" y="0" font-size="9.8" font-weight="bold" stroke="#000" stroke-width="0.22" textLength="104.29" lengthAdjust="spacingAndGlyphs" >turbidimetry (350nm)</text>
<path d="M278.1,70.5H287.3" stroke="#000000" stroke-width="1.7"/>
<text x="292.06" y="72" font-size="9.2" font-weight="bold" stroke="#000" stroke-width="0.22" textLength="29.38" lengthAdjust="spacingAndGlyphs" >DMSO</text>
<path d="M278.1,87H287.3" stroke="#1515f0" stroke-width="1.7"/>
<text x="292.07" y="89.8" font-size="9.2" font-weight="bold" stroke="#000" stroke-width="0.22" textLength="87.41" lengthAdjust="spacingAndGlyphs" >Paclitaxel 5 µmol.L</text>
<text x="380.18" y="86.5" font-size="5.6" font-weight="bold" stroke="#000" stroke-width="0.22" textLength="4.96" lengthAdjust="spacingAndGlyphs" >-1</text>
<path d="M278.1,105.1H287.3" stroke="#33dd33" stroke-width="1.7"/>
<text x="292.31" y="106.9" font-size="9.2" font-weight="bold" stroke="#000" stroke-width="0.22" textLength="99.98" lengthAdjust="spacingAndGlyphs" >Colchicine 2.5 µmol.L</text>
<text x="393.08" y="103.6" font-size="5.6" font-weight="bold" stroke="#000" stroke-width="0.22" textLength="4.96" lengthAdjust="spacingAndGlyphs" >-1</text>
<path d="M278.1,126.9H287.3" stroke="#f08a24" stroke-width="1.7"/>
<text x="292.06" y="131.6" font-size="9.2" font-weight="bold" stroke="#000" stroke-width="0.22" textLength="70.33" lengthAdjust="spacingAndGlyphs" >PP-13 5 µmol.L</text>
<text x="363.08" y="128.3" font-size="5.6" font-weight="bold" stroke="#000" stroke-width="0.22" textLength="4.96" lengthAdjust="spacingAndGlyphs" >-1</text>
<path d="M278.1,144.8H287.3" stroke="#e21818" stroke-width="1.7"/>
<text x="292.06" y="148.6" font-size="9.2" font-weight="bold" stroke="#000" stroke-width="0.22" textLength="75.23" lengthAdjust="spacingAndGlyphs" >PP-13 10 µmol.L</text>
<text x="367.98" y="145.3" font-size="5.6" font-weight="bold" stroke="#000" stroke-width="0.22" textLength="4.96" lengthAdjust="spacingAndGlyphs" >-1</text>
<path d="M278.1,163.7H287.3" stroke="#9a1a1a" stroke-width="1.7"/>
<text x="292.06" y="166.7" font-size="9.2" font-weight="bold" stroke="#000" stroke-width="0.22" textLength="75.23" lengthAdjust="spacingAndGlyphs" >PP-13 25 µmol.L</text>
<text x="367.98" y="163.4" font-size="5.6" font-weight="bold" stroke="#000" stroke-width="0.22" textLength="4.96" lengthAdjust="spacingAndGlyphs" >-1</text>
<path d="M282.7,69V72" stroke="#000" stroke-width="0.8"/>
</g>
<g id="B">
<svg x="427.8" y="25.3" width="110" height="110" viewBox="0 0 110 110" overflow="hidden">
<rect width="110" height="110" fill="#959595"/>
<rect width="110" height="110" filter="url(#mott0)" opacity="0.1"/>
<rect width="110" height="110" fill="url(#gDmso)"/>
<polygon points="18,-2 22,-2 36,12 54,30 72,50 92,74 112,96 112,112 109,110 12.5,-1" fill="#000" fill-opacity="0.5" filter="url(#bl6)"/>
<ellipse transform="rotate(48 60 42)" cx="60" cy="42" rx="12" ry="7" fill="#000" fill-opacity="0.35" filter="url(#bl3)"/>
<path d="M16,0 L110,108" stroke="#000" stroke-opacity="0.3" stroke-width="6" fill="none" filter="url(#bl2)"/>
<ellipse cx="90" cy="18" rx="22" ry="16" fill="#fff" fill-opacity="0.22" filter="url(#bl8)"/>
<ellipse cx="12" cy="62" rx="18" ry="36" fill="#000" fill-opacity="0.18" filter="url(#bl8)"/>
<ellipse cx="0" cy="20" rx="6" ry="22" fill="#000" fill-opacity="0.3" filter="url(#bl6)"/>
<ellipse cx="2" cy="2" rx="12" ry="10" fill="#000" fill-opacity="0.35" filter="url(#bl6)"/>
<ellipse cx="108" cy="108" rx="8" ry="16" fill="#000" fill-opacity="0.45" filter="url(#bl6)"/>
<ellipse cx="25" cy="110" rx="30" ry="6" fill="#000" fill-opacity="0.15" filter="url(#bl6)"/>
<path d="M12.5,-1 L109,110" stroke="#111" stroke-opacity="0.72" stroke-width="4.4" fill="none" filter="url(#bl07)"/>
<path d="M12.5,-1 L109,110" stroke="#777" stroke-opacity="0.55" stroke-width="1.4" fill="none" stroke-dasharray="3 1.2 1.5 2 4 1.5 2 1" filter="url(#bl04)"/>
<g filter="url(#bl03)"><circle cx="13.04" cy="-0.52" r="0.82" fill="#c8c8c8" fill-opacity="0.4"/><circle cx="16.86" cy="2.25" r="0.87" fill="#c8c8c8" fill-opacity="0.4"/><circle cx="15.25" cy="4.48" r="0.88" fill="#c8c8c8" fill-opacity="0.4"/><circle cx="20.39" cy="8.13" r="0.55" fill="#c8c8c8" fill-opacity="0.4"/><circle cx="22.01" cy="9.59" r="0.72" fill="#c8c8c8" fill-opacity="0.4"/><circle cx="24.89" cy="11.9" r="0.59" fill="#c8c8c8" fill-opacity="0.4"/><circle cx="26" cy="16.48" r="0.81" fill="#c8c8c8" fill-opacity="0.4"/><circle cx="27.89" cy="19.02" r="0.56" fill="#c8c8c8" fill-opacity="0.4"/><circle cx="32.32" cy="20.45" r="0.5" fill="#c8c8c8" fill-opacity="0.4"/><circle cx="35.85" cy="23.39" r="0.59" fill="#c8c8c8" fill-opacity="0.4"/><circle cx="38.75" cy="27.49" r="0.62" fill="#c8c8c8" fill-opacity="0.4"/><circle cx="41.07" cy="29.6" r="0.77" fill="#c8c8c8" fill-opacity="0.4"/><circle cx="40.15" cy="33.18" r="0.78" fill="#c8c8c8" fill-opacity="0.4"/><circle cx="45.92" cy="35.86" r="0.62" fill="#c8c8c8" fill-opacity="0.4"/><circle cx="45.66" cy="37.18" r="0.56" fill="#c8c8c8" fill-opacity="0.4"/><circle cx="46.77" cy="40.23" r="0.74" fill="#c8c8c8" fill-opacity="0.4"/><circle cx="48.91" cy="43.76" r="0.64" fill="#c8c8c8" fill-opacity="0.4"/><circle cx="52.68" cy="46.81" r="0.69" fill="#c8c8c8" fill-opacity="0.4"/><circle cx="55.11" cy="48.91" r="0.78" fill="#c8c8c8" fill-opacity="0.4"/><circle cx="56.39" cy="52.68" r="0.51" fill="#c8c8c8" fill-opacity="0.4"/><circle cx="61.85" cy="55.19" r="0.51" fill="#c8c8c8" fill-opacity="0.4"/><circle cx="64.43" cy="57.01" r="0.73" fill="#c8c8c8" fill-opacity="0.4"/><circle cx="63.41" cy="59.14" r="0.57" fill="#c8c8c8" fill-opacity="0.4"/><circle cx="69.99" cy="62.22" r="0.8" fill="#c8c8c8" fill-opacity="0.4"/><circle cx="72.29" cy="66.48" r="0.64" fill="#c8c8c8" fill-opacity="0.4"/><circle cx="72.17" cy="68.42" r="0.81" fill="#c8c8c8" fill-opacity="0.4"/><circle cx="73.5" cy="71.65" r="0.82" fill="#c8c8c8" fill-opacity="0.4"/><circle cx="79.22" cy="73" r="0.88" fill="#c8c8c8" fill-opacity="0.4"/><circle cx="78.25" cy="76.38" r="0.74" fill="#c8c8c8" fill-opacity="0.4"/><circle cx="84.3" cy="79.15" r="0.87" fill="#c8c8c8" fill-opacity="0.4"/><circle cx="85.07" cy="81.87" r="0.63" fill="#c8c8c8" fill-opacity="0.4"/><circle cx="85.87" cy="84.18" r="0.56" fill="#c8c8c8" fill-opacity="0.4"/><circle cx="90.53" cy="88.79" r="0.56" fill="#c8c8c8" fill-opacity="0.4"/><circle cx="90.13" cy="91.55" r="0.71" fill="#c8c8c8" fill-opacity="0.4"/><circle cx="94.11" cy="92.82" r="0.74" fill="#c8c8c8" fill-opacity="0.4"/><circle cx="98.37" cy="96.04" r="0.67" fill="#c8c8c8" fill-opacity="0.4"/><circle cx="97.4" cy="99.73" r="0.51" fill="#c8c8c8" fill-opacity="0.4"/><circle cx="101.73" cy="102.35" r="0.55" fill="#c8c8c8" fill-opacity="0.4"/><circle cx="105.19" cy="105.35" r="0.75" fill="#c8c8c8" fill-opacity="0.4"/><circle cx="107.85" cy="106.44" r="0.67" fill="#c8c8c8" fill-opacity="0.4"/><circle cx="107.46" cy="110.69" r="0.62" fill="#c8c8c8" fill-opacity="0.4"/></g>
<g filter="url(#bl05)" stroke="#333" stroke-opacity="0.35" stroke-width="2.2" fill="none" stroke-linecap="round"><path d="M27.42,6.41L25.66,6.96L26.32,8.62"/><path d="M24.53,8.23L25.55,8.91"/><path d="M27.66,9.06L26.62,7.9L25.51,8.75L25.4,7.14"/><path d="M35.32,10.12L37.14,10.54"/><path d="M32.48,8.9L30.78,9.57L29.19,9.38"/><path d="M32.41,10L31.65,8.89L29.82,8.28"/><path d="M34.72,10.41L33.79,10.34"/><path d="M38.11,14.91L36.63,16.19L37.15,15.45"/><path d="M38.59,18.3L37.4,19.48L36.07,20.22"/><path d="M38.51,17.53L39.6,18.19L41.29,17.81"/><path d="M38.6,16.55L40.01,16.65"/><path d="M46.61,13.24L44.63,13.13L44.79,11.78"/><path d="M45.19,12.72L47.04,12.73"/><path d="M47.43,11.77L47.76,13.07"/><path d="M53.69,17.61L53.96,18.77"/><path d="M54.14,17.05L53.4,17.69L53.81,19.24"/><path d="M55.03,18.1L53.16,18.67L51.64,18.82L52.37,18"/><path d="M55.34,19.95L55.34,21.05L55.21,19.12L55.85,20.96"/><path d="M59.1,13.32L60.23,14.24"/><path d="M59.94,15.77L59.86,17.58L58.86,16.88"/><path d="M60.78,15.54L61.78,16.56"/><path d="M66.89,18.81L67.34,20.66L67.33,19.68"/><path d="M65.31,20.43L65.89,21.6"/><path d="M65.48,19.75L66.38,20.81L65.55,22.31"/><path d="M63.41,19.64L64.31,19.84L65.72,18.95L66.62,18.73"/><path d="M8.36,14.18L7.52,16L8.86,16.68"/><path d="M7.81,11.69L7.73,10.65L8.97,10.36L10.19,11.08"/><path d="M9.88,15L10.88,13.84"/><path d="M7.25,13.25L8.23,13.33L9.09,13.88L9.03,15.24"/><path d="M16.65,23.14L15.3,23.5L13.87,23.13L12.64,23.02"/><path d="M18.2,22.12L19.53,23.26L18.76,22.05L19.8,21.26"/><path d="M18.92,23.16L19.84,24.82L19.1,23.65L20.08,22.86"/><path d="M15.99,37.53L16.96,36.63"/><path d="M15.18,35.53L16.04,36.49"/><path d="M16.25,35.81L17.39,35.44"/><path d="M16.58,37.03L18.2,36.22L17.11,37.21"/><path d="M13.18,53.89L12.24,54.18L14.06,54.55L15.68,54.98"/><path d="M13.16,51.6L14.2,51.73L13.31,51.99L13.87,50.97"/><path d="M14.21,52.26L14.98,52.94L13.41,52.58L12.74,53.31"/><path d="M14.65,53.91L15.04,54.73L13.38,55.02"/><path d="M26.28,58.85L25.8,57.46L24.49,56.32L23.11,57.42"/><path d="M26.38,56.74L25.32,57.65L25.93,59.42L27.44,59.48"/><path d="M29.4,66.67L27.83,67.04L28.3,68.67"/><path d="M28.64,66.59L29.48,67.41L28.71,68.04L27.98,69.88"/><path d="M28.77,67.65L29.56,66.64L30.76,67.33L29.1,66.79"/><path d="M27.74,68.02L26.89,68.43"/><path d="M32.03,77.64L30.07,78.01"/><path d="M34.06,75.24L33.34,73.44L31.4,73.53L32.38,74.11"/><path d="M32.12,75.85L31.12,75.44L29.23,75.27L29.16,76.91"/><path d="M35.09,75.39L35.57,77.16L37.02,76.87L36.01,76.37"/><path d="M10.08,60.07L12.02,60.41L10.68,60.28"/><path d="M10.44,58.68L11.34,59.28L12.62,58.69"/><path d="M11.7,59.07L11.53,60.48L12.49,61.47"/><path d="M10.93,57.87L9.92,57.72L9.11,58.17"/><path d="M43.29,83.36L44.33,83.6"/><path d="M42.88,82.07L41.91,83.31L43.26,84.36L44.3,85.38"/><path d="M42,82.72L42.67,82.08L41.45,80.74L40.34,79.74"/><path d="M49.26,89.84L50.19,88.57"/><path d="M50.49,89.38L49.6,88.46L50.25,89.88L51.12,89.17"/><path d="M50.13,89.3L50.9,90.17"/><path d="M49.88,89.17L48.1,89.94"/><path d="M80.14,41.46L78.91,40.18L80.16,41.04"/><path d="M78.75,43.56L79.84,44.53L79.91,43.08"/><path d="M79.73,41.36L78.8,41.46"/><path d="M80.11,40.52L79.01,40.65L79.83,41.37L80.49,42.38"/><path d="M86.32,52.22L84.63,52.63L83.97,53.88L82.6,53.75"/><path d="M85.86,51.9L86.94,52.18L85.86,52.89L84.54,54.28"/><path d="M85.62,51.7L85.18,52.59"/><path d="M87.2,50.15L88.62,49.59L89.18,51.02L88.24,52.49"/><path d="M95.51,47.06L96.05,45.82"/><path d="M95.77,46.65L94.83,47.66L95.3,48.68L96.01,50.31"/><path d="M93.84,48.47L95.73,48.36L96.87,48.73"/><path d="M75.77,22.72L74.43,22.09L72.89,23.37"/><path d="M74.95,20.69L75.87,20.58L74.58,19.44"/><path d="M75.95,23.09L76.07,21.48"/><path d="M76.83,22.06L78.08,21.22L76.12,21.12"/><path d="M100.28,21.59L100.64,20.68L99.22,19.68"/><path d="M102.39,22.7L100.91,23.99"/><path d="M100.83,20.94L102.64,21.63L101.34,22.34L100.28,21.59"/><path d="M99.65,23.54L101.12,22.84L101.11,21.91L101.33,20.38"/><path d="M9,83.51L10.18,83.91L8.95,84.84"/><path d="M7.84,81.07L6.55,81.68"/><path d="M8.8,81.86L10.25,82.9L11.15,82.33L12.28,82.04"/><path d="M7.91,81.67L6.83,81.97L8.23,82.45"/><path d="M17.61,92.45L16.47,92.78L15.29,92.1"/><path d="M18.23,90.69L19.86,90.19"/><path d="M62.73,104.15L63.07,102.6L62.31,103.53"/><path d="M63.45,102.72L63.89,103.84L64.02,105.79L62.4,105.76"/><path d="M74.22,95.79L75.41,95.86"/><path d="M74.3,96.05L73.35,95.8"/><path d="M48.55,99.67L47.66,98.71"/><path d="M47.26,100.1L46.22,100.14L47.43,98.83"/><path d="M92.55,64.59L90.93,65.18"/><path d="M91.52,66.39L90.39,64.76"/><path d="M91.38,67.21L91.89,66.23L91.01,64.97L89.79,65.26"/><path d="M101.21,78.69L101.77,77.4L102.17,76.59"/><path d="M99.12,80.21L100.2,80.81L99.94,79.17L99.72,80.2"/><path d="M98.91,79.35L99.95,78.66L98.51,79.22"/><path d="M101.35,77.05L99.7,77.73L99.28,78.91"/><path d="M57.71,61.65L57.73,62.95L56.86,63.92L55.81,64.73"/><path d="M56.47,63.31L54.71,62.85L53.7,62.43"/><path d="M56.13,59.78L56.56,58.72L57.56,59.1"/><path d="M45.53,39.67L46.91,40.26L47.15,39.3"/><path d="M45.54,40.87L46.91,41.68L47.98,43.03"/><path d="M43.52,39.35L41.63,39.48"/><path d="M6.1,38.92L6.55,37.74L7.48,38.83"/><path d="M6.14,39.61L7.3,38.92L8.06,37.47L9.14,36.05"/><path d="M7.14,38.04L6.2,36.9L5.76,35.18L4.56,35.82"/><path d="M70.02,58.64L69.25,59.41L69.63,60.72L69.12,62.62"/><path d="M70.86,58.34L70.51,59.35"/><path d="M83.54,79.05L81.9,78.1"/><path d="M82.5,80.12L81.52,81.31"/><path d="M89.7,102.58L87.94,103.25"/><path d="M88.06,105.37L86.7,103.98L84.96,103.41"/><path d="M88.91,104.1L87.97,102.63L89.52,103.64"/><path d="M89.39,104.45L89.81,103.19"/></g><g filter="url(#bl04)" stroke="#e8e8e8" stroke-opacity="0.85" stroke-width="1.15" fill="none" stroke-linecap="round"><path d="M27.42,6.41L25.66,6.96L26.32,8.62"/><path d="M24.53,8.23L25.55,8.91"/><path d="M27.66,9.06L26.62,7.9L25.51,8.75L25.4,7.14"/><path d="M35.32,10.12L37.14,10.54"/><path d="M32.48,8.9L30.78,9.57L29.19,9.38"/><path d="M32.41,10L31.65,8.89L29.82,8.28"/><path d="M34.72,10.41L33.79,10.34"/><path d="M38.11,14.91L36.63,16.19L37.15,15.45"/><path d="M38.59,18.3L37.4,19.48L36.07,20.22"/><path d="M38.51,17.53L39.6,18.19L41.29,17.81"/><path d="M38.6,16.55L40.01,16.65"/><path d="M46.61,13.24L44.63,13.13L44.79,11.78"/><path d="M45.19,12.72L47.04,12.73"/><path d="M47.43,11.77L47.76,13.07"/><path d="M53.69,17.61L53.96,18.77"/><path d="M54.14,17.05L53.4,17.69L53.81,19.24"/><path d="M55.03,18.1L53.16,18.67L51.64,18.82L52.37,18"/><path d="M55.34,19.95L55.34,21.05L55.21,19.12L55.85,20.96"/><path d="M59.1,13.32L60.23,14.24"/><path d="M59.94,15.77L59.86,17.58L58.86,16.88"/><path d="M60.78,15.54L61.78,16.56"/><path d="M66.89,18.81L67.34,20.66L67.33,19.68"/><path d="M65.31,20.43L65.89,21.6"/><path d="M65.48,19.75L66.38,20.81L65.55,22.31"/><path d="M63.41,19.64L64.31,19.84L65.72,18.95L66.62,18.73"/><path d="M8.36,14.18L7.52,16L8.86,16.68"/><path d="M7.81,11.69L7.73,10.65L8.97,10.36L10.19,11.08"/><path d="M9.88,15L10.88,13.84"/><path d="M7.25,13.25L8.23,13.33L9.09,13.88L9.03,15.24"/><path d="M16.65,23.14L15.3,23.5L13.87,23.13L12.64,23.02"/><path d="M18.2,22.12L19.53,23.26L18.76,22.05L19.8,21.26"/><path d="M18.92,23.16L19.84,24.82L19.1,23.65L20.08,22.86"/><path d="M15.99,37.53L16.96,36.63"/><path d="M15.18,35.53L16.04,36.49"/><path d="M16.25,35.81L17.39,35.44"/><path d="M16.58,37.03L18.2,36.22L17.11,37.21"/><path d="M13.18,53.89L12.24,54.18L14.06,54.55L15.68,54.98"/><path d="M13.16,51.6L14.2,51.73L13.31,51.99L13.87,50.97"/><path d="M14.21,52.26L14.98,52.94L13.41,52.58L12.74,53.31"/><path d="M14.65,53.91L15.04,54.73L13.38,55.02"/><path d="M26.28,58.85L25.8,57.46L24.49,56.32L23.11,57.42"/><path d="M26.38,56.74L25.32,57.65L25.93,59.42L27.44,59.48"/><path d="M29.4,66.67L27.83,67.04L28.3,68.67"/><path d="M28.64,66.59L29.48,67.41L28.71,68.04L27.98,69.88"/><path d="M28.77,67.65L29.56,66.64L30.76,67.33L29.1,66.79"/><path d="M27.74,68.02L26.89,68.43"/><path d="M32.03,77.64L30.07,78.01"/><path d="M34.06,75.24L33.34,73.44L31.4,73.53L32.38,74.11"/><path d="M32.12,75.85L31.12,75.44L29.23,75.27L29.16,76.91"/><path d="M35.09,75.39L35.57,77.16L37.02,76.87L36.01,76.37"/><path d="M10.08,60.07L12.02,60.41L10.68,60.28"/><path d="M10.44,58.68L11.34,59.28L12.62,58.69"/><path d="M11.7,59.07L11.53,60.48L12.49,61.47"/><path d="M10.93,57.87L9.92,57.72L9.11,58.17"/><path d="M43.29,83.36L44.33,83.6"/><path d="M42.88,82.07L41.91,83.31L43.26,84.36L44.3,85.38"/><path d="M42,82.72L42.67,82.08L41.45,80.74L40.34,79.74"/><path d="M49.26,89.84L50.19,88.57"/><path d="M50.49,89.38L49.6,88.46L50.25,89.88L51.12,89.17"/><path d="M50.13,89.3L50.9,90.17"/><path d="M49.88,89.17L48.1,89.94"/><path d="M80.14,41.46L78.91,40.18L80.16,41.04"/><path d="M78.75,43.56L79.84,44.53L79.91,43.08"/><path d="M79.73,41.36L78.8,41.46"/><path d="M80.11,40.52L79.01,40.65L79.83,41.37L80.49,42.38"/><path d="M86.32,52.22L84.63,52.63L83.97,53.88L82.6,53.75"/><path d="M85.86,51.9L86.94,52.18L85.86,52.89L84.54,54.28"/><path d="M85.62,51.7L85.18,52.59"/><path d="M87.2,50.15L88.62,49.59L89.18,51.02L88.24,52.49"/><path d="M95.51,47.06L96.05,45.82"/><path d="M95.77,46.65L94.83,47.66L95.3,48.68L96.01,50.31"/><path d="M93.84,48.47L95.73,48.36L96.87,48.73"/><path d="M75.77,22.72L74.43,22.09L72.89,23.37"/><path d="M74.95,20.69L75.87,20.58L74.58,19.44"/><path d="M75.95,23.09L76.07,21.48"/><path d="M76.83,22.06L78.08,21.22L76.12,21.12"/><path d="M100.28,21.59L100.64,20.68L99.22,19.68"/><path d="M102.39,22.7L100.91,23.99"/><path d="M100.83,20.94L102.64,21.63L101.34,22.34L100.28,21.59"/><path d="M99.65,23.54L101.12,22.84L101.11,21.91L101.33,20.38"/><path d="M9,83.51L10.18,83.91L8.95,84.84"/><path d="M7.84,81.07L6.55,81.68"/><path d="M8.8,81.86L10.25,82.9L11.15,82.33L12.28,82.04"/><path d="M7.91,81.67L6.83,81.97L8.23,82.45"/><path d="M17.61,92.45L16.47,92.78L15.29,92.1"/><path d="M18.23,90.69L19.86,90.19"/><path d="M62.73,104.15L63.07,102.6L62.31,103.53"/><path d="M63.45,102.72L63.89,103.84L64.02,105.79L62.4,105.76"/><path d="M74.22,95.79L75.41,95.86"/><path d="M74.3,96.05L73.35,95.8"/><path d="M48.55,99.67L47.66,98.71"/><path d="M47.26,100.1L46.22,100.14L47.43,98.83"/><path d="M92.55,64.59L90.93,65.18"/><path d="M91.52,66.39L90.39,64.76"/><path d="M91.38,67.21L91.89,66.23L91.01,64.97L89.79,65.26"/><path d="M101.21,78.69L101.77,77.4L102.17,76.59"/><path d="M99.12,80.21L100.2,80.81L99.94,79.17L99.72,80.2"/><path d="M98.91,79.35L99.95,78.66L98.51,79.22"/><path d="M101.35,77.05L99.7,77.73L99.28,78.91"/><path d="M57.71,61.65L57.73,62.95L56.86,63.92L55.81,64.73"/><path d="M56.47,63.31L54.71,62.85L53.7,62.43"/><path d="M56.13,59.78L56.56,58.72L57.56,59.1"/><path d="M45.53,39.67L46.91,40.26L47.15,39.3"/><path d="M45.54,40.87L46.91,41.68L47.98,43.03"/><path d="M43.52,39.35L41.63,39.48"/><path d="M6.1,38.92L6.55,37.74L7.48,38.83"/><path d="M6.14,39.61L7.3,38.92L8.06,37.47L9.14,36.05"/><path d="M7.14,38.04L6.2,36.9L5.76,35.18L4.56,35.82"/><path d="M70.02,58.64L69.25,59.41L69.63,60.72L69.12,62.62"/><path d="M70.86,58.34L70.51,59.35"/><path d="M83.54,79.05L81.9,78.1"/><path d="M82.5,80.12L81.52,81.31"/><path d="M89.7,102.58L87.94,103.25"/><path d="M88.06,105.37L86.7,103.98L84.96,103.41"/><path d="M88.91,104.1L87.97,102.63L89.52,103.64"/><path d="M89.39,104.45L89.81,103.19"/></g>
<g filter="url(#bl03)"><circle cx="52.2" cy="72.32" r="0.75" fill="#ececec" fill-opacity="0.39"/><circle cx="1.19" cy="41.22" r="0.57" fill="#ececec" fill-opacity="0.55"/><circle cx="75.97" cy="66.16" r="0.7" fill="#ececec" fill-opacity="0.52"/><circle cx="15.98" cy="48.41" r="0.52" fill="#ececec" fill-opacity="0.58"/><circle cx="6.47" cy="90.07" r="0.48" fill="#ececec" fill-opacity="0.52"/><circle cx="37.07" cy="44.51" r="0.83" fill="#ececec" fill-opacity="0.36"/><circle cx="6.69" cy="100.65" r="0.68" fill="#ececec" fill-opacity="0.38"/><circle cx="108.58" cy="104.14" r="0.5" fill="#ececec" fill-opacity="0.46"/><circle cx="14.86" cy="34.38" r="0.73" fill="#ececec" fill-opacity="0.4"/><circle cx="76.65" cy="5.65" r="0.53" fill="#ececec" fill-opacity="0.56"/><circle cx="44.06" cy="46.07" r="0.72" fill="#ececec" fill-opacity="0.47"/><circle cx="42.3" cy="3.35" r="0.78" fill="#ececec" fill-opacity="0.59"/><circle cx="107.39" cy="73" r="0.61" fill="#ececec" fill-opacity="0.45"/><circle cx="75.91" cy="74.12" r="0.5" fill="#ececec" fill-opacity="0.42"/><circle cx="39.97" cy="56.25" r="0.81" fill="#ececec" fill-opacity="0.48"/><circle cx="3.1" cy="90.48" r="0.64" fill="#ececec" fill-opacity="0.48"/><circle cx="24.44" cy="47" r="0.62" fill="#ececec" fill-opacity="0.55"/><circle cx="11.29" cy="60.5" r="0.53" fill="#ececec" fill-opacity="0.53"/><circle cx="4.05" cy="30.42" r="0.6" fill="#ececec" fill-opacity="0.51"/><circle cx="5.73" cy="50.52" r="0.54" fill="#ececec" fill-opacity="0.43"/><circle cx="52.39" cy="105.46" r="0.67" fill="#ececec" fill-opacity="0.59"/><circle cx="18.43" cy="101.67" r="0.61" fill="#ececec" fill-opacity="0.41"/><circle cx="82.34" cy="100.32" r="0.45" fill="#ececec" fill-opacity="0.42"/><circle cx="84.77" cy="37.6" r="0.56" fill="#ececec" fill-opacity="0.36"/><circle cx="4.4" cy="68.1" r="0.89" fill="#ececec" fill-opacity="0.6"/><circle cx="55.4" cy="2.63" r="0.6" fill="#ececec" fill-opacity="0.55"/><circle cx="91.51" cy="70.34" r="0.55" fill="#ececec" fill-opacity="0.49"/><circle cx="52.51" cy="68.97" r="0.57" fill="#ececec" fill-opacity="0.59"/><circle cx="98.38" cy="17.84" r="0.58" fill="#ececec" fill-opacity="0.57"/><circle cx="30.61" cy="103.83" r="0.68" fill="#ececec" fill-opacity="0.53"/><circle cx="77.52" cy="23.55" r="0.58" fill="#ececec" fill-opacity="0.42"/><circle cx="75.16" cy="76.35" r="0.51" fill="#ececec" fill-opacity="0.57"/><circle cx="46.24" cy="26.54" r="0.65" fill="#ececec" fill-opacity="0.6"/><circle cx="61.59" cy="68.72" r="0.86" fill="#ececec" fill-opacity="0.59"/><circle cx="83.65" cy="45.94" r="0.71" fill="#ececec" fill-opacity="0.58"/><circle cx="86.82" cy="63.82" r="0.61" fill="#ececec" fill-opacity="0.45"/><circle cx="80.94" cy="61.97" r="0.46" fill="#ececec" fill-opacity="0.53"/><circle cx="99.42" cy="87.75" r="0.85" fill="#ececec" fill-opacity="0.58"/><circle cx="58.84" cy="86.8" r="0.62" fill="#ececec" fill-opacity="0.38"/><circle cx="38.85" cy="34.33" r="0.87" fill="#ececec" fill-opacity="0.53"/><circle cx="59.58" cy="68.43" r="0.51" fill="#ececec" fill-opacity="0.49"/><circle cx="77.07" cy="43.36" r="0.56" fill="#ececec" fill-opacity="0.46"/><circle cx="35.6" cy="75.38" r="0.51" fill="#ececec" fill-opacity="0.38"/><circle cx="34.37" cy="76.53" r="0.79" fill="#ececec" fill-opacity="0.52"/><circle cx="102.82" cy="40.22" r="0.46" fill="#ececec" fill-opacity="0.48"/><circle cx="48.81" cy="19.73" r="0.75" fill="#ececec" fill-opacity="0.44"/><circle cx="26.22" cy="36.02" r="0.87" fill="#ececec" fill-opacity="0.36"/><circle cx="39.63" cy="30.77" r="0.54" fill="#ececec" fill-opacity="0.46"/><circle cx="24.24" cy="101.07" r="0.68" fill="#ececec" fill-opacity="0.53"/><circle cx="17.86" cy="51.11" r="0.72" fill="#ececec" fill-opacity="0.56"/><circle cx="27.49" cy="50.56" r="0.83" fill="#ececec" fill-opacity="0.56"/><circle cx="25.03" cy="59.18" r="0.79" fill="#ececec" fill-opacity="0.45"/><circle cx="74.07" cy="72.96" r="0.89" fill="#ececec" fill-opacity="0.49"/><circle cx="74.89" cy="38.53" r="0.78" fill="#ececec" fill-opacity="0.44"/><circle cx="54.99" cy="39.69" r="0.59" fill="#ececec" fill-opacity="0.39"/><circle cx="24.82" cy="59.87" r="0.56" fill="#ececec" fill-opacity="0.37"/><circle cx="88.4" cy="31.42" r="0.87" fill="#ececec" fill-opacity="0.5"/><circle cx="42.8" cy="96.04" r="0.85" fill="#ececec" fill-opacity="0.44"/><circle cx="13.84" cy="70.5" r="0.83" fill="#ececec" fill-opacity="0.51"/><circle cx="86.28" cy="45.37" r="0.73" fill="#ececec" fill-opacity="0.42"/><circle cx="44.76" cy="41.77" r="0.62" fill="#ececec" fill-opacity="0.46"/><circle cx="88.79" cy="18.68" r="0.54" fill="#ececec" fill-opacity="0.42"/><circle cx="106.81" cy="57.5" r="0.47" fill="#ececec" fill-opacity="0.56"/><circle cx="96.09" cy="90.33" r="0.61" fill="#ececec" fill-opacity="0.54"/><circle cx="33.6" cy="15.1" r="0.84" fill="#ececec" fill-opacity="0.56"/><circle cx="23.23" cy="96.78" r="0.46" fill="#ececec" fill-opacity="0.43"/><circle cx="1.43" cy="18.81" r="0.52" fill="#ececec" fill-opacity="0.53"/><circle cx="32.62" cy="20.91" r="0.53" fill="#ececec" fill-opacity="0.43"/><circle cx="94.84" cy="66.76" r="0.5" fill="#ececec" fill-opacity="0.52"/><circle cx="58.99" cy="49.33" r="0.69" fill="#ececec" fill-opacity="0.52"/></g>
<rect width="110" height="110" filter="url(#lgrain0)" opacity="0.32"/>
<rect width="110" height="110" filter="url(#sgrain0)" opacity="0.1"/>
<text x="80.31" y="11.9" font-size="9.6" style="fill:#fff;font-family:Carlito,'Liberation Sans',sans-serif;" textLength="26.03" lengthAdjust="spacingAndGlyphs" stroke="#fff" stroke-width="0.2">DMSO</text>
</svg>
<svg x="543" y="25.3" width="110" height="110" viewBox="0 0 110 110" overflow="hidden">
<rect width="110" height="110" fill="#a2a2a2"/>
<rect width="110" height="110" filter="url(#mott1)" opacity="0.1"/>
<rect width="110" height="110" fill="url(#gPp5)"/>
<ellipse cx="0" cy="60" rx="6" ry="40" fill="#000" fill-opacity="0.3" filter="url(#bl6)"/>
<ellipse cx="108" cy="8" rx="8" ry="12" fill="#000" fill-opacity="0.5" filter="url(#bl6)"/>
<ellipse cx="0" cy="108" rx="16" ry="8" fill="#000" fill-opacity="0.25" filter="url(#bl6)"/>
<g transform="translate(48,42) rotate(-22)">
<ellipse cx="0" cy="0" rx="18" ry="12" fill="#000" fill-opacity="0.55" filter="url(#bl3)"/>
<ellipse cx="0" cy="0" rx="12.75" ry="7.65" fill="#000" fill-opacity="0.45" filter="url(#bl1)"/>
<g filter="url(#bl07)"><circle cx="5.08" cy="5.15" r="1.96" fill="#151515" fill-opacity="0.49"/><circle cx="2.45" cy="6.78" r="2.17" fill="#151515" fill-opacity="0.5"/><circle cx="-4.78" cy="-0.09" r="1.2" fill="#151515" fill-opacity="0.45"/><circle cx="-2.12" cy="-0.76" r="2.15" fill="#151515" fill-opacity="0.4"/><circle cx="0.21" cy="1.14" r="2.4" fill="#151515" fill-opacity="0.58"/><circle cx="6.38" cy="-3.83" r="1.24" fill="#151515" fill-opacity="0.43"/><circle cx="-3.24" cy="0.03" r="2.34" fill="#151515" fill-opacity="0.45"/><circle cx="6.77" cy="5.96" r="1.35" fill="#151515" fill-opacity="0.65"/><circle cx="-7.91" cy="1.44" r="1.61" fill="#151515" fill-opacity="0.49"/><circle cx="0.69" cy="0.99" r="2.24" fill="#151515" fill-opacity="0.4"/><circle cx="0.84" cy="-2.63" r="2.36" fill="#151515" fill-opacity="0.64"/><circle cx="0.33" cy="-6.63" r="1.9" fill="#151515" fill-opacity="0.58"/><circle cx="5.33" cy="3.1" r="2.19" fill="#151515" fill-opacity="0.39"/><circle cx="12.08" cy="-3.8" r="1.69" fill="#151515" fill-opacity="0.45"/><circle cx="-6.14" cy="1.16" r="2.39" fill="#151515" fill-opacity="0.45"/><circle cx="2.84" cy="0.29" r="2.06" fill="#151515" fill-opacity="0.67"/><circle cx="-7.58" cy="0.11" r="1.86" fill="#151515" fill-opacity="0.58"/><circle cx="1.56" cy="5.28" r="1.87" fill="#151515" fill-opacity="0.54"/><circle cx="1.68" cy="2.17" r="1.62" fill="#151515" fill-opacity="0.65"/><circle cx="-5.02" cy="4.33" r="1.57" fill="#151515" fill-opacity="0.35"/><circle cx="10.95" cy="2.88" r="2.13" fill="#151515" fill-opacity="0.45"/><circle cx="-3.98" cy="-5.37" r="2.28" fill="#151515" fill-opacity="0.66"/><circle cx="-16.36" cy="6.49" r="2.35" fill="#151515" fill-opacity="0.53"/><circle cx="5.63" cy="-3.05" r="1.65" fill="#151515" fill-opacity="0.4"/><circle cx="2.76" cy="-1.63" r="1.28" fill="#151515" fill-opacity="0.6"/><circle cx="1.12" cy="-4.45" r="2.2" fill="#151515" fill-opacity="0.33"/><circle cx="-0.27" cy="3.23" r="1.7" fill="#151515" fill-opacity="0.38"/><circle cx="5.37" cy="1.5" r="2.28" fill="#151515" fill-opacity="0.67"/><circle cx="-0.19" cy="-4.47" r="1.5" fill="#151515" fill-opacity="0.66"/><circle cx="-10.4" cy="-1.01" r="1.23" fill="#151515" fill-opacity="0.39"/><circle cx="6.12" cy="-5.92" r="2.26" fill="#151515" fill-opacity="0.53"/><circle cx="-7.69" cy="2.31" r="2.22" fill="#151515" fill-opacity="0.43"/><circle cx="-5.12" cy="-0.67" r="2.12" fill="#151515" fill-opacity="0.32"/><circle cx="-6.4" cy="-8.92" r="1.23" fill="#151515" fill-opacity="0.53"/><circle cx="-7.88" cy="-6.01" r="1.9" fill="#151515" fill-opacity="0.41"/><circle cx="-13.65" cy="5.52" r="2.29" fill="#151515" fill-opacity="0.36"/><circle cx="2.4" cy="0.98" r="1.23" fill="#151515" fill-opacity="0.48"/></g>
<g filter="url(#bl04)" stroke="#cdcdcd" stroke-width="1.0" fill="none" stroke-linecap="round"><path d="M8.68,6.36L9.62,7.32L9.04,8.47" stroke-opacity="0.52"/><path d="M2.19,2.25L2.65,3.73L2.71,2.32" stroke-opacity="0.6"/><path d="M-0.06,-1.4L-1.33,-0.32" stroke-opacity="0.57"/><path d="M-12.22,-3.28L-12.25,-1.78" stroke-opacity="0.54"/><path d="M6.53,1.06L6.27,-0.71L6.93,-2.17" stroke-opacity="0.6"/><path d="M-7.68,-2.27L-9.21,-2.35" stroke-opacity="0.74"/><path d="M-3.9,5.9L-2.41,6.52" stroke-opacity="0.74"/><path d="M-3.66,2.83L-2.98,3.37L-1.53,4.09" stroke-opacity="0.68"/><path d="M-9,1.83L-9.64,0.47" stroke-opacity="0.59"/><path d="M-13.88,-0.68L-13.75,0.16" stroke-opacity="0.58"/><path d="M0.2,6.38L-0.01,5.14L0.09,6.33" stroke-opacity="0.6"/><path d="M-11.84,-7.74L-10.9,-7.52" stroke-opacity="0.56"/><path d="M-3.77,-1.74L-4.85,-2.86L-5.67,-4.3" stroke-opacity="0.66"/><path d="M-2.09,-2.8L-3.16,-1.87L-2.36,-3.44" stroke-opacity="0.75"/><path d="M5.9,0.14L6.98,-0.93L7.8,-0.4" stroke-opacity="0.61"/><path d="M-4.82,-2.72L-3.04,-2.91L-2.42,-1.84" stroke-opacity="0.65"/><path d="M-6.24,3.89L-6.36,5.64" stroke-opacity="0.55"/><path d="M-0.35,7.9L0.71,7.13" stroke-opacity="0.52"/><path d="M-4.1,-6.01L-2.92,-6.47" stroke-opacity="0.58"/><path d="M-4.1,-2.23L-4.81,-3.46" stroke-opacity="0.48"/><path d="M4.69,-0.44L5.33,-2.05L5.1,-2.84" stroke-opacity="0.6"/><path d="M9.05,1.37L9.1,2.17L8.24,1.93" stroke-opacity="0.54"/><path d="M-13.86,2.47L-13.17,3.65L-12.12,3" stroke-opacity="0.7"/><path d="M-2.55,3.97L-2.3,5.55" stroke-opacity="0.7"/><path d="M12.61,-3.84L12.13,-4.58" stroke-opacity="0.58"/><path d="M10.18,-10.68L10.93,-9.62" stroke-opacity="0.61"/><path d="M-7.73,-1.05L-7.18,-0.27L-7.52,1.13" stroke-opacity="0.45"/><path d="M3.55,-5.69L2.07,-5.8" stroke-opacity="0.51"/><path d="M-0.3,1.41L-1.22,0.86" stroke-opacity="0.69"/><path d="M-1.41,0.62L-0.2,0.06" stroke-opacity="0.57"/><path d="M-3.99,-6.15L-2.56,-5.38L-2.37,-4.56" stroke-opacity="0.56"/><path d="M-9.39,-1.17L-8.23,-1.01" stroke-opacity="0.59"/><path d="M4.84,-3.33L6.07,-4.15" stroke-opacity="0.52"/></g>
</g>
<g transform="translate(72,40) rotate(15)">
<ellipse cx="0" cy="0" rx="9" ry="13" fill="#000" fill-opacity="0.5" filter="url(#bl3)"/>
<ellipse cx="0" cy="0" rx="5.1" ry="8.5" fill="#000" fill-opacity="0.45" filter="url(#bl1)"/>
<g filter="url(#bl07)"><circle cx="1.39" cy="-0.62" r="1.23" fill="#151515" fill-opacity="0.67"/><circle cx="0.53" cy="2.02" r="1.98" fill="#151515" fill-opacity="0.44"/><circle cx="1.46" cy="-2.02" r="2.35" fill="#151515" fill-opacity="0.43"/><circle cx="-4.87" cy="-5.99" r="2.02" fill="#151515" fill-opacity="0.65"/><circle cx="-0.21" cy="-1.32" r="2.26" fill="#151515" fill-opacity="0.53"/><circle cx="-0.63" cy="2.62" r="2.22" fill="#151515" fill-opacity="0.52"/><circle cx="4.16" cy="-2.85" r="2.35" fill="#151515" fill-opacity="0.52"/><circle cx="-1.14" cy="-5.67" r="1.51" fill="#151515" fill-opacity="0.66"/><circle cx="-1.74" cy="7" r="2.35" fill="#151515" fill-opacity="0.55"/><circle cx="3.05" cy="6.33" r="2" fill="#151515" fill-opacity="0.38"/><circle cx="3.06" cy="1.63" r="1.24" fill="#151515" fill-opacity="0.65"/><circle cx="-3.15" cy="-0.21" r="1.69" fill="#151515" fill-opacity="0.55"/><circle cx="1.93" cy="-1.87" r="1.65" fill="#151515" fill-opacity="0.52"/><circle cx="-1.03" cy="5.59" r="1.85" fill="#151515" fill-opacity="0.47"/><circle cx="-1.48" cy="-4.72" r="1.31" fill="#151515" fill-opacity="0.67"/><circle cx="-1.71" cy="3.64" r="1.68" fill="#151515" fill-opacity="0.65"/><circle cx="2.98" cy="-1.54" r="1.68" fill="#151515" fill-opacity="0.35"/><circle cx="1.27" cy="-1.63" r="1.86" fill="#151515" fill-opacity="0.44"/><circle cx="-1.16" cy="3.6" r="1.43" fill="#151515" fill-opacity="0.33"/></g>
<g filter="url(#bl04)" stroke="#cdcdcd" stroke-width="1.0" fill="none" stroke-linecap="round"><path d="M-4.74,-1.79L-5.25,-2.54" stroke-opacity="0.51"/><path d="M1.11,1.78L2,2.03L1.75,1.13" stroke-opacity="0.54"/><path d="M-2.18,-8.22L-2.38,-9.65L-3.34,-8.39" stroke-opacity="0.7"/><path d="M-5.07,-6.85L-4.62,-5.78" stroke-opacity="0.47"/><path d="M3.15,3.67L2.84,2.74L3.72,3.2" stroke-opacity="0.65"/><path d="M3.37,-0.24L4.02,-0.97L3.88,-0.09" stroke-opacity="0.59"/><path d="M0.66,4.03L1.8,4.31" stroke-opacity="0.7"/><path d="M1.8,0.63L1.24,-0.01L0.78,-1.14" stroke-opacity="0.53"/><path d="M1.02,-1.42L2.26,-2" stroke-opacity="0.5"/><path d="M2.32,-0.95L0.92,-0.94" stroke-opacity="0.46"/><path d="M-0.67,0.09L-0.32,1.67" stroke-opacity="0.59"/><path d="M-1.56,-4.17L-0.83,-3.29L0.23,-4.51" stroke-opacity="0.45"/><path d="M-2.84,4.45L-1.85,3.01" stroke-opacity="0.64"/><path d="M-1.33,-2.94L-0.92,-1.94L-0.03,-0.56" stroke-opacity="0.6"/><path d="M-1.65,-7.92L-2.8,-7.91" stroke-opacity="0.71"/><path d="M3.57,3.15L3.33,2.3" stroke-opacity="0.73"/><path d="M-0.48,1.29L-0.1,2.39" stroke-opacity="0.74"/></g>
</g>
<g transform="translate(40.2,103.3) rotate(0)">
<ellipse cx="0" cy="0" rx="7" ry="7" fill="#000" fill-opacity="0.4" filter="url(#bl3)"/>
<ellipse cx="0" cy="0" rx="3.4" ry="3.4" fill="#000" fill-opacity="0.35" filter="url(#bl1)"/>
<g filter="url(#bl07)"><circle cx="-1.39" cy="-0.35" r="1.24" fill="#151515" fill-opacity="0.43"/><circle cx="0.33" cy="1.3" r="1.68" fill="#151515" fill-opacity="0.42"/><circle cx="1.93" cy="-0.14" r="2.39" fill="#151515" fill-opacity="0.52"/><circle cx="0.03" cy="0.67" r="1.39" fill="#151515" fill-opacity="0.48"/><circle cx="-3.15" cy="-2.27" r="2.37" fill="#151515" fill-opacity="0.43"/><circle cx="-0.63" cy="-0.14" r="1.23" fill="#151515" fill-opacity="0.47"/><circle cx="-1.39" cy="-2.6" r="1.88" fill="#151515" fill-opacity="0.43"/><circle cx="-2.38" cy="-2.83" r="1.33" fill="#151515" fill-opacity="0.38"/></g>
<g filter="url(#bl04)" stroke="#cdcdcd" stroke-width="1.0" fill="none" stroke-linecap="round"><path d="M-1.24,3.19L-1.25,4.07L-1.21,5.18" stroke-opacity="0.68"/><path d="M-2.55,1.63L-1.93,2.93L-3.04,3.13" stroke-opacity="0.59"/><path d="M-0.9,-1.36L0.68,-0.64L1.88,-1.07" stroke-opacity="0.6"/><path d="M1.27,-0.57L2.59,-1.61L3.06,-0.74" stroke-opacity="0.51"/><path d="M-0.58,2.63L-2.3,2.88" stroke-opacity="0.72"/><path d="M0.61,-1.41L-0.3,-2.87L-0.81,-1.34" stroke-opacity="0.7"/><path d="M-1.54,0.28L-1.86,-1.45" stroke-opacity="0.61"/></g>
</g>
<g transform="translate(12,59) rotate(0)">
<ellipse cx="0" cy="0" rx="7" ry="7" fill="#000" fill-opacity="0.25" filter="url(#bl3)"/>
<ellipse cx="0" cy="0" rx="3.4" ry="3.4" fill="#000" fill-opacity="0.225" filter="url(#bl1)"/>
<g filter="url(#bl07)"><circle cx="0.85" cy="0.07" r="1.67" fill="#151515" fill-opacity="0.28"/><circle cx="0.55" cy="0.65" r="1.48" fill="#151515" fill-opacity="0.29"/><circle cx="1.72" cy="2.28" r="1.99" fill="#151515" fill-opacity="0.18"/><circle cx="-1.85" cy="-0.42" r="1.7" fill="#151515" fill-opacity="0.34"/><circle cx="0.29" cy="0.19" r="2.33" fill="#151515" fill-opacity="0.23"/><circle cx="0.5" cy="1.48" r="1.64" fill="#151515" fill-opacity="0.33"/><circle cx="0.3" cy="1.18" r="1.9" fill="#151515" fill-opacity="0.26"/><circle cx="3.18" cy="-0.95" r="1.63" fill="#151515" fill-opacity="0.19"/></g>
<g filter="url(#bl04)" stroke="#cdcdcd" stroke-width="1.0" fill="none" stroke-linecap="round"><path d="M2.82,-4.67L3.96,-3.99" stroke-opacity="0.58"/><path d="M0.45,-1.16L0.32,-2.14L-0.32,-2.93" stroke-opacity="0.46"/><path d="M-0.84,1.41L-2.29,1.57L-2.7,2.5" stroke-opacity="0.67"/><path d="M2.58,1.76L0.97,1.13" stroke-opacity="0.7"/><path d="M-0.31,1.08L0.92,0.41" stroke-opacity="0.66"/><path d="M1.51,1.04L0.45,-0.41L0.87,0.78" stroke-opacity="0.69"/><path d="M-3.02,1.09L-3.2,2.76" stroke-opacity="0.64"/></g>
</g>
<g transform="translate(49.5,75.4) rotate(0)">
<ellipse cx="0" cy="0" rx="6" ry="6" fill="#000" fill-opacity="0.3" filter="url(#bl3)"/>
<ellipse cx="0" cy="0" rx="2.55" ry="2.55" fill="#000" fill-opacity="0.2" filter="url(#bl1)"/>
<g filter="url(#bl07)"><circle cx="0.8" cy="0.42" r="1.56" fill="#151515" fill-opacity="0.28"/><circle cx="-2.08" cy="0.05" r="1.32" fill="#151515" fill-opacity="0.22"/><circle cx="0.88" cy="-1.32" r="2.33" fill="#151515" fill-opacity="0.28"/><circle cx="-0.03" cy="0.04" r="2.11" fill="#151515" fill-opacity="0.16"/><circle cx="2.11" cy="0.12" r="2.21" fill="#151515" fill-opacity="0.27"/><circle cx="0.84" cy="-0.25" r="1.3" fill="#151515" fill-opacity="0.16"/></g>
<g filter="url(#bl04)" stroke="#cdcdcd" stroke-width="1.0" fill="none" stroke-linecap="round"><path d="M0.66,-0.09L-0.48,0.37" stroke-opacity="0.73"/><path d="M-0.92,-0.33L-1.55,1.27L-0.75,2.68" stroke-opacity="0.67"/><path d="M-1.62,-0.75L-2.5,-1.28" stroke-opacity="0.55"/><path d="M0.05,1.38L-0.73,1.77L-2.32,2" stroke-opacity="0.58"/><path d="M-0.18,-0.57L0.54,0.21" stroke-opacity="0.62"/></g>
</g>
<g transform="translate(87,53) rotate(0)">
<ellipse cx="0" cy="0" rx="5.5" ry="5.5" fill="#000" fill-opacity="0.2" filter="url(#bl3)"/>
<ellipse cx="0" cy="0" rx="2.12" ry="2.12" fill="#000" fill-opacity="0.2" filter="url(#bl1)"/>
<g filter="url(#bl07)"><circle cx="-1.39" cy="-0.66" r="2.18" fill="#151515" fill-opacity="0.18"/><circle cx="-1.32" cy="-1.87" r="2.29" fill="#151515" fill-opacity="0.17"/><circle cx="-0.87" cy="-1.23" r="1.8" fill="#151515" fill-opacity="0.29"/><circle cx="-1.16" cy="-0.21" r="2.33" fill="#151515" fill-opacity="0.24"/><circle cx="-0.3" cy="0.89" r="1.8" fill="#151515" fill-opacity="0.15"/></g>
<g filter="url(#bl04)" stroke="#cdcdcd" stroke-width="1.0" fill="none" stroke-linecap="round"><path d="M-1.45,-1.16L-1.02,-2.15L-1.68,-0.73" stroke-opacity="0.52"/><path d="M0.66,-0.75L2.45,-0.8L3.51,-0.33" stroke-opacity="0.65"/><path d="M0.17,-1.35L1.49,-1.3L1.09,-0.17" stroke-opacity="0.51"/><path d="M0.23,0.19L1.05,0.53" stroke-opacity="0.69"/></g>
</g>
<g transform="translate(12,89) rotate(0)">
<ellipse cx="0" cy="0" rx="6" ry="6" fill="#000" fill-opacity="0.2" filter="url(#bl3)"/>
<ellipse cx="0" cy="0" rx="2.55" ry="2.55" fill="#000" fill-opacity="0.2" filter="url(#bl1)"/>
<g filter="url(#bl07)"><circle cx="-1.7" cy="-0.31" r="2.21" fill="#151515" fill-opacity="0.28"/><circle cx="0.92" cy="-0.84" r="2.34" fill="#151515" fill-opacity="0.21"/><circle cx="-0.2" cy="0.55" r="1.81" fill="#151515" fill-opacity="0.16"/><circle cx="-0.27" cy="1.77" r="2.13" fill="#151515" fill-opacity="0.26"/><circle cx="0.4" cy="0.24" r="1.51" fill="#151515" fill-opacity="0.23"/><circle cx="1.24" cy="-1.99" r="2.32" fill="#151515" fill-opacity="0.23"/></g>
<g filter="url(#bl04)" stroke="#cdcdcd" stroke-width="1.0" fill="none" stroke-linecap="round"><path d="M-0.74,-0.86L-0.45,0.36L-0.05,1.2" stroke-opacity="0.67"/><path d="M-0.96,-0.27L-2.32,-1.02" stroke-opacity="0.69"/><path d="M-0.13,0.67L0.72,0.15L1.44,1.56" stroke-opacity="0.72"/><path d="M-2.84,0.9L-3.94,1.51L-3.21,2.29" stroke-opacity="0.52"/><path d="M-0.15,0.49L-1.52,0.34L-2.03,2" stroke-opacity="0.57"/></g>
</g>
<g transform="translate(102,79.2) rotate(0)">
<ellipse cx="0" cy="0" rx="6" ry="6" fill="#000" fill-opacity="0.2" filter="url(#bl3)"/>
<ellipse cx="0" cy="0" rx="2.55" ry="2.55" fill="#000" fill-opacity="0.175" filter="url(#bl1)"/>
<g filter="url(#bl07)"><circle cx="-2.07" cy="-0.65" r="2.1" fill="#151515" fill-opacity="0.24"/><circle cx="-0.76" cy="3.3" r="1.88" fill="#151515" fill-opacity="0.23"/><circle cx="0.09" cy="-3" r="1.53" fill="#151515" fill-opacity="0.17"/><circle cx="-0.35" cy="-1.69" r="2.1" fill="#151515" fill-opacity="0.17"/><circle cx="0.19" cy="-0.05" r="2.07" fill="#151515" fill-opacity="0.17"/><circle cx="1.93" cy="0.31" r="1.26" fill="#151515" fill-opacity="0.16"/></g>
<g filter="url(#bl04)" stroke="#cdcdcd" stroke-width="1.0" fill="none" stroke-linecap="round"><path d="M-0.36,0.71L-1.53,0.2" stroke-opacity="0.56"/><path d="M-0.49,1.72L-2.04,1.26" stroke-opacity="0.74"/><path d="M-1.37,0.04L0.17,0.39L0.32,-0.86" stroke-opacity="0.62"/><path d="M2.45,0.71L1.81,-0.47" stroke-opacity="0.48"/><path d="M-1.92,1.86L-2.53,2.39L-1.24,1.57" stroke-opacity="0.52"/></g>
</g>
<g filter="url(#bl05)" stroke="#333" stroke-opacity="0.35" stroke-width="2.2" fill="none" stroke-linecap="round"><path d="M59.11,99.55L58.65,100.78L57.59,102.11L57.49,103.02"/><path d="M57.29,98.38L58.74,99.25"/><path d="M57.79,100.35L56.2,101.08L56.46,101.98L55.72,102.78"/><path d="M100,42.43L101.18,42.2L102.69,41.95"/><path d="M99.34,42.05L98.16,41.3L97.47,40.44"/><path d="M24.6,20.7L24.94,21.67L25.71,22.21L25.46,23.72"/><path d="M26.37,20.22L27.58,19.34L28.68,18.48"/><path d="M19.98,60.46L19.49,58.71"/><path d="M20.09,61.2L18.47,60.14L19.45,61.85L20.73,62.31"/><path d="M8.36,62.59L10.12,62.29"/><path d="M9.13,61.62L9.12,60.34L10.42,60.13"/><path d="M60.73,68.17L61.37,69.99L62.45,69.64L63.63,70.54"/><path d="M60.58,69.05L60.56,70.42"/><path d="M89.17,30.3L89.91,28.56L89.39,27.31"/><path d="M89.37,28.31L89.33,26.81L88.23,27.37L89.24,26.16"/><path d="M100.21,19.59L101.47,21.1L101.29,19.74L102.11,21.14"/><path d="M99.23,21.25L99.37,22.76"/><path d="M40.88,85.27L42.19,85.31L42.43,84.28"/><path d="M40.44,87.52L42.03,87.83L41.98,85.88L40.92,86.46"/><path d="M37.56,86.29L36.17,85.78L35.61,87.58L37.21,88.55"/></g><g filter="url(#bl04)" stroke="#e8e8e8" stroke-opacity="0.85" stroke-width="1.15" fill="none" stroke-linecap="round"><path d="M59.11,99.55L58.65,100.78L57.59,102.11L57.49,103.02"/><path d="M57.29,98.38L58.74,99.25"/><path d="M57.79,100.35L56.2,101.08L56.46,101.98L55.72,102.78"/><path d="M100,42.43L101.18,42.2L102.69,41.95"/><path d="M99.34,42.05L98.16,41.3L97.47,40.44"/><path d="M24.6,20.7L24.94,21.67L25.71,22.21L25.46,23.72"/><path d="M26.37,20.22L27.58,19.34L28.68,18.48"/><path d="M19.98,60.46L19.49,58.71"/><path d="M20.09,61.2L18.47,60.14L19.45,61.85L20.73,62.31"/><path d="M8.36,62.59L10.12,62.29"/><path d="M9.13,61.62L9.12,60.34L10.42,60.13"/><path d="M60.73,68.17L61.37,69.99L62.45,69.64L63.63,70.54"/><path d="M60.58,69.05L60.56,70.42"/><path d="M89.17,30.3L89.91,28.56L89.39,27.31"/><path d="M89.37,28.31L89.33,26.81L88.23,27.37L89.24,26.16"/><path d="M100.21,19.59L101.47,21.1L101.29,19.74L102.11,21.14"/><path d="M99.23,21.25L99.37,22.76"/><path d="M40.88,85.27L42.19,85.31L42.43,84.28"/><path d="M40.44,87.52L42.03,87.83L41.98,85.88L40.92,86.46"/><path d="M37.56,86.29L36.17,85.78L35.61,87.58L37.21,88.55"/></g>
<g filter="url(#bl03)"><circle cx="28.49" cy="75.38" r="0.76" fill="#ececec" fill-opacity="0.56"/><circle cx="20.43" cy="25.36" r="0.52" fill="#ececec" fill-opacity="0.41"/><circle cx="80.74" cy="14.32" r="0.69" fill="#ececec" fill-opacity="0.41"/><circle cx="32.41" cy="47.47" r="0.83" fill="#ececec" fill-opacity="0.51"/><circle cx="1.59" cy="30.34" r="0.52" fill="#ececec" fill-opacity="0.57"/><circle cx="89.07" cy="88.67" r="0.82" fill="#ececec" fill-opacity="0.54"/><circle cx="104.43" cy="87.31" r="0.57" fill="#ececec" fill-opacity="0.56"/><circle cx="53.55" cy="83.05" r="0.7" fill="#ececec" fill-opacity="0.46"/><circle cx="40.06" cy="47.28" r="0.59" fill="#ececec" fill-opacity="0.39"/><circle cx="90.16" cy="87.81" r="0.89" fill="#ececec" fill-opacity="0.53"/><circle cx="60.96" cy="82.33" r="0.51" fill="#ececec" fill-opacity="0.52"/><circle cx="48.77" cy="19.43" r="0.54" fill="#ececec" fill-opacity="0.49"/><circle cx="27.86" cy="50.54" r="0.72" fill="#ececec" fill-opacity="0.45"/><circle cx="14.39" cy="53.99" r="0.56" fill="#ececec" fill-opacity="0.42"/><circle cx="21.39" cy="40.31" r="0.48" fill="#ececec" fill-opacity="0.52"/><circle cx="104.9" cy="42.87" r="0.77" fill="#ececec" fill-opacity="0.58"/><circle cx="4.75" cy="15.59" r="0.81" fill="#ececec" fill-opacity="0.56"/><circle cx="70.3" cy="17.57" r="0.64" fill="#ececec" fill-opacity="0.57"/><circle cx="97.48" cy="88.35" r="0.54" fill="#ececec" fill-opacity="0.56"/><circle cx="41.22" cy="78.82" r="0.51" fill="#ececec" fill-opacity="0.59"/><circle cx="66.39" cy="79.5" r="0.55" fill="#ececec" fill-opacity="0.51"/><circle cx="63.9" cy="65.03" r="0.61" fill="#ececec" fill-opacity="0.53"/><circle cx="37.55" cy="32.49" r="0.52" fill="#ececec" fill-opacity="0.52"/><circle cx="12.35" cy="24.81" r="0.48" fill="#ececec" fill-opacity="0.51"/><circle cx="61.18" cy="59.76" r="0.47" fill="#ececec" fill-opacity="0.47"/><circle cx="37.74" cy="10.19" r="0.45" fill="#ececec" fill-opacity="0.6"/><circle cx="13.37" cy="33.17" r="0.57" fill="#ececec" fill-opacity="0.5"/><circle cx="8.52" cy="51.69" r="0.62" fill="#ececec" fill-opacity="0.56"/><circle cx="0.63" cy="36.82" r="0.67" fill="#ececec" fill-opacity="0.59"/><circle cx="56.84" cy="52.16" r="0.75" fill="#ececec" fill-opacity="0.43"/><circle cx="3.49" cy="55.15" r="0.86" fill="#ececec" fill-opacity="0.54"/><circle cx="28.41" cy="75.25" r="0.83" fill="#ececec" fill-opacity="0.42"/><circle cx="64.68" cy="39.11" r="0.56" fill="#ececec" fill-opacity="0.43"/><circle cx="22.42" cy="38.59" r="0.47" fill="#ececec" fill-opacity="0.46"/><circle cx="9.54" cy="83.4" r="0.72" fill="#ececec" fill-opacity="0.36"/><circle cx="85.12" cy="20.95" r="0.67" fill="#ececec" fill-opacity="0.49"/><circle cx="36.62" cy="31.84" r="0.65" fill="#ececec" fill-opacity="0.39"/><circle cx="94.99" cy="12.31" r="0.82" fill="#ececec" fill-opacity="0.41"/><circle cx="33.37" cy="42.72" r="0.47" fill="#ececec" fill-opacity="0.39"/><circle cx="39.71" cy="48.61" r="0.84" fill="#ececec" fill-opacity="0.6"/><circle cx="4.79" cy="58.86" r="0.51" fill="#ececec" fill-opacity="0.55"/><circle cx="35.5" cy="98.22" r="0.7" fill="#ececec" fill-opacity="0.39"/><circle cx="0.54" cy="27.29" r="0.84" fill="#ececec" fill-opacity="0.4"/><circle cx="52.68" cy="40.88" r="0.61" fill="#ececec" fill-opacity="0.55"/><circle cx="23.51" cy="79.02" r="0.75" fill="#ececec" fill-opacity="0.58"/><circle cx="57.19" cy="101.25" r="0.65" fill="#ececec" fill-opacity="0.5"/><circle cx="68.27" cy="92.36" r="0.85" fill="#ececec" fill-opacity="0.39"/><circle cx="15.09" cy="58.72" r="0.82" fill="#ececec" fill-opacity="0.49"/><circle cx="32.95" cy="105.8" r="0.58" fill="#ececec" fill-opacity="0.38"/><circle cx="5.73" cy="3.34" r="0.78" fill="#ececec" fill-opacity="0.39"/><circle cx="78.78" cy="95.3" r="0.9" fill="#ececec" fill-opacity="0.55"/><circle cx="46.68" cy="68.43" r="0.82" fill="#ececec" fill-opacity="0.53"/><circle cx="31.95" cy="83.82" r="0.5" fill="#ececec" fill-opacity="0.43"/><circle cx="109.58" cy="51.84" r="0.57" fill="#ececec" fill-opacity="0.55"/><circle cx="49.52" cy="0.4" r="0.46" fill="#ececec" fill-opacity="0.42"/><circle cx="36.51" cy="103.1" r="0.56" fill="#ececec" fill-opacity="0.56"/><circle cx="93.89" cy="45.78" r="0.9" fill="#ececec" fill-opacity="0.54"/><circle cx="53.25" cy="28.76" r="0.66" fill="#ececec" fill-opacity="0.58"/><circle cx="59.04" cy="21.33" r="0.62" fill="#ececec" fill-opacity="0.47"/><circle cx="20.98" cy="63.02" r="0.47" fill="#ececec" fill-opacity="0.56"/><circle cx="19.66" cy="11.32" r="0.71" fill="#ececec" fill-opacity="0.43"/><circle cx="97.37" cy="54.66" r="0.68" fill="#ececec" fill-opacity="0.56"/><circle cx="23.57" cy="81.99" r="0.74" fill="#ececec" fill-opacity="0.46"/><circle cx="105.53" cy="2.42" r="0.84" fill="#ececec" fill-opacity="0.39"/><circle cx="92.37" cy="16.91" r="0.47" fill="#ececec" fill-opacity="0.48"/><circle cx="101.84" cy="28.32" r="0.67" fill="#ececec" fill-opacity="0.51"/><circle cx="26.8" cy="58.34" r="0.45" fill="#ececec" fill-opacity="0.47"/><circle cx="83.57" cy="37.39" r="0.55" fill="#ececec" fill-opacity="0.37"/><circle cx="77.07" cy="46.99" r="0.86" fill="#ececec" fill-opacity="0.54"/><circle cx="11.04" cy="100.56" r="0.87" fill="#ececec" fill-opacity="0.56"/><circle cx="91.44" cy="74.95" r="0.77" fill="#ececec" fill-opacity="0.52"/><circle cx="64.98" cy="28.29" r="0.51" fill="#ececec" fill-opacity="0.53"/><circle cx="65.62" cy="6.21" r="0.74" fill="#ececec" fill-opacity="0.51"/><circle cx="56.27" cy="85.25" r="0.84" fill="#ececec" fill-opacity="0.45"/><circle cx="89.62" cy="54.92" r="0.71" fill="#ececec" fill-opacity="0.46"/><circle cx="102.63" cy="48.89" r="0.88" fill="#ececec" fill-opacity="0.44"/><circle cx="73.95" cy="100.39" r="0.76" fill="#ececec" fill-opacity="0.45"/><circle cx="8.55" cy="52.62" r="0.64" fill="#ececec" fill-opacity="0.56"/><circle cx="86.28" cy="108.48" r="0.65" fill="#ececec" fill-opacity="0.46"/><circle cx="62.06" cy="82.47" r="0.49" fill="#ececec" fill-opacity="0.41"/><circle cx="16.04" cy="35.71" r="0.58" fill="#ececec" fill-opacity="0.59"/><circle cx="22.85" cy="102.68" r="0.58" fill="#ececec" fill-opacity="0.41"/><circle cx="107.18" cy="9.8" r="0.5" fill="#ececec" fill-opacity="0.39"/><circle cx="7.36" cy="42.53" r="0.55" fill="#ececec" fill-opacity="0.4"/><circle cx="1.72" cy="76.81" r="0.47" fill="#ececec" fill-opacity="0.42"/><circle cx="62.2" cy="97.19" r="0.75" fill="#ececec" fill-opacity="0.53"/><circle cx="77.06" cy="87.69" r="0.83" fill="#ececec" fill-opacity="0.4"/><circle cx="5.94" cy="68.3" r="0.68" fill="#ececec" fill-opacity="0.49"/><circle cx="86" cy="19.17" r="0.77" fill="#ececec" fill-opacity="0.46"/><circle cx="46.38" cy="26.92" r="0.58" fill="#ececec" fill-opacity="0.5"/></g>
<rect width="110" height="110" filter="url(#lgrain1)" opacity="0.32"/>
<rect width="110" height="110" filter="url(#sgrain1)" opacity="0.1"/>
<text x="43.2" y="11.9" font-size="9.6" style="fill:#fff;font-family:Carlito,'Liberation Sans',sans-serif;" textLength="60.89" lengthAdjust="spacingAndGlyphs" stroke="#fff" stroke-width="0.2">PP-13 5 µmol/L</text>
</svg>
<svg x="427.8" y="140.9" width="110" height="110" viewBox="0 0 110 110" overflow="hidden">
<rect width="110" height="110" fill="#989898"/>
<rect width="110" height="110" filter="url(#mott2)" opacity="0.1"/>
<rect width="110" height="110" fill="url(#gCol)"/>
<ellipse cx="0" cy="60" rx="6" ry="50" fill="#000" fill-opacity="0.3" filter="url(#bl6)"/>
<ellipse cx="50" cy="112" rx="50" ry="7" fill="#000" fill-opacity="0.4" filter="url(#bl6)"/>
<ellipse cx="0" cy="0" rx="10" ry="10" fill="#000" fill-opacity="0.3" filter="url(#bl6)"/>
<g transform="translate(5.3,42.7) rotate(0)">
<ellipse cx="0" cy="0" rx="8" ry="8" fill="#000" fill-opacity="0.55" filter="url(#bl3)"/>
<ellipse cx="0" cy="0" rx="4.25" ry="4.25" fill="#000" fill-opacity="0.4" filter="url(#bl1)"/>
<g filter="url(#bl07)"><circle cx="-1.15" cy="1.07" r="1.4" fill="#151515" fill-opacity="0.57"/><circle cx="-2.94" cy="-1.57" r="1.86" fill="#151515" fill-opacity="0.4"/><circle cx="-0.33" cy="-2.83" r="2.14" fill="#151515" fill-opacity="0.49"/><circle cx="1.24" cy="-1.98" r="1.39" fill="#151515" fill-opacity="0.33"/><circle cx="-0.22" cy="-1.3" r="1.99" fill="#151515" fill-opacity="0.48"/><circle cx="3.54" cy="1.39" r="1.24" fill="#151515" fill-opacity="0.56"/><circle cx="0.82" cy="-1.27" r="2.07" fill="#151515" fill-opacity="0.51"/><circle cx="2.29" cy="2.29" r="1.35" fill="#151515" fill-opacity="0.57"/><circle cx="-2.28" cy="-5.64" r="1.26" fill="#151515" fill-opacity="0.38"/><circle cx="-2.17" cy="-2.04" r="1.42" fill="#151515" fill-opacity="0.56"/></g>
<g filter="url(#bl04)" stroke="#cdcdcd" stroke-width="1.0" fill="none" stroke-linecap="round"><path d="M1.1,-1.58L1.8,-1.03" stroke-opacity="0.46"/><path d="M-2.5,-3.75L-1.57,-3.62" stroke-opacity="0.59"/><path d="M-0.33,-2.37L-1.95,-2.79L-2.58,-3.71" stroke-opacity="0.49"/><path d="M0.59,0.26L2.09,0.13" stroke-opacity="0.72"/><path d="M-3.06,1.85L-4,1.08" stroke-opacity="0.7"/><path d="M1.64,-0.4L0.82,0.55L0.54,-1.01" stroke-opacity="0.47"/><path d="M-1.39,-2.48L-1.68,-0.8" stroke-opacity="0.55"/><path d="M1.98,-1.01L1.99,-2.55L2.2,-1.61" stroke-opacity="0.46"/><path d="M1.42,3.05L2.77,2.95" stroke-opacity="0.64"/></g>
</g>
<g transform="translate(44,99) rotate(-8)">
<ellipse cx="0" cy="0" rx="19" ry="9" fill="#000" fill-opacity="0.55" filter="url(#bl3)"/>
<ellipse cx="0" cy="0" rx="13.6" ry="5.1" fill="#000" fill-opacity="0.425" filter="url(#bl1)"/>
<g filter="url(#bl07)"><circle cx="-1" cy="-0.45" r="1.53" fill="#151515" fill-opacity="0.37"/><circle cx="-0.89" cy="-3.91" r="2.27" fill="#151515" fill-opacity="0.33"/><circle cx="-1.51" cy="0.3" r="1.46" fill="#151515" fill-opacity="0.47"/><circle cx="4.57" cy="0.29" r="1.98" fill="#151515" fill-opacity="0.48"/><circle cx="1.71" cy="3.42" r="2.17" fill="#151515" fill-opacity="0.3"/><circle cx="3.7" cy="-3.79" r="1.61" fill="#151515" fill-opacity="0.35"/><circle cx="6.08" cy="-0.63" r="1.31" fill="#151515" fill-opacity="0.33"/><circle cx="5.44" cy="-2.9" r="2.17" fill="#151515" fill-opacity="0.55"/><circle cx="-18.23" cy="-1.58" r="1.65" fill="#151515" fill-opacity="0.49"/><circle cx="4.62" cy="-3.18" r="2.23" fill="#151515" fill-opacity="0.49"/><circle cx="-0.6" cy="-0.77" r="1.47" fill="#151515" fill-opacity="0.4"/><circle cx="4.44" cy="0.91" r="1.32" fill="#151515" fill-opacity="0.39"/><circle cx="-4.36" cy="-1.87" r="1.64" fill="#151515" fill-opacity="0.37"/><circle cx="-1.74" cy="6.09" r="1.98" fill="#151515" fill-opacity="0.5"/><circle cx="5.35" cy="3.71" r="1.4" fill="#151515" fill-opacity="0.43"/><circle cx="9.92" cy="-0.25" r="1.87" fill="#151515" fill-opacity="0.53"/><circle cx="6.63" cy="-3.77" r="1.47" fill="#151515" fill-opacity="0.31"/><circle cx="-2.2" cy="1.89" r="1.45" fill="#151515" fill-opacity="0.62"/><circle cx="4.31" cy="-1.59" r="1.99" fill="#151515" fill-opacity="0.43"/><circle cx="6.62" cy="-1.48" r="1.52" fill="#151515" fill-opacity="0.38"/><circle cx="-5.03" cy="-0.77" r="1.9" fill="#151515" fill-opacity="0.6"/><circle cx="-3.95" cy="1.08" r="2.4" fill="#151515" fill-opacity="0.47"/><circle cx="1.82" cy="0.44" r="1.33" fill="#151515" fill-opacity="0.51"/><circle cx="1.9" cy="-2.64" r="1.28" fill="#151515" fill-opacity="0.43"/><circle cx="8.54" cy="-0.08" r="2.37" fill="#151515" fill-opacity="0.59"/><circle cx="11.08" cy="0.3" r="2.02" fill="#151515" fill-opacity="0.48"/><circle cx="-1.05" cy="3.71" r="1.33" fill="#151515" fill-opacity="0.45"/><circle cx="-16.53" cy="1.85" r="2.25" fill="#151515" fill-opacity="0.39"/></g>
<g filter="url(#bl04)" stroke="#cdcdcd" stroke-width="1.0" fill="none" stroke-linecap="round"><path d="M-4.56,-0.01L-3.81,-0.8" stroke-opacity="0.64"/><path d="M-3.24,-0.99L-4.78,-1.38" stroke-opacity="0.61"/><path d="M6.44,0.01L7.33,0.76" stroke-opacity="0.75"/><path d="M1.88,-1.89L3.14,-3.1" stroke-opacity="0.48"/><path d="M-2.74,0.09L-1.86,1.01" stroke-opacity="0.61"/><path d="M-1.39,5.51L0.29,5.13L0.34,3.64" stroke-opacity="0.66"/><path d="M-8.74,2.41L-9.96,2.91L-9.22,3.62" stroke-opacity="0.55"/><path d="M-4.47,-1.04L-2.96,-0.97" stroke-opacity="0.47"/><path d="M1.68,0.28L2.61,0.73L2.12,-0.16" stroke-opacity="0.49"/><path d="M8.7,-1.4L8.75,-0.13L8.01,0.37" stroke-opacity="0.65"/><path d="M-4.56,2.23L-5.39,0.64" stroke-opacity="0.48"/><path d="M-5.42,1.43L-5.41,2.42" stroke-opacity="0.58"/><path d="M-5.18,1.04L-4.57,0.42" stroke-opacity="0.69"/><path d="M2.04,-0.97L3.73,-1.31" stroke-opacity="0.7"/><path d="M4.21,2.72L5.33,1.44" stroke-opacity="0.5"/><path d="M7.24,0.04L6.91,1.5L6.71,-0.07" stroke-opacity="0.65"/><path d="M-4.7,0.15L-3.35,-0.12" stroke-opacity="0.61"/><path d="M-0.03,-0.94L-1.68,-0.97L-0.72,0.51" stroke-opacity="0.47"/><path d="M3.84,3.37L2.4,4.36" stroke-opacity="0.62"/><path d="M-1.82,-0.37L-3.03,0.3" stroke-opacity="0.61"/><path d="M4.51,-0.74L4.59,0.46L4.07,-0.51" stroke-opacity="0.54"/><path d="M0.03,-1.06L-0.95,-2L0.13,-1.21" stroke-opacity="0.6"/><path d="M4.54,1.87L5.39,1.06" stroke-opacity="0.5"/><path d="M5.7,-3.68L5.03,-4.86" stroke-opacity="0.73"/><path d="M11.87,3.39L12.55,3.99L11.54,3.64" stroke-opacity="0.63"/></g>
</g>
<g transform="translate(76.4,82) rotate(0)">
<ellipse cx="0" cy="0" rx="9" ry="8" fill="#000" fill-opacity="0.45" filter="url(#bl3)"/>
<ellipse cx="0" cy="0" rx="5.1" ry="4.25" fill="#000" fill-opacity="0.3" filter="url(#bl1)"/>
<g filter="url(#bl07)"><circle cx="-2.74" cy="1.48" r="2.23" fill="#151515" fill-opacity="0.25"/><circle cx="0.1" cy="0.52" r="1.34" fill="#151515" fill-opacity="0.21"/><circle cx="1.73" cy="2.17" r="2.39" fill="#151515" fill-opacity="0.38"/><circle cx="-1.92" cy="1.53" r="2.03" fill="#151515" fill-opacity="0.29"/><circle cx="4.48" cy="1.86" r="1.94" fill="#151515" fill-opacity="0.24"/><circle cx="1.05" cy="0.41" r="2.35" fill="#151515" fill-opacity="0.24"/><circle cx="-4.87" cy="-4.07" r="1.24" fill="#151515" fill-opacity="0.3"/><circle cx="-5.76" cy="0.69" r="1.43" fill="#151515" fill-opacity="0.27"/><circle cx="0.01" cy="0.69" r="2.01" fill="#151515" fill-opacity="0.41"/><circle cx="-0.67" cy="0.24" r="2.06" fill="#151515" fill-opacity="0.39"/><circle cx="-1.33" cy="-1.59" r="2.2" fill="#151515" fill-opacity="0.36"/></g>
<g filter="url(#bl04)" stroke="#cdcdcd" stroke-width="1.0" fill="none" stroke-linecap="round"><path d="M-2.87,-1.52L-4.66,-1.33" stroke-opacity="0.67"/><path d="M3.77,-0.1L3.63,0.7" stroke-opacity="0.71"/><path d="M-3.25,-1.49L-2.1,-1.53L-1.81,-0.66" stroke-opacity="0.55"/><path d="M1.96,-2.64L3.52,-2.65" stroke-opacity="0.65"/><path d="M-1.49,0.21L-2.29,-0.54" stroke-opacity="0.64"/><path d="M-0.04,0.26L0.53,1.45L-0.19,-0.04" stroke-opacity="0.74"/><path d="M2.91,0.97L4.68,0.68L4.69,-0.91" stroke-opacity="0.55"/><path d="M0.3,-0.8L-0.07,0.35L-1.74,-0.16" stroke-opacity="0.47"/><path d="M-0.09,5.45L1.02,6.01" stroke-opacity="0.65"/></g>
</g>
<g transform="translate(87,95) rotate(0)">
<ellipse cx="0" cy="0" rx="7" ry="6.5" fill="#000" fill-opacity="0.4" filter="url(#bl3)"/>
<ellipse cx="0" cy="0" rx="3.4" ry="2.98" fill="#000" fill-opacity="0.3" filter="url(#bl1)"/>
<g filter="url(#bl07)"><circle cx="-0.28" cy="1.74" r="1.3" fill="#151515" fill-opacity="0.29"/><circle cx="0.23" cy="0.1" r="1.54" fill="#151515" fill-opacity="0.24"/><circle cx="-1.07" cy="2.33" r="1.24" fill="#151515" fill-opacity="0.36"/><circle cx="2.05" cy="2.03" r="2.08" fill="#151515" fill-opacity="0.26"/><circle cx="1.6" cy="-1.97" r="1.29" fill="#151515" fill-opacity="0.31"/><circle cx="-1.21" cy="-3.28" r="1.41" fill="#151515" fill-opacity="0.27"/><circle cx="0.7" cy="-3.85" r="1.31" fill="#151515" fill-opacity="0.23"/></g>
<g filter="url(#bl04)" stroke="#cdcdcd" stroke-width="1.0" fill="none" stroke-linecap="round"><path d="M0.01,-1.39L-0.53,-3.04L-1.85,-3.29" stroke-opacity="0.64"/><path d="M-2.05,-1.71L-2.77,-2.18L-1.33,-3.1" stroke-opacity="0.56"/><path d="M-0.24,-0.21L-0.53,-1.4L-0.23,-0.25" stroke-opacity="0.56"/><path d="M-1.99,-1.02L-0.78,-0.52L0.39,-1.34" stroke-opacity="0.61"/><path d="M-2.13,-2L-2.44,-1.06L-3.06,-1.65" stroke-opacity="0.73"/><path d="M2.03,1.34L1.11,0.48L1.44,1.5" stroke-opacity="0.52"/></g>
</g>
<g transform="translate(53.3,51.5) rotate(0)">
<ellipse cx="0" cy="0" rx="7" ry="7" fill="#000" fill-opacity="0.35" filter="url(#bl3)"/>
<ellipse cx="0" cy="0" rx="3.4" ry="3.4" fill="#000" fill-opacity="0.175" filter="url(#bl1)"/>
<g filter="url(#bl07)"><circle cx="1.34" cy="-1.14" r="1.91" fill="#151515" fill-opacity="0.24"/><circle cx="0.28" cy="2.08" r="1.9" fill="#151515" fill-opacity="0.26"/><circle cx="0.64" cy="0.13" r="1.58" fill="#151515" fill-opacity="0.24"/><circle cx="0.52" cy="-0.78" r="2.3" fill="#151515" fill-opacity="0.2"/><circle cx="3.98" cy="-0.81" r="1.31" fill="#151515" fill-opacity="0.26"/><circle cx="-1" cy="0.13" r="1.76" fill="#151515" fill-opacity="0.13"/><circle cx="-0.02" cy="-2.18" r="1.33" fill="#151515" fill-opacity="0.15"/><circle cx="-3.02" cy="-0.12" r="1.53" fill="#151515" fill-opacity="0.14"/></g>
<g filter="url(#bl04)" stroke="#cdcdcd" stroke-width="1.0" fill="none" stroke-linecap="round"><path d="M-0.42,0.54L-1.59,0.84L-2.45,1.61" stroke-opacity="0.68"/><path d="M1.15,-2.12L2.14,-1.69L3.16,-0.78" stroke-opacity="0.56"/><path d="M0.02,-2.36L-0.17,-3.33" stroke-opacity="0.57"/><path d="M-0.09,-1.65L-0.87,-3.14" stroke-opacity="0.71"/><path d="M-2.2,1.51L-3.72,1.35" stroke-opacity="0.51"/><path d="M0.41,4.27L-0.72,5.18" stroke-opacity="0.49"/><path d="M-2.32,2.15L-2.5,0.89L-2.76,-0.02" stroke-opacity="0.57"/></g>
</g>
<g transform="translate(39,31) rotate(0)">
<ellipse cx="0" cy="0" rx="5.5" ry="5.5" fill="#000" fill-opacity="0.25" filter="url(#bl3)"/>
<ellipse cx="0" cy="0" rx="2.12" ry="2.12" fill="#000" fill-opacity="0.25" filter="url(#bl1)"/>
<g filter="url(#bl07)"><circle cx="-0.69" cy="0.92" r="1.74" fill="#151515" fill-opacity="0.24"/><circle cx="-1.08" cy="-0.08" r="1.25" fill="#151515" fill-opacity="0.26"/><circle cx="0.5" cy="0.07" r="1.52" fill="#151515" fill-opacity="0.37"/><circle cx="-1.36" cy="0.16" r="2.3" fill="#151515" fill-opacity="0.35"/><circle cx="-0.72" cy="-0.32" r="1.83" fill="#151515" fill-opacity="0.25"/></g>
<g filter="url(#bl04)" stroke="#cdcdcd" stroke-width="1.0" fill="none" stroke-linecap="round"><path d="M0.29,-0.08L0.05,-1.21L-0.7,-0.05" stroke-opacity="0.51"/><path d="M0.44,-1.78L1.07,-1.15" stroke-opacity="0.62"/><path d="M-2.08,-0.11L-3.08,-1.46" stroke-opacity="0.73"/><path d="M0.45,-0.66L0.65,-2.05" stroke-opacity="0.65"/></g>
</g>
<g transform="translate(104.9,69.3) rotate(0)">
<ellipse cx="0" cy="0" rx="6" ry="6" fill="#000" fill-opacity="0.2" filter="url(#bl3)"/>
<ellipse cx="0" cy="0" rx="2.55" ry="2.55" fill="#000" fill-opacity="0.2" filter="url(#bl1)"/>
<g filter="url(#bl07)"><circle cx="-0.66" cy="-0.21" r="2.05" fill="#151515" fill-opacity="0.19"/><circle cx="0.79" cy="-0.32" r="2.11" fill="#151515" fill-opacity="0.17"/><circle cx="2.59" cy="-0.56" r="1.33" fill="#151515" fill-opacity="0.24"/><circle cx="0.31" cy="1.53" r="2.22" fill="#151515" fill-opacity="0.16"/><circle cx="0.1" cy="0.5" r="1.28" fill="#151515" fill-opacity="0.22"/><circle cx="0.36" cy="0.59" r="2.04" fill="#151515" fill-opacity="0.19"/></g>
<g filter="url(#bl04)" stroke="#cdcdcd" stroke-width="1.0" fill="none" stroke-linecap="round"><path d="M-0.66,1.05L-0.86,2.48" stroke-opacity="0.73"/><path d="M-1,-0.48L-1.75,0.51" stroke-opacity="0.51"/><path d="M0.74,-2.54L1.62,-2.39L0.37,-3" stroke-opacity="0.66"/><path d="M0.17,-0.96L-1.27,-0.7L-1.08,-1.59" stroke-opacity="0.45"/><path d="M-0.96,1.05L0.42,1.06L-0.06,-0.04" stroke-opacity="0.58"/></g>
</g>
<g filter="url(#bl05)" stroke="#333" stroke-opacity="0.35" stroke-width="2.2" fill="none" stroke-linecap="round"><path d="M16.55,48.05L16.57,46.59L17.47,46.88"/><path d="M17.75,45.65L19.19,46.07L19.55,47.91L19.26,49.19"/><path d="M19.5,28.92L19.34,27.67L18.32,28.93"/><path d="M20.79,28.09L19.91,26.68"/><path d="M5.75,67.38L4.37,66.81"/><path d="M4.79,65.69L4.08,67.06"/><path d="M6.38,65.52L5.06,65.53L6.78,65.15L5.35,64.71"/><path d="M5.68,66.31L6.86,64.77"/><path d="M13.76,78.77L13.43,77.86L14.55,76.41"/><path d="M10.79,78.45L10.57,77.4L8.75,78.12"/><path d="M13.18,78.79L12.05,77.21L10.77,76.23"/><path d="M16.93,84.37L18.06,83.19L16.77,84.54L15.49,83.42"/><path d="M17.24,84.17L18.23,84.08L18.47,82.81L18.04,81.22"/><path d="M47.81,18.46L47.95,17.06"/><path d="M48.31,19.1L47.64,19.75L46.37,19.66L44.56,18.86"/><path d="M50.02,18.84L48.19,18.62L48.05,17.47L48.23,18.71"/><path d="M47.26,19.56L48.59,19.82L48.04,18.46L49.08,17.55"/><path d="M80.95,29.13L80.87,30.21"/><path d="M80.63,29.74L81.62,28.52"/><path d="M94.19,54.96L94.9,55.58"/><path d="M93.52,56.51L92.51,56.99L91.79,55.2L92.28,56.49"/><path d="M92.69,54.54L92.17,56.08"/><path d="M59.08,68.79L59.21,69.72L58.93,67.83"/><path d="M61.95,71.35L62.04,72.3L61.64,71.08L61.33,73.02"/><path d="M29.18,58.31L30.08,57.94"/><path d="M30.37,60.17L30.46,61.61"/><path d="M99.6,90.49L100.94,90.99L99.27,91.59L98.97,90.46"/><path d="M101.51,89.83L101.49,88.78L101.17,87.22L101.3,86.32"/><path d="M99.55,92.13L100.34,92.91L100.93,94.02"/><path d="M69.22,100.78L69.43,102.37L69.08,103.43"/><path d="M67.99,100.35L68.61,101.41L67.28,101.91"/></g><g filter="url(#bl04)" stroke="#e8e8e8" stroke-opacity="0.85" stroke-width="1.15" fill="none" stroke-linecap="round"><path d="M16.55,48.05L16.57,46.59L17.47,46.88"/><path d="M17.75,45.65L19.19,46.07L19.55,47.91L19.26,49.19"/><path d="M19.5,28.92L19.34,27.67L18.32,28.93"/><path d="M20.79,28.09L19.91,26.68"/><path d="M5.75,67.38L4.37,66.81"/><path d="M4.79,65.69L4.08,67.06"/><path d="M6.38,65.52L5.06,65.53L6.78,65.15L5.35,64.71"/><path d="M5.68,66.31L6.86,64.77"/><path d="M13.76,78.77L13.43,77.86L14.55,76.41"/><path d="M10.79,78.45L10.57,77.4L8.75,78.12"/><path d="M13.18,78.79L12.05,77.21L10.77,76.23"/><path d="M16.93,84.37L18.06,83.19L16.77,84.54L15.49,83.42"/><path d="M17.24,84.17L18.23,84.08L18.47,82.81L18.04,81.22"/><path d="M47.81,18.46L47.95,17.06"/><path d="M48.31,19.1L47.64,19.75L46.37,19.66L44.56,18.86"/><path d="M50.02,18.84L48.19,18.62L48.05,17.47L48.23,18.71"/><path d="M47.26,19.56L48.59,19.82L48.04,18.46L49.08,17.55"/><path d="M80.95,29.13L80.87,30.21"/><path d="M80.63,29.74L81.62,28.52"/><path d="M94.19,54.96L94.9,55.58"/><path d="M93.52,56.51L92.51,56.99L91.79,55.2L92.28,56.49"/><path d="M92.69,54.54L92.17,56.08"/><path d="M59.08,68.79L59.21,69.72L58.93,67.83"/><path d="M61.95,71.35L62.04,72.3L61.64,71.08L61.33,73.02"/><path d="M29.18,58.31L30.08,57.94"/><path d="M30.37,60.17L30.46,61.61"/><path d="M99.6,90.49L100.94,90.99L99.27,91.59L98.97,90.46"/><path d="M101.51,89.83L101.49,88.78L101.17,87.22L101.3,86.32"/><path d="M99.55,92.13L100.34,92.91L100.93,94.02"/><path d="M69.22,100.78L69.43,102.37L69.08,103.43"/><path d="M67.99,100.35L68.61,101.41L67.28,101.91"/></g>
<g filter="url(#bl03)"><circle cx="11.75" cy="77.28" r="0.74" fill="#ececec" fill-opacity="0.59"/><circle cx="29.82" cy="28.14" r="0.78" fill="#ececec" fill-opacity="0.52"/><circle cx="33.33" cy="75.27" r="0.63" fill="#ececec" fill-opacity="0.55"/><circle cx="13.02" cy="24.56" r="0.86" fill="#ececec" fill-opacity="0.45"/><circle cx="28.64" cy="88.47" r="0.73" fill="#ececec" fill-opacity="0.4"/><circle cx="60.65" cy="73.04" r="0.52" fill="#ececec" fill-opacity="0.52"/><circle cx="13.53" cy="37.08" r="0.49" fill="#ececec" fill-opacity="0.41"/><circle cx="107.58" cy="44.4" r="0.9" fill="#ececec" fill-opacity="0.47"/><circle cx="66.83" cy="95.99" r="0.76" fill="#ececec" fill-opacity="0.39"/><circle cx="64.8" cy="69.71" r="0.53" fill="#ececec" fill-opacity="0.38"/><circle cx="96.23" cy="56.52" r="0.54" fill="#ececec" fill-opacity="0.47"/><circle cx="24" cy="87.81" r="0.68" fill="#ececec" fill-opacity="0.38"/><circle cx="89.99" cy="9.85" r="0.58" fill="#ececec" fill-opacity="0.37"/><circle cx="81.44" cy="12.53" r="0.69" fill="#ececec" fill-opacity="0.38"/><circle cx="52.85" cy="75.39" r="0.69" fill="#ececec" fill-opacity="0.47"/><circle cx="53.34" cy="48.07" r="0.72" fill="#ececec" fill-opacity="0.38"/><circle cx="52.2" cy="25.99" r="0.84" fill="#ececec" fill-opacity="0.59"/><circle cx="7.31" cy="15.76" r="0.77" fill="#ececec" fill-opacity="0.5"/><circle cx="2.1" cy="77.54" r="0.87" fill="#ececec" fill-opacity="0.46"/><circle cx="38.22" cy="62.63" r="0.87" fill="#ececec" fill-opacity="0.42"/><circle cx="33.25" cy="20.76" r="0.73" fill="#ececec" fill-opacity="0.47"/><circle cx="28.17" cy="42.67" r="0.47" fill="#ececec" fill-opacity="0.43"/><circle cx="108.12" cy="64.46" r="0.58" fill="#ececec" fill-opacity="0.58"/><circle cx="39.41" cy="27.67" r="0.47" fill="#ececec" fill-opacity="0.4"/><circle cx="21.89" cy="25.3" r="0.84" fill="#ececec" fill-opacity="0.42"/><circle cx="27.35" cy="66.43" r="0.86" fill="#ececec" fill-opacity="0.43"/><circle cx="83.77" cy="40.56" r="0.7" fill="#ececec" fill-opacity="0.5"/><circle cx="103.65" cy="83.3" r="0.68" fill="#ececec" fill-opacity="0.56"/><circle cx="40.31" cy="42.25" r="0.88" fill="#ececec" fill-opacity="0.49"/><circle cx="85.08" cy="34.59" r="0.86" fill="#ececec" fill-opacity="0.51"/><circle cx="27.2" cy="102.7" r="0.66" fill="#ececec" fill-opacity="0.44"/><circle cx="28.9" cy="11.36" r="0.54" fill="#ececec" fill-opacity="0.53"/><circle cx="15.47" cy="28.46" r="0.65" fill="#ececec" fill-opacity="0.49"/><circle cx="41.86" cy="86.36" r="0.57" fill="#ececec" fill-opacity="0.45"/><circle cx="46.75" cy="14.18" r="0.55" fill="#ececec" fill-opacity="0.4"/><circle cx="79.79" cy="16.12" r="0.75" fill="#ececec" fill-opacity="0.41"/><circle cx="71.16" cy="72.22" r="0.61" fill="#ececec" fill-opacity="0.58"/><circle cx="72.25" cy="61.3" r="0.47" fill="#ececec" fill-opacity="0.46"/><circle cx="29.27" cy="51.68" r="0.87" fill="#ececec" fill-opacity="0.57"/><circle cx="6.81" cy="74.81" r="0.87" fill="#ececec" fill-opacity="0.49"/><circle cx="10.64" cy="95.35" r="0.64" fill="#ececec" fill-opacity="0.6"/><circle cx="96.19" cy="91.18" r="0.87" fill="#ececec" fill-opacity="0.38"/><circle cx="87.32" cy="33.57" r="0.51" fill="#ececec" fill-opacity="0.45"/><circle cx="64.78" cy="0.54" r="0.65" fill="#ececec" fill-opacity="0.55"/><circle cx="54.48" cy="58.1" r="0.58" fill="#ececec" fill-opacity="0.59"/><circle cx="27.3" cy="74.93" r="0.74" fill="#ececec" fill-opacity="0.36"/><circle cx="109.61" cy="25.9" r="0.89" fill="#ececec" fill-opacity="0.58"/><circle cx="99.11" cy="94.08" r="0.63" fill="#ececec" fill-opacity="0.47"/><circle cx="38.03" cy="102.96" r="0.46" fill="#ececec" fill-opacity="0.39"/><circle cx="105.21" cy="88.71" r="0.77" fill="#ececec" fill-opacity="0.59"/><circle cx="57.6" cy="91.88" r="0.65" fill="#ececec" fill-opacity="0.58"/><circle cx="7.66" cy="48.22" r="0.71" fill="#ececec" fill-opacity="0.55"/><circle cx="46.48" cy="74.87" r="0.89" fill="#ececec" fill-opacity="0.46"/><circle cx="21.95" cy="3.33" r="0.84" fill="#ececec" fill-opacity="0.47"/><circle cx="42.68" cy="57.16" r="0.5" fill="#ececec" fill-opacity="0.41"/><circle cx="25.94" cy="28.06" r="0.84" fill="#ececec" fill-opacity="0.42"/><circle cx="9.95" cy="95.34" r="0.7" fill="#ececec" fill-opacity="0.37"/><circle cx="74.27" cy="75.49" r="0.74" fill="#ececec" fill-opacity="0.55"/><circle cx="46.63" cy="24.74" r="0.78" fill="#ececec" fill-opacity="0.51"/><circle cx="77.41" cy="20.2" r="0.62" fill="#ececec" fill-opacity="0.53"/><circle cx="42.3" cy="66.27" r="0.66" fill="#ececec" fill-opacity="0.54"/><circle cx="38.32" cy="54.77" r="0.82" fill="#ececec" fill-opacity="0.43"/><circle cx="19.33" cy="70.03" r="0.51" fill="#ececec" fill-opacity="0.57"/><circle cx="30.25" cy="99.46" r="0.69" fill="#ececec" fill-opacity="0.4"/><circle cx="57.31" cy="75.08" r="0.67" fill="#ececec" fill-opacity="0.51"/><circle cx="40.59" cy="105.51" r="0.53" fill="#ececec" fill-opacity="0.55"/><circle cx="2.61" cy="55.79" r="0.48" fill="#ececec" fill-opacity="0.39"/><circle cx="64.73" cy="99.48" r="0.59" fill="#ececec" fill-opacity="0.46"/><circle cx="52.36" cy="66.56" r="0.61" fill="#ececec" fill-opacity="0.44"/><circle cx="93.88" cy="61.12" r="0.61" fill="#ececec" fill-opacity="0.56"/><circle cx="109.89" cy="47.54" r="0.46" fill="#ececec" fill-opacity="0.43"/><circle cx="98.79" cy="18.9" r="0.54" fill="#ececec" fill-opacity="0.55"/><circle cx="12.58" cy="93.44" r="0.55" fill="#ececec" fill-opacity="0.45"/><circle cx="65.38" cy="12.33" r="0.8" fill="#ececec" fill-opacity="0.47"/><circle cx="84.73" cy="84.05" r="0.48" fill="#ececec" fill-opacity="0.56"/><circle cx="90.29" cy="26.59" r="0.72" fill="#ececec" fill-opacity="0.41"/><circle cx="59.24" cy="82.7" r="0.62" fill="#ececec" fill-opacity="0.49"/><circle cx="14.46" cy="94.94" r="0.73" fill="#ececec" fill-opacity="0.56"/><circle cx="8.88" cy="81.99" r="0.49" fill="#ececec" fill-opacity="0.49"/><circle cx="25.38" cy="99.17" r="0.5" fill="#ececec" fill-opacity="0.47"/><circle cx="51.8" cy="42.45" r="0.48" fill="#ececec" fill-opacity="0.52"/><circle cx="106.92" cy="39.71" r="0.85" fill="#ececec" fill-opacity="0.44"/><circle cx="30.05" cy="50.02" r="0.89" fill="#ececec" fill-opacity="0.55"/><circle cx="69.58" cy="4.36" r="0.65" fill="#ececec" fill-opacity="0.36"/><circle cx="6.82" cy="41.4" r="0.56" fill="#ececec" fill-opacity="0.38"/><circle cx="56.28" cy="86.06" r="0.87" fill="#ececec" fill-opacity="0.58"/><circle cx="46.87" cy="19.62" r="0.88" fill="#ececec" fill-opacity="0.46"/><circle cx="37.73" cy="90.66" r="0.7" fill="#ececec" fill-opacity="0.59"/><circle cx="77.13" cy="104.05" r="0.52" fill="#ececec" fill-opacity="0.59"/><circle cx="59.58" cy="76.63" r="0.59" fill="#ececec" fill-opacity="0.42"/></g>
<rect width="110" height="110" filter="url(#lgrain2)" opacity="0.32"/>
<rect width="110" height="110" filter="url(#sgrain2)" opacity="0.1"/>
<text x="21.75" y="11.9" font-size="9.6" style="fill:#fff;font-family:Carlito,'Liberation Sans',sans-serif;" textLength="86.03" lengthAdjust="spacingAndGlyphs" stroke="#fff" stroke-width="0.2">Colchicine 2.5 µmol/L</text>
</svg>
<svg x="543" y="140.9" width="110" height="110" viewBox="0 0 110 110" overflow="hidden">
<rect width="110" height="110" fill="#9e9e9e"/>
<rect width="110" height="110" filter="url(#mott0)" opacity="0.1"/>
<rect width="110" height="110" fill="url(#gPp10)"/>
<g transform="translate(81.7,24.9) rotate(0)">
<ellipse cx="0" cy="0" rx="12" ry="13" fill="#000" fill-opacity="0.6" filter="url(#bl3)"/>
<ellipse cx="0" cy="0" rx="7.65" ry="8.5" fill="#000" fill-opacity="0.45" filter="url(#bl1)"/>
<g filter="url(#bl07)"><circle cx="-4.99" cy="0.19" r="2.17" fill="#151515" fill-opacity="0.43"/><circle cx="-2.59" cy="6.03" r="1.78" fill="#151515" fill-opacity="0.44"/><circle cx="-2.9" cy="2.18" r="1.4" fill="#151515" fill-opacity="0.54"/><circle cx="4.7" cy="-4.11" r="1.96" fill="#151515" fill-opacity="0.44"/><circle cx="-2" cy="0.98" r="2.07" fill="#151515" fill-opacity="0.42"/><circle cx="-2.85" cy="11.8" r="1.61" fill="#151515" fill-opacity="0.67"/><circle cx="-4.89" cy="-4.97" r="1.95" fill="#151515" fill-opacity="0.38"/><circle cx="-0.7" cy="-3.27" r="1.69" fill="#151515" fill-opacity="0.36"/><circle cx="3.5" cy="1.49" r="1.22" fill="#151515" fill-opacity="0.45"/><circle cx="8.3" cy="-12.67" r="1.71" fill="#151515" fill-opacity="0.35"/><circle cx="-0.81" cy="1.3" r="1.46" fill="#151515" fill-opacity="0.54"/><circle cx="-0.73" cy="-0.74" r="1.79" fill="#151515" fill-opacity="0.47"/><circle cx="-1.69" cy="1.4" r="1.67" fill="#151515" fill-opacity="0.35"/><circle cx="-2.21" cy="-5.8" r="1.95" fill="#151515" fill-opacity="0.46"/><circle cx="3.62" cy="-1.12" r="1.44" fill="#151515" fill-opacity="0.45"/><circle cx="1.96" cy="-1.33" r="2.12" fill="#151515" fill-opacity="0.65"/><circle cx="2.62" cy="-3.9" r="1.74" fill="#151515" fill-opacity="0.63"/><circle cx="-1.75" cy="-7.64" r="1.41" fill="#151515" fill-opacity="0.53"/><circle cx="-0.21" cy="-3.2" r="1.45" fill="#151515" fill-opacity="0.62"/><circle cx="-3.66" cy="-1.85" r="1.78" fill="#151515" fill-opacity="0.41"/><circle cx="0.02" cy="2.06" r="1.68" fill="#151515" fill-opacity="0.37"/><circle cx="7.79" cy="-6.56" r="1.91" fill="#151515" fill-opacity="0.35"/><circle cx="-1.85" cy="-1.47" r="1.65" fill="#151515" fill-opacity="0.36"/><circle cx="-1.55" cy="0.03" r="1.54" fill="#151515" fill-opacity="0.4"/><circle cx="-8.83" cy="2.12" r="1.89" fill="#151515" fill-opacity="0.6"/><circle cx="-0.74" cy="-5.29" r="1.28" fill="#151515" fill-opacity="0.34"/></g>
<g filter="url(#bl04)" stroke="#cdcdcd" stroke-width="1.0" fill="none" stroke-linecap="round"><path d="M3.27,4.1L3.35,2.81L1.87,2.77" stroke-opacity="0.62"/><path d="M4.59,1.3L5.39,0.52L5.97,-0.83" stroke-opacity="0.53"/><path d="M5.21,-3.89L4.21,-4.3" stroke-opacity="0.61"/><path d="M-1.16,-2.11L-1.71,-0.72L-0.84,-1.16" stroke-opacity="0.73"/><path d="M-1.73,1.12L-2.8,1.18" stroke-opacity="0.68"/><path d="M4.89,4.05L5.83,4.77L4.83,4.91" stroke-opacity="0.56"/><path d="M-0.72,-2.21L-2.41,-1.84" stroke-opacity="0.64"/><path d="M-2.64,-0.29L-3.87,-0.78" stroke-opacity="0.61"/><path d="M-0.8,4.91L0.57,5.18" stroke-opacity="0.68"/><path d="M2.62,-1.21L2.97,-2.75L4.27,-2.72" stroke-opacity="0.5"/><path d="M2.28,-5.45L1.21,-6.3L0.72,-7.3" stroke-opacity="0.5"/><path d="M-3.08,-2.33L-2.34,-1.41" stroke-opacity="0.63"/><path d="M-8.35,7.65L-8.01,9.01L-7.67,10.39" stroke-opacity="0.6"/><path d="M0.87,1.56L-0.03,3.03L-0.76,3.55" stroke-opacity="0.46"/><path d="M0.78,-2.73L2.16,-1.89" stroke-opacity="0.74"/><path d="M-4.93,5.97L-5.65,4.94" stroke-opacity="0.48"/><path d="M3.09,-7.1L4.7,-6.89" stroke-opacity="0.73"/><path d="M-2.73,-1.3L-2.59,-2.23" stroke-opacity="0.74"/><path d="M-4.98,0.46L-4.08,0.5L-4.39,1.29" stroke-opacity="0.52"/><path d="M1.98,8.03L0.83,7.16" stroke-opacity="0.45"/><path d="M0.37,0.28L-1.16,-0.46" stroke-opacity="0.65"/><path d="M3.67,4.71L4.98,4.12L4.98,5.75" stroke-opacity="0.66"/><path d="M2.13,-1.91L1.12,-1.79L1.1,-0.89" stroke-opacity="0.72"/></g>
</g>
<g transform="translate(61,48) rotate(-20)">
<ellipse cx="0" cy="0" rx="7" ry="10" fill="#000" fill-opacity="0.45" filter="url(#bl3)"/>
<ellipse cx="0" cy="0" rx="3.4" ry="5.95" fill="#000" fill-opacity="0.375" filter="url(#bl1)"/>
<g filter="url(#bl07)"><circle cx="0.96" cy="-0.82" r="2.36" fill="#151515" fill-opacity="0.33"/><circle cx="-3.62" cy="1.43" r="1.63" fill="#151515" fill-opacity="0.41"/><circle cx="2.34" cy="6.59" r="2.38" fill="#151515" fill-opacity="0.31"/><circle cx="1.41" cy="2.4" r="1.82" fill="#151515" fill-opacity="0.5"/><circle cx="-1.28" cy="3.39" r="1.39" fill="#151515" fill-opacity="0.33"/><circle cx="1.92" cy="1.82" r="1.88" fill="#151515" fill-opacity="0.45"/><circle cx="1.37" cy="-1.02" r="1.61" fill="#151515" fill-opacity="0.4"/><circle cx="1.41" cy="-0.87" r="1.55" fill="#151515" fill-opacity="0.39"/><circle cx="-0.52" cy="-2.29" r="1.41" fill="#151515" fill-opacity="0.48"/><circle cx="-2.04" cy="-1.82" r="1.22" fill="#151515" fill-opacity="0.34"/><circle cx="1.33" cy="1.73" r="2.29" fill="#151515" fill-opacity="0.56"/></g>
<g filter="url(#bl04)" stroke="#cdcdcd" stroke-width="1.0" fill="none" stroke-linecap="round"><path d="M1,-2.51L0.33,-1.51" stroke-opacity="0.66"/><path d="M-1.13,3.01L-2.78,2.6L-1.18,3.37" stroke-opacity="0.67"/><path d="M-2.78,1.42L-3.51,0.55" stroke-opacity="0.66"/><path d="M3.84,-4.22L3.25,-5.1" stroke-opacity="0.75"/><path d="M4.76,-0.45L6.04,-0.95L6.67,-1.97" stroke-opacity="0.47"/><path d="M3.64,-3.22L2.42,-2.37L1.53,-2.74" stroke-opacity="0.62"/><path d="M-0.44,-4.46L-0.18,-5.72L0.36,-5.09" stroke-opacity="0.65"/><path d="M1.32,1.18L1.01,1.96" stroke-opacity="0.69"/><path d="M-0.42,-4.32L-1.35,-5.5" stroke-opacity="0.71"/></g>
</g>
<g transform="translate(59,64) rotate(25)">
<ellipse cx="0" cy="0" rx="8" ry="11" fill="#000" fill-opacity="0.45" filter="url(#bl3)"/>
<ellipse cx="0" cy="0" rx="4.25" ry="6.8" fill="#000" fill-opacity="0.375" filter="url(#bl1)"/>
<g filter="url(#bl07)"><circle cx="2.1" cy="1.6" r="1.5" fill="#151515" fill-opacity="0.4"/><circle cx="-0.17" cy="6.91" r="1.87" fill="#151515" fill-opacity="0.49"/><circle cx="2.27" cy="-1.81" r="1.76" fill="#151515" fill-opacity="0.3"/><circle cx="0.18" cy="-1.29" r="1.64" fill="#151515" fill-opacity="0.31"/><circle cx="-0.33" cy="-3.81" r="1.81" fill="#151515" fill-opacity="0.42"/><circle cx="3.35" cy="-8.11" r="1.64" fill="#151515" fill-opacity="0.53"/><circle cx="-0.84" cy="-5.21" r="2.37" fill="#151515" fill-opacity="0.32"/><circle cx="-1.04" cy="3.63" r="1.57" fill="#151515" fill-opacity="0.35"/><circle cx="1.53" cy="7.45" r="2.36" fill="#151515" fill-opacity="0.53"/><circle cx="0.6" cy="-3.42" r="1.57" fill="#151515" fill-opacity="0.38"/><circle cx="1.08" cy="0.19" r="1.77" fill="#151515" fill-opacity="0.39"/><circle cx="-1.59" cy="-3.67" r="1.32" fill="#151515" fill-opacity="0.52"/><circle cx="-2.22" cy="1.78" r="1.65" fill="#151515" fill-opacity="0.37"/><circle cx="4.95" cy="-4.37" r="1.42" fill="#151515" fill-opacity="0.54"/></g>
<g filter="url(#bl04)" stroke="#cdcdcd" stroke-width="1.0" fill="none" stroke-linecap="round"><path d="M1.57,-6.29L0.47,-6.1L0.42,-7.24" stroke-opacity="0.63"/><path d="M-2.5,-4.42L-1.74,-5.27L-1.28,-6.34" stroke-opacity="0.48"/><path d="M-1.1,1.32L-2.49,0.85" stroke-opacity="0.74"/><path d="M0.11,-1.67L0.84,-1.14L0.33,-2.78" stroke-opacity="0.7"/><path d="M-0.68,-0.79L-2.15,-0.73" stroke-opacity="0.5"/><path d="M-2.07,-1.19L-1.45,-2.25" stroke-opacity="0.51"/><path d="M-1.8,1.7L-3,2.56" stroke-opacity="0.67"/><path d="M-5.08,-3.83L-4.32,-4.99" stroke-opacity="0.68"/><path d="M0.77,-1.36L-0.61,-2.26" stroke-opacity="0.67"/><path d="M0.64,-3.39L0.08,-4.86" stroke-opacity="0.54"/><path d="M-0.71,2.84L-1.05,1.69" stroke-opacity="0.6"/><path d="M-0.51,-4.54L-0.18,-3.59" stroke-opacity="0.72"/></g>
</g>
<g transform="translate(38.2,51.5) rotate(0)">
<ellipse cx="0" cy="0" rx="9" ry="7" fill="#000" fill-opacity="0.4" filter="url(#bl3)"/>
<ellipse cx="0" cy="0" rx="5.1" ry="3.4" fill="#000" fill-opacity="0.275" filter="url(#bl1)"/>
<g filter="url(#bl07)"><circle cx="-2.05" cy="0.49" r="2.29" fill="#151515" fill-opacity="0.3"/><circle cx="3.71" cy="1.51" r="1.29" fill="#151515" fill-opacity="0.24"/><circle cx="3.28" cy="1.1" r="2.21" fill="#151515" fill-opacity="0.33"/><circle cx="0.87" cy="3.31" r="2.25" fill="#151515" fill-opacity="0.26"/><circle cx="-0.58" cy="2.57" r="2.37" fill="#151515" fill-opacity="0.39"/><circle cx="2.96" cy="-1.93" r="1.47" fill="#151515" fill-opacity="0.33"/><circle cx="-3.35" cy="1.09" r="1.78" fill="#151515" fill-opacity="0.24"/><circle cx="0.56" cy="-0.28" r="1.61" fill="#151515" fill-opacity="0.27"/><circle cx="1.28" cy="-0.18" r="1.89" fill="#151515" fill-opacity="0.4"/><circle cx="-4.57" cy="-2.57" r="1.67" fill="#151515" fill-opacity="0.29"/></g>
<g filter="url(#bl04)" stroke="#cdcdcd" stroke-width="1.0" fill="none" stroke-linecap="round"><path d="M-1.8,1.27L-2.73,1.76L-1.45,1.36" stroke-opacity="0.73"/><path d="M2.92,0.91L3.48,-0.22L3.41,-1.97" stroke-opacity="0.46"/><path d="M-1.84,1.38L-2.25,0.51L-3.96,0.77" stroke-opacity="0.75"/><path d="M1.72,1.28L1.26,2.49" stroke-opacity="0.46"/><path d="M-1.47,0.59L-0.18,-0.35L-1.52,-0.36" stroke-opacity="0.48"/><path d="M0.23,-0.43L0.47,-1.79L1.81,-1.69" stroke-opacity="0.57"/><path d="M6.21,2.5L5.02,3.83L5.19,5.53" stroke-opacity="0.53"/><path d="M-1.58,1.41L-0.33,0.67" stroke-opacity="0.54"/><path d="M1.35,1.8L0.03,2.67L-1.14,2.7" stroke-opacity="0.57"/></g>
</g>
<g transform="translate(15.1,80.9) rotate(0)">
<ellipse cx="0" cy="0" rx="9" ry="9" fill="#000" fill-opacity="0.4" filter="url(#bl3)"/>
<ellipse cx="0" cy="0" rx="5.1" ry="5.1" fill="#000" fill-opacity="0.3" filter="url(#bl1)"/>
<g filter="url(#bl07)"><circle cx="-3.64" cy="0.55" r="1.68" fill="#151515" fill-opacity="0.43"/><circle cx="7.69" cy="0.82" r="2.04" fill="#151515" fill-opacity="0.4"/><circle cx="0.57" cy="-1.65" r="2.18" fill="#151515" fill-opacity="0.37"/><circle cx="3.12" cy="4.15" r="1.73" fill="#151515" fill-opacity="0.38"/><circle cx="3.4" cy="1.97" r="1.21" fill="#151515" fill-opacity="0.23"/><circle cx="0.63" cy="0.49" r="1.91" fill="#151515" fill-opacity="0.26"/><circle cx="1.57" cy="4.53" r="2.12" fill="#151515" fill-opacity="0.31"/><circle cx="0.97" cy="4.19" r="1.86" fill="#151515" fill-opacity="0.3"/><circle cx="-0.87" cy="2.33" r="1.78" fill="#151515" fill-opacity="0.25"/><circle cx="2.92" cy="0.03" r="1.46" fill="#151515" fill-opacity="0.22"/><circle cx="-0.75" cy="3.83" r="2.2" fill="#151515" fill-opacity="0.22"/><circle cx="0.77" cy="-2.08" r="2.23" fill="#151515" fill-opacity="0.42"/><circle cx="-1.12" cy="3.57" r="1.88" fill="#151515" fill-opacity="0.27"/></g>
<g filter="url(#bl04)" stroke="#cdcdcd" stroke-width="1.0" fill="none" stroke-linecap="round"><path d="M3.87,-0.93L2.96,-1.75" stroke-opacity="0.58"/><path d="M-0.43,-1.61L0.08,-2.58" stroke-opacity="0.49"/><path d="M4.69,3.93L5.56,2.49" stroke-opacity="0.74"/><path d="M-0.02,2.86L1.23,3.22L0.68,1.81" stroke-opacity="0.47"/><path d="M-0.9,-2.18L-0.11,-3.78" stroke-opacity="0.67"/><path d="M1.88,1.54L3,0.38" stroke-opacity="0.56"/><path d="M-0.16,0.32L1.16,-0.3" stroke-opacity="0.63"/><path d="M3.69,6.88L2.35,7.08" stroke-opacity="0.47"/><path d="M-0.18,0.59L-0.2,-0.31L0.83,0.7" stroke-opacity="0.56"/><path d="M-0.07,-1.23L1.44,-1.01" stroke-opacity="0.63"/><path d="M3.64,-0.53L2.79,0.3L1.85,0.15" stroke-opacity="0.54"/></g>
</g>
<g transform="translate(101.3,50.6) rotate(0)">
<ellipse cx="0" cy="0" rx="8" ry="7" fill="#000" fill-opacity="0.25" filter="url(#bl3)"/>
<ellipse cx="0" cy="0" rx="4.25" ry="3.4" fill="#000" fill-opacity="0.2" filter="url(#bl1)"/>
<g filter="url(#bl07)"><circle cx="-1.54" cy="0.73" r="2.21" fill="#151515" fill-opacity="0.21"/><circle cx="-2.71" cy="-0.4" r="1.61" fill="#151515" fill-opacity="0.24"/><circle cx="0.68" cy="-0.4" r="1.87" fill="#151515" fill-opacity="0.18"/><circle cx="-1.7" cy="-2.02" r="1.25" fill="#151515" fill-opacity="0.16"/><circle cx="-4.23" cy="-0.61" r="2.16" fill="#151515" fill-opacity="0.27"/><circle cx="1.32" cy="1.23" r="1.89" fill="#151515" fill-opacity="0.2"/><circle cx="0.6" cy="3.9" r="1.96" fill="#151515" fill-opacity="0.2"/><circle cx="-3.33" cy="0.4" r="2.11" fill="#151515" fill-opacity="0.26"/><circle cx="-2.88" cy="3.93" r="2.12" fill="#151515" fill-opacity="0.18"/></g>
<g filter="url(#bl04)" stroke="#cdcdcd" stroke-width="1.0" fill="none" stroke-linecap="round"><path d="M1.13,1.7L2.46,1.44L3.12,2.9" stroke-opacity="0.62"/><path d="M-2.34,-0.46L-2.43,-1.99L-2.25,-0.91" stroke-opacity="0.56"/><path d="M-2.12,1.79L-2.41,2.6" stroke-opacity="0.54"/><path d="M0.31,-1.05L1.04,-0.25" stroke-opacity="0.66"/><path d="M-1.9,-1.01L-0.25,-1.12L1.46,-1.17" stroke-opacity="0.62"/><path d="M-1.13,0.6L-0.15,-0.44L-1.77,-0.21" stroke-opacity="0.7"/><path d="M3.4,-3.11L4.68,-3.58L5.65,-3.71" stroke-opacity="0.69"/><path d="M-0.56,-0.11L-0.7,1.35" stroke-opacity="0.51"/></g>
</g>
<g transform="translate(12.4,22.2) rotate(0)">
<ellipse cx="0" cy="0" rx="5.5" ry="5.5" fill="#000" fill-opacity="0.3" filter="url(#bl3)"/>
<ellipse cx="0" cy="0" rx="2.12" ry="2.12" fill="#000" fill-opacity="0.15" filter="url(#bl1)"/>
<g filter="url(#bl07)"><circle cx="1.65" cy="0.84" r="2.37" fill="#151515" fill-opacity="0.15"/><circle cx="1.08" cy="-0.39" r="1.95" fill="#151515" fill-opacity="0.22"/><circle cx="0.09" cy="0.3" r="1.41" fill="#151515" fill-opacity="0.11"/><circle cx="-0.52" cy="0.21" r="1.31" fill="#151515" fill-opacity="0.14"/><circle cx="-1.82" cy="1.31" r="1.22" fill="#151515" fill-opacity="0.18"/></g>
<g filter="url(#bl04)" stroke="#cdcdcd" stroke-width="1.0" fill="none" stroke-linecap="round"><path d="M1.54,-1.02L3.29,-1.33" stroke-opacity="0.61"/><path d="M-0.37,-1.18L-1.41,-2.63" stroke-opacity="0.57"/><path d="M1.03,0.27L-0.55,-0.36L-1.57,-1.07" stroke-opacity="0.52"/><path d="M0.04,0.04L-1.16,-0.92" stroke-opacity="0.58"/></g>
</g>
<g filter="url(#bl05)" stroke="#333" stroke-opacity="0.35" stroke-width="2.2" fill="none" stroke-linecap="round"><path d="M80.35,78.49L81.53,79.48L80.45,79.97L81.26,79"/><path d="M82.54,78.06L81.5,76.65L82.56,77.7L80.72,77.91"/><path d="M83.2,78.75L83.58,79.79"/><path d="M80.77,78.03L80.03,78.77L79.37,77.41L81.34,77.72"/><path d="M54.31,26.25L56.24,26.39"/><path d="M54.1,27.53L55.29,28.19L54.52,28.88"/><path d="M66.58,22.76L68.54,23.17"/><path d="M66.21,22.55L67.66,23.48"/><path d="M66.21,20.62L67.54,19.32L66.25,18.7"/><path d="M64.97,22.54L65.05,21.22L63.84,19.85L65.3,20.1"/><path d="M29.41,93.21L27.78,92.1L28.72,91.03"/><path d="M29.86,93.42L30.96,93.93"/><path d="M2.8,89.79L3.76,90.82L5.47,90.07"/><path d="M1.6,90.74L1.58,92.1L3.12,92.86L3.61,94.58"/><path d="M98.58,97.69L99.9,96.65L98.07,95.86"/><path d="M97.59,98.2L97.51,99.93L98.67,100.04"/><path d="M97.97,98.81L98.71,99.38L98.12,98.06L96.98,97.12"/><path d="M90.54,63.55L90.15,65.28L90.86,64.56L89.83,63.56"/><path d="M89.55,64.67L91.06,65.82L92.24,65.43L93.12,64.92"/></g><g filter="url(#bl04)" stroke="#e8e8e8" stroke-opacity="0.85" stroke-width="1.15" fill="none" stroke-linecap="round"><path d="M80.35,78.49L81.53,79.48L80.45,79.97L81.26,79"/><path d="M82.54,78.06L81.5,76.65L82.56,77.7L80.72,77.91"/><path d="M83.2,78.75L83.58,79.79"/><path d="M80.77,78.03L80.03,78.77L79.37,77.41L81.34,77.72"/><path d="M54.31,26.25L56.24,26.39"/><path d="M54.1,27.53L55.29,28.19L54.52,28.88"/><path d="M66.58,22.76L68.54,23.17"/><path d="M66.21,22.55L67.66,23.48"/><path d="M66.21,20.62L67.54,19.32L66.25,18.7"/><path d="M64.97,22.54L65.05,21.22L63.84,19.85L65.3,20.1"/><path d="M29.41,93.21L27.78,92.1L28.72,91.03"/><path d="M29.86,93.42L30.96,93.93"/><path d="M2.8,89.79L3.76,90.82L5.47,90.07"/><path d="M1.6,90.74L1.58,92.1L3.12,92.86L3.61,94.58"/><path d="M98.58,97.69L99.9,96.65L98.07,95.86"/><path d="M97.59,98.2L97.51,99.93L98.67,100.04"/><path d="M97.97,98.81L98.71,99.38L98.12,98.06L96.98,97.12"/><path d="M90.54,63.55L90.15,65.28L90.86,64.56L89.83,63.56"/><path d="M89.55,64.67L91.06,65.82L92.24,65.43L93.12,64.92"/></g>
<g filter="url(#bl03)"><circle cx="106.18" cy="1.28" r="0.78" fill="#ececec" fill-opacity="0.4"/><circle cx="108.5" cy="1.86" r="0.85" fill="#ececec" fill-opacity="0.52"/><circle cx="94.31" cy="109.98" r="0.56" fill="#ececec" fill-opacity="0.44"/><circle cx="77.9" cy="30.86" r="0.57" fill="#ececec" fill-opacity="0.41"/><circle cx="94.36" cy="96.2" r="0.81" fill="#ececec" fill-opacity="0.41"/><circle cx="101.73" cy="56.25" r="0.55" fill="#ececec" fill-opacity="0.47"/><circle cx="46.19" cy="8.69" r="0.7" fill="#ececec" fill-opacity="0.45"/><circle cx="62.66" cy="102.32" r="0.74" fill="#ececec" fill-opacity="0.46"/><circle cx="94.99" cy="109.47" r="0.67" fill="#ececec" fill-opacity="0.59"/><circle cx="2.06" cy="15.43" r="0.53" fill="#ececec" fill-opacity="0.59"/><circle cx="75.95" cy="79.1" r="0.58" fill="#ececec" fill-opacity="0.48"/><circle cx="97.58" cy="10.99" r="0.5" fill="#ececec" fill-opacity="0.37"/><circle cx="51.55" cy="92.45" r="0.7" fill="#ececec" fill-opacity="0.46"/><circle cx="55.23" cy="19.71" r="0.88" fill="#ececec" fill-opacity="0.44"/><circle cx="25.88" cy="34.24" r="0.82" fill="#ececec" fill-opacity="0.44"/><circle cx="99.53" cy="36.98" r="0.65" fill="#ececec" fill-opacity="0.38"/><circle cx="99.82" cy="87.58" r="0.66" fill="#ececec" fill-opacity="0.39"/><circle cx="54.17" cy="41.38" r="0.83" fill="#ececec" fill-opacity="0.58"/><circle cx="81.52" cy="31.59" r="0.47" fill="#ececec" fill-opacity="0.57"/><circle cx="103.89" cy="17.42" r="0.67" fill="#ececec" fill-opacity="0.48"/><circle cx="107.41" cy="4.74" r="0.48" fill="#ececec" fill-opacity="0.56"/><circle cx="62.65" cy="50.85" r="0.8" fill="#ececec" fill-opacity="0.5"/><circle cx="76.17" cy="28.12" r="0.49" fill="#ececec" fill-opacity="0.36"/><circle cx="36.64" cy="71.34" r="0.62" fill="#ececec" fill-opacity="0.44"/><circle cx="68.04" cy="77.57" r="0.72" fill="#ececec" fill-opacity="0.43"/><circle cx="90.39" cy="88.08" r="0.85" fill="#ececec" fill-opacity="0.57"/><circle cx="1.65" cy="73.61" r="0.61" fill="#ececec" fill-opacity="0.45"/><circle cx="56.99" cy="15.83" r="0.56" fill="#ececec" fill-opacity="0.6"/><circle cx="36.41" cy="100.43" r="0.76" fill="#ececec" fill-opacity="0.44"/><circle cx="35.06" cy="66.53" r="0.77" fill="#ececec" fill-opacity="0.44"/><circle cx="6.5" cy="18.94" r="0.84" fill="#ececec" fill-opacity="0.53"/><circle cx="11.91" cy="91.86" r="0.71" fill="#ececec" fill-opacity="0.44"/><circle cx="98.33" cy="14.16" r="0.49" fill="#ececec" fill-opacity="0.44"/><circle cx="81.15" cy="60.25" r="0.67" fill="#ececec" fill-opacity="0.58"/><circle cx="43.33" cy="86.69" r="0.45" fill="#ececec" fill-opacity="0.55"/><circle cx="17.1" cy="72.13" r="0.83" fill="#ececec" fill-opacity="0.52"/><circle cx="63.67" cy="60.5" r="0.79" fill="#ececec" fill-opacity="0.45"/><circle cx="25.69" cy="61.28" r="0.68" fill="#ececec" fill-opacity="0.39"/><circle cx="58.31" cy="51.36" r="0.52" fill="#ececec" fill-opacity="0.53"/><circle cx="85.64" cy="37.26" r="0.84" fill="#ececec" fill-opacity="0.6"/><circle cx="72.84" cy="44.86" r="0.57" fill="#ececec" fill-opacity="0.39"/><circle cx="30.03" cy="109.87" r="0.48" fill="#ececec" fill-opacity="0.58"/><circle cx="76.69" cy="86.23" r="0.49" fill="#ececec" fill-opacity="0.52"/><circle cx="22.57" cy="74.46" r="0.81" fill="#ececec" fill-opacity="0.53"/><circle cx="58.88" cy="97.31" r="0.55" fill="#ececec" fill-opacity="0.4"/><circle cx="95.2" cy="6.13" r="0.64" fill="#ececec" fill-opacity="0.46"/><circle cx="96.49" cy="40.95" r="0.71" fill="#ececec" fill-opacity="0.48"/><circle cx="52.67" cy="52.06" r="0.66" fill="#ececec" fill-opacity="0.5"/><circle cx="47.57" cy="46.54" r="0.87" fill="#ececec" fill-opacity="0.59"/><circle cx="27.18" cy="104.2" r="0.46" fill="#ececec" fill-opacity="0.44"/><circle cx="98.9" cy="18.6" r="0.75" fill="#ececec" fill-opacity="0.6"/><circle cx="67.32" cy="50.55" r="0.46" fill="#ececec" fill-opacity="0.47"/><circle cx="51.03" cy="86.77" r="0.63" fill="#ececec" fill-opacity="0.55"/><circle cx="44.57" cy="69.89" r="0.79" fill="#ececec" fill-opacity="0.4"/><circle cx="104.89" cy="49.51" r="0.67" fill="#ececec" fill-opacity="0.59"/><circle cx="62.83" cy="57.19" r="0.55" fill="#ececec" fill-opacity="0.41"/><circle cx="83.66" cy="55.65" r="0.75" fill="#ececec" fill-opacity="0.53"/><circle cx="75.06" cy="35.57" r="0.84" fill="#ececec" fill-opacity="0.47"/><circle cx="19.35" cy="95.39" r="0.86" fill="#ececec" fill-opacity="0.39"/><circle cx="97.37" cy="75.72" r="0.57" fill="#ececec" fill-opacity="0.5"/><circle cx="101.42" cy="16.7" r="0.75" fill="#ececec" fill-opacity="0.42"/><circle cx="16.43" cy="104.55" r="0.9" fill="#ececec" fill-opacity="0.52"/><circle cx="87.16" cy="43.45" r="0.64" fill="#ececec" fill-opacity="0.51"/><circle cx="89.52" cy="77.09" r="0.66" fill="#ececec" fill-opacity="0.51"/><circle cx="44.3" cy="89.12" r="0.84" fill="#ececec" fill-opacity="0.55"/><circle cx="35.37" cy="41.91" r="0.89" fill="#ececec" fill-opacity="0.45"/><circle cx="73.12" cy="10.61" r="0.51" fill="#ececec" fill-opacity="0.41"/><circle cx="74.02" cy="25.06" r="0.75" fill="#ececec" fill-opacity="0.38"/><circle cx="76.06" cy="77.23" r="0.57" fill="#ececec" fill-opacity="0.42"/><circle cx="27.6" cy="54.32" r="0.53" fill="#ececec" fill-opacity="0.42"/><circle cx="88.48" cy="103.01" r="0.52" fill="#ececec" fill-opacity="0.48"/><circle cx="72.47" cy="104.42" r="0.7" fill="#ececec" fill-opacity="0.49"/><circle cx="84.88" cy="86.75" r="0.77" fill="#ececec" fill-opacity="0.51"/><circle cx="89.24" cy="4.63" r="0.8" fill="#ececec" fill-opacity="0.41"/><circle cx="38.88" cy="43.31" r="0.68" fill="#ececec" fill-opacity="0.5"/><circle cx="64.55" cy="34.83" r="0.61" fill="#ececec" fill-opacity="0.52"/><circle cx="102.44" cy="41.93" r="0.45" fill="#ececec" fill-opacity="0.56"/><circle cx="97.59" cy="92.49" r="0.74" fill="#ececec" fill-opacity="0.46"/><circle cx="7.18" cy="101.28" r="0.65" fill="#ececec" fill-opacity="0.39"/><circle cx="68.74" cy="4.88" r="0.62" fill="#ececec" fill-opacity="0.5"/><circle cx="88.3" cy="39.5" r="0.54" fill="#ececec" fill-opacity="0.44"/><circle cx="90.24" cy="9.99" r="0.51" fill="#ececec" fill-opacity="0.44"/><circle cx="104.73" cy="97.16" r="0.89" fill="#ececec" fill-opacity="0.37"/><circle cx="55.13" cy="15.98" r="0.71" fill="#ececec" fill-opacity="0.55"/><circle cx="53.02" cy="75.91" r="0.76" fill="#ececec" fill-opacity="0.48"/><circle cx="42.88" cy="26.37" r="0.77" fill="#ececec" fill-opacity="0.6"/><circle cx="106.48" cy="101.65" r="0.83" fill="#ececec" fill-opacity="0.52"/><circle cx="54.51" cy="13.28" r="0.81" fill="#ececec" fill-opacity="0.4"/><circle cx="102.36" cy="94.32" r="0.58" fill="#ececec" fill-opacity="0.58"/><circle cx="83.17" cy="89.3" r="0.5" fill="#ececec" fill-opacity="0.43"/></g>
<rect width="110" height="110" filter="url(#lgrain0)" opacity="0.32"/>
<rect width="110" height="110" filter="url(#sgrain0)" opacity="0.1"/>
<text x="40.2" y="11.9" font-size="9.6" style="fill:#fff;font-family:Carlito,'Liberation Sans',sans-serif;" textLength="65.76" lengthAdjust="spacingAndGlyphs" stroke="#fff" stroke-width="0.2">PP-13 10 µmol/L</text>
</svg>
<svg x="543" y="256.9" width="110" height="110" viewBox="0 0 110 110" overflow="hidden">
<rect width="110" height="110" fill="#929292"/>
<rect width="110" height="110" filter="url(#mott1)" opacity="0.1"/>
<rect width="110" height="110" fill="url(#gPp25)"/>
<ellipse cx="6" cy="52" rx="20" ry="18" fill="#000" fill-opacity="0.3" filter="url(#bl6)"/>
<ellipse cx="48" cy="47" rx="15" ry="14" fill="#000" fill-opacity="0.28" filter="url(#bl6)"/>
<ellipse cx="4" cy="8" rx="14" ry="12" fill="#000" fill-opacity="0.2" filter="url(#bl6)"/>
<g transform="translate(6,51.5) rotate(0)">
<ellipse cx="0" cy="0" rx="11" ry="12" fill="#000" fill-opacity="0.6" filter="url(#bl3)"/>
<ellipse cx="0" cy="0" rx="6.8" ry="7.65" fill="#000" fill-opacity="0.425" filter="url(#bl1)"/>
<g filter="url(#bl07)"><circle cx="-3.82" cy="-0.16" r="1.87" fill="#151515" fill-opacity="0.43"/><circle cx="1.04" cy="-1.99" r="1.74" fill="#151515" fill-opacity="0.56"/><circle cx="-5.94" cy="-5.26" r="1.55" fill="#151515" fill-opacity="0.42"/><circle cx="-0.62" cy="1.96" r="1.29" fill="#151515" fill-opacity="0.47"/><circle cx="-1.36" cy="4.92" r="2.35" fill="#151515" fill-opacity="0.64"/><circle cx="0.56" cy="-3.45" r="1.66" fill="#151515" fill-opacity="0.6"/><circle cx="0.65" cy="7.26" r="1.49" fill="#151515" fill-opacity="0.45"/><circle cx="-8.25" cy="-3.5" r="2.08" fill="#151515" fill-opacity="0.58"/><circle cx="-1.88" cy="2.94" r="2.24" fill="#151515" fill-opacity="0.5"/><circle cx="-0.3" cy="-1.75" r="1.27" fill="#151515" fill-opacity="0.44"/><circle cx="-0.96" cy="2.88" r="2.18" fill="#151515" fill-opacity="0.61"/><circle cx="0.26" cy="1.78" r="1.43" fill="#151515" fill-opacity="0.36"/><circle cx="-0.56" cy="-3.79" r="2.37" fill="#151515" fill-opacity="0.3"/><circle cx="-1.81" cy="-0.46" r="2.22" fill="#151515" fill-opacity="0.43"/><circle cx="0.27" cy="5.17" r="2.25" fill="#151515" fill-opacity="0.3"/><circle cx="0.92" cy="8.39" r="1.7" fill="#151515" fill-opacity="0.33"/><circle cx="7.65" cy="-3.97" r="1.71" fill="#151515" fill-opacity="0.36"/><circle cx="5.65" cy="1.08" r="2.13" fill="#151515" fill-opacity="0.55"/><circle cx="-1.17" cy="-3.41" r="1.54" fill="#151515" fill-opacity="0.49"/><circle cx="1.06" cy="-4.25" r="1.82" fill="#151515" fill-opacity="0.43"/><circle cx="3.83" cy="-8.8" r="1.53" fill="#151515" fill-opacity="0.62"/><circle cx="1.36" cy="-3.68" r="1.5" fill="#151515" fill-opacity="0.53"/></g>
<g filter="url(#bl04)" stroke="#cdcdcd" stroke-width="1.0" fill="none" stroke-linecap="round"><path d="M-4.69,-1.45L-5.65,-1.56" stroke-opacity="0.47"/><path d="M1.2,-2.84L0.24,-2.92L-1.2,-2.41" stroke-opacity="0.52"/><path d="M-2.78,-1.64L-1.75,-1.67" stroke-opacity="0.55"/><path d="M-2.45,4.05L-3.68,5.15L-4.91,5.22" stroke-opacity="0.47"/><path d="M4.94,8.19L3.49,8.01L4.67,9.3" stroke-opacity="0.64"/><path d="M-0.96,-8.01L-2.57,-7.35" stroke-opacity="0.48"/><path d="M-1.82,-4.27L-1.45,-3.38" stroke-opacity="0.56"/><path d="M-3.54,1.92L-2.55,3.28" stroke-opacity="0.67"/><path d="M-5.86,1.87L-6.38,3.42L-6.39,2.38" stroke-opacity="0.71"/><path d="M-1.45,-1.92L-2.07,-1.21" stroke-opacity="0.74"/><path d="M0.09,-4.57L-1.21,-4.62" stroke-opacity="0.48"/><path d="M-2.17,-2.97L-1.03,-2.92" stroke-opacity="0.53"/><path d="M-3.1,-1.01L-2.36,-0.04L-1.14,0.37" stroke-opacity="0.55"/><path d="M-1.37,5.75L-1.87,6.5" stroke-opacity="0.49"/><path d="M-5.21,-0.05L-6.41,-0.13L-5.78,-1.13" stroke-opacity="0.47"/><path d="M7.4,-9.98L6.32,-10.3" stroke-opacity="0.66"/><path d="M-0.61,-5.92L0.46,-5.78L-0.6,-6.34" stroke-opacity="0.56"/><path d="M-3.08,-2.7L-3.29,-3.75L-2.75,-4.45" stroke-opacity="0.48"/><path d="M0.84,-4.2L0.91,-2.41L0.61,-3.18" stroke-opacity="0.51"/></g>
</g>
<g transform="translate(45.3,44) rotate(0)">
<ellipse cx="0" cy="0" rx="10" ry="12" fill="#000" fill-opacity="0.6" filter="url(#bl3)"/>
<ellipse cx="0" cy="0" rx="5.95" ry="7.65" fill="#000" fill-opacity="0.425" filter="url(#bl1)"/>
<g filter="url(#bl07)"><circle cx="2.17" cy="3.58" r="1.81" fill="#151515" fill-opacity="0.63"/><circle cx="2.04" cy="-6.4" r="2.02" fill="#151515" fill-opacity="0.35"/><circle cx="2.77" cy="-2.17" r="1.9" fill="#151515" fill-opacity="0.33"/><circle cx="-2.05" cy="7.03" r="1.35" fill="#151515" fill-opacity="0.33"/><circle cx="-1.29" cy="3.23" r="1.79" fill="#151515" fill-opacity="0.46"/><circle cx="0.07" cy="0.21" r="1.63" fill="#151515" fill-opacity="0.4"/><circle cx="-3.79" cy="-1.21" r="2.06" fill="#151515" fill-opacity="0.45"/><circle cx="-3.28" cy="3.75" r="2.29" fill="#151515" fill-opacity="0.52"/><circle cx="2.53" cy="0.55" r="2.36" fill="#151515" fill-opacity="0.63"/><circle cx="-0.63" cy="2.58" r="1.21" fill="#151515" fill-opacity="0.34"/><circle cx="7.77" cy="4.86" r="2.34" fill="#151515" fill-opacity="0.41"/><circle cx="6.68" cy="1.45" r="1.94" fill="#151515" fill-opacity="0.6"/><circle cx="-1.9" cy="7.37" r="2.17" fill="#151515" fill-opacity="0.53"/><circle cx="-2.29" cy="-5.33" r="1.75" fill="#151515" fill-opacity="0.62"/><circle cx="2.52" cy="2.35" r="1.64" fill="#151515" fill-opacity="0.46"/><circle cx="0.64" cy="-1.31" r="1.7" fill="#151515" fill-opacity="0.45"/><circle cx="-3" cy="3.76" r="2.04" fill="#151515" fill-opacity="0.51"/><circle cx="-2.91" cy="-0.12" r="2.39" fill="#151515" fill-opacity="0.57"/><circle cx="-0.65" cy="-1.4" r="1.67" fill="#151515" fill-opacity="0.53"/></g>
<g filter="url(#bl04)" stroke="#cdcdcd" stroke-width="1.0" fill="none" stroke-linecap="round"><path d="M1.26,4.01L-0.18,3.99L-1.18,5.44" stroke-opacity="0.65"/><path d="M1.17,4.29L1.82,3.29" stroke-opacity="0.49"/><path d="M0.01,1.75L-0.6,0.85L0.49,2.17" stroke-opacity="0.51"/><path d="M4.91,-3.78L3.44,-4.71L4.3,-5.02" stroke-opacity="0.66"/><path d="M-1.7,-5.93L-2.56,-4.84L-3.66,-5.84" stroke-opacity="0.7"/><path d="M0.77,-3.22L0.23,-4.91L-0.1,-3.2" stroke-opacity="0.66"/><path d="M3.38,-0.11L4.26,0.12L4.7,1.75" stroke-opacity="0.5"/><path d="M3.38,5.07L4.23,3.54" stroke-opacity="0.59"/><path d="M0.84,-1.05L2.6,-0.75L2.81,-2.26" stroke-opacity="0.46"/><path d="M-0.27,4.92L0.98,6.05" stroke-opacity="0.6"/><path d="M-0.16,-4.79L-0.06,-5.8" stroke-opacity="0.69"/><path d="M-1.68,7.88L-1.51,8.72L-0.56,8.59" stroke-opacity="0.57"/><path d="M6.42,1.46L5.59,0.46" stroke-opacity="0.73"/><path d="M4.53,-3.4L5.46,-3" stroke-opacity="0.74"/><path d="M1.28,6.79L1.48,5.99L1.36,6.86" stroke-opacity="0.74"/><path d="M-0.01,3.6L0.94,3.74L0.35,4.78" stroke-opacity="0.62"/><path d="M2.1,1.13L0.63,1.16" stroke-opacity="0.65"/></g>
</g>
<g filter="url(#bl05)" stroke="#333" stroke-opacity="0.35" stroke-width="2.2" fill="none" stroke-linecap="round"><path d="M4.19,16.91L3.5,17.57"/><path d="M3.23,17.3L4.95,18.28L3.86,18.96"/><path d="M3,17.56L2.49,15.71L3.34,13.94L4.24,14.2"/><path d="M30.27,20.52L28.5,19.94"/><path d="M29.3,19.74L30.1,18.61L31.23,19.91L30.01,20.72"/><path d="M31.49,20.65L30.27,21.96"/><path d="M17.56,37.38L16.07,37.64"/><path d="M15.69,38.3L16.69,38.16L17.59,38.63"/><path d="M16.69,37.98L16.67,39.85"/><path d="M17.62,38.72L16.1,38.75L15.27,40.04"/><path d="M77.49,36.92L76.1,36.88"/><path d="M77.07,38.18L77.77,37.44"/><path d="M78.06,36.75L77.88,38.41L75.96,38.14"/><path d="M79.46,37.72L79.01,36.48L78.55,38.22L77.72,39.01"/><path d="M64.21,17.2L65.75,16.73"/><path d="M61.48,17.73L62.22,17.13"/><path d="M72.49,58.23L70.72,57.5L69.53,58.15L70.49,57.84"/><path d="M71.72,57.21L72.61,56.39L72.85,57.43L72.45,55.69"/><path d="M68.2,56.24L68,54.27L68.79,53.13"/><path d="M100.31,61.77L99.98,60.33"/><path d="M100.93,62.02L102.61,61.92L101.49,62.39"/><path d="M100.34,61.87L100.06,62.98"/><path d="M100.78,61.61L101.23,60.41"/><path d="M46.73,71.6L47.47,70.96L47.79,72.12L48.17,71.11"/><path d="M49.27,71.16L49.68,72.3L48.46,72.96L49.59,71.65"/><path d="M45.61,70.88L46.68,70.54"/><path d="M21.98,80.89L22.5,80.06L22.07,79.25"/><path d="M21.47,81.4L20.85,79.79L20.55,81.28L19.23,81.3"/><path d="M22,81.18L23.1,80.18L22.39,78.69"/><path d="M33.13,86.98L33.38,85.55L34.14,84.42"/><path d="M33.93,87.27L34.11,85.53L33.06,84.98L33.4,83.44"/><path d="M25.3,88.73L25.99,86.98"/><path d="M27.82,89.73L29.09,89.18L29.63,88.41L28.01,88.4"/><path d="M28.01,90.71L27.11,89.35L27.18,88.24L25.33,88.22"/><path d="M94.56,81.95L95.45,80.8L93.72,80.21L92.15,79.62"/><path d="M95.34,80.93L93.89,81.46L93.69,82.99"/><path d="M87.75,97.25L86.26,96.16"/><path d="M85.71,96.25L84.7,95.71L83.51,95.72"/><path d="M86.46,96.42L84.83,96.33"/><path d="M62.84,91.19L63.15,92.89"/><path d="M64.46,91.8L65.79,91.07L66.3,90.04L67.56,88.78"/><path d="M63.04,90.86L62.57,89.48L62.76,88.36L64.22,88.4"/><path d="M64.19,93.73L64.88,92.49"/><path d="M3.44,68.52L2.11,68.49L1,69.59L0.57,70.41"/><path d="M5.04,66.9L4.05,67.62"/><path d="M5.6,68.65L3.89,68.83L2.42,68.25"/><path d="M4.47,66.78L3.39,68.1L3.8,69.34L3.54,68.17"/><path d="M6.81,102.47L7.78,101.31L5.9,101.37L4.79,100.94"/><path d="M6.94,100.67L5.23,100.76L3.85,100.39"/><path d="M73.24,100.98L71.79,102.24"/><path d="M73.82,104.05L72.27,104.68L73.22,105.62"/><path d="M76.11,105.06L74.35,105.08L74,106.06L75.52,106.75"/><path d="M72.49,102.54L73.55,102.17"/><path d="M95.54,82.81L96.56,83.51"/><path d="M96.87,82.77L96.98,81.13L96.16,82.17"/><path d="M94.63,83.98L93.95,83.3L92.05,83.41L93.67,82.77"/><path d="M57.06,26.95L56.04,26.58L56.35,28.23L54.69,27.76"/><path d="M59.39,27.95L60.68,26.95L59.31,26.83L58.64,25.78"/><path d="M88.77,18.64L87.35,19.24"/><path d="M87.36,20.93L85.84,20.66L84.26,19.46"/><path d="M88.22,21.21L90.08,21.66L90.2,20.77"/><path d="M86.87,19.31L86.18,18.54L86.69,19.42L88.27,20.03"/><path d="M103.52,41.01L102.52,40.65"/><path d="M105.77,40.46L107.13,39.46L106.97,38.55"/><path d="M105.37,39.92L103.67,39.29L103.61,37.67L102.84,36.14"/><path d="M103.89,40.2L102.13,39.57L102.29,37.82L100.85,37.86"/><path d="M19.52,61.47L18.72,59.81"/><path d="M18.9,61.2L20.11,62L21.57,63.25L21.82,61.66"/><path d="M18.55,62.31L19.21,63.27L19.22,61.44"/><path d="M42.19,99.53L43.16,98.37"/><path d="M39,99.79L39.8,100.83L41.33,101.64L41.45,100.65"/><path d="M40.37,99.6L41.83,99.21"/><path d="M56.84,79.87L57.47,81.11L57.46,79.57"/><path d="M55.29,80.69L54.34,81.06L54.3,79.92L54.79,79.06"/><path d="M55.75,80.53L55.4,82.4L56.09,81.79"/><path d="M82.2,65.4L82.75,66.25L82.09,64.7L81.44,65.65"/><path d="M81.8,65.64L80.64,65.3L79.03,66.02"/><path d="M101.05,104.54L100.13,104.37L98.16,104.69L98.72,106.45"/><path d="M102.04,103.44L103.44,103.8L103.3,104.74L103.12,103.83"/><path d="M102.23,102.04L102.02,101.01L101.87,99.76L102.06,98.86"/><path d="M101.9,105.16L101.09,103.8L102.3,104.08"/><path d="M13.61,27.23L12.04,26.55L10.83,26.15"/><path d="M13.1,27.22L14.34,25.67L13.3,24.98"/><path d="M13.89,29.77L11.98,29.9"/><path d="M13.56,27.66L13.58,26.11L14.36,27.07L15.92,27.96"/><path d="M67.86,38.75L69.06,39.04L68.64,37.14L67.42,37.24"/><path d="M66.77,40.23L67.95,41.46L69.08,42.55"/></g><g filter="url(#bl04)" stroke="#e8e8e8" stroke-opacity="0.85" stroke-width="1.15" fill="none" stroke-linecap="round"><path d="M4.19,16.91L3.5,17.57"/><path d="M3.23,17.3L4.95,18.28L3.86,18.96"/><path d="M3,17.56L2.49,15.71L3.34,13.94L4.24,14.2"/><path d="M30.27,20.52L28.5,19.94"/><path d="M29.3,19.74L30.1,18.61L31.23,19.91L30.01,20.72"/><path d="M31.49,20.65L30.27,21.96"/><path d="M17.56,37.38L16.07,37.64"/><path d="M15.69,38.3L16.69,38.16L17.59,38.63"/><path d="M16.69,37.98L16.67,39.85"/><path d="M17.62,38.72L16.1,38.75L15.27,40.04"/><path d="M77.49,36.92L76.1,36.88"/><path d="M77.07,38.18L77.77,37.44"/><path d="M78.06,36.75L77.88,38.41L75.96,38.14"/><path d="M79.46,37.72L79.01,36.48L78.55,38.22L77.72,39.01"/><path d="M64.21,17.2L65.75,16.73"/><path d="M61.48,17.73L62.22,17.13"/><path d="M72.49,58.23L70.72,57.5L69.53,58.15L70.49,57.84"/><path d="M71.72,57.21L72.61,56.39L72.85,57.43L72.45,55.69"/><path d="M68.2,56.24L68,54.27L68.79,53.13"/><path d="M100.31,61.77L99.98,60.33"/><path d="M100.93,62.02L102.61,61.92L101.49,62.39"/><path d="M100.34,61.87L100.06,62.98"/><path d="M100.78,61.61L101.23,60.41"/><path d="M46.73,71.6L47.47,70.96L47.79,72.12L48.17,71.11"/><path d="M49.27,71.16L49.68,72.3L48.46,72.96L49.59,71.65"/><path d="M45.61,70.88L46.68,70.54"/><path d="M21.98,80.89L22.5,80.06L22.07,79.25"/><path d="M21.47,81.4L20.85,79.79L20.55,81.28L19.23,81.3"/><path d="M22,81.18L23.1,80.18L22.39,78.69"/><path d="M33.13,86.98L33.38,85.55L34.14,84.42"/><path d="M33.93,87.27L34.11,85.53L33.06,84.98L33.4,83.44"/><path d="M25.3,88.73L25.99,86.98"/><path d="M27.82,89.73L29.09,89.18L29.63,88.41L28.01,88.4"/><path d="M28.01,90.71L27.11,89.35L27.18,88.24L25.33,88.22"/><path d="M94.56,81.95L95.45,80.8L93.72,80.21L92.15,79.62"/><path d="M95.34,80.93L93.89,81.46L93.69,82.99"/><path d="M87.75,97.25L86.26,96.16"/><path d="M85.71,96.25L84.7,95.71L83.51,95.72"/><path d="M86.46,96.42L84.83,96.33"/><path d="M62.84,91.19L63.15,92.89"/><path d="M64.46,91.8L65.79,91.07L66.3,90.04L67.56,88.78"/><path d="M63.04,90.86L62.57,89.48L62.76,88.36L64.22,88.4"/><path d="M64.19,93.73L64.88,92.49"/><path d="M3.44,68.52L2.11,68.49L1,69.59L0.57,70.41"/><path d="M5.04,66.9L4.05,67.62"/><path d="M5.6,68.65L3.89,68.83L2.42,68.25"/><path d="M4.47,66.78L3.39,68.1L3.8,69.34L3.54,68.17"/><path d="M6.81,102.47L7.78,101.31L5.9,101.37L4.79,100.94"/><path d="M6.94,100.67L5.23,100.76L3.85,100.39"/><path d="M73.24,100.98L71.79,102.24"/><path d="M73.82,104.05L72.27,104.68L73.22,105.62"/><path d="M76.11,105.06L74.35,105.08L74,106.06L75.52,106.75"/><path d="M72.49,102.54L73.55,102.17"/><path d="M95.54,82.81L96.56,83.51"/><path d="M96.87,82.77L96.98,81.13L96.16,82.17"/><path d="M94.63,83.98L93.95,83.3L92.05,83.41L93.67,82.77"/><path d="M57.06,26.95L56.04,26.58L56.35,28.23L54.69,27.76"/><path d="M59.39,27.95L60.68,26.95L59.31,26.83L58.64,25.78"/><path d="M88.77,18.64L87.35,19.24"/><path d="M87.36,20.93L85.84,20.66L84.26,19.46"/><path d="M88.22,21.21L90.08,21.66L90.2,20.77"/><path d="M86.87,19.31L86.18,18.54L86.69,19.42L88.27,20.03"/><path d="M103.52,41.01L102.52,40.65"/><path d="M105.77,40.46L107.13,39.46L106.97,38.55"/><path d="M105.37,39.92L103.67,39.29L103.61,37.67L102.84,36.14"/><path d="M103.89,40.2L102.13,39.57L102.29,37.82L100.85,37.86"/><path d="M19.52,61.47L18.72,59.81"/><path d="M18.9,61.2L20.11,62L21.57,63.25L21.82,61.66"/><path d="M18.55,62.31L19.21,63.27L19.22,61.44"/><path d="M42.19,99.53L43.16,98.37"/><path d="M39,99.79L39.8,100.83L41.33,101.64L41.45,100.65"/><path d="M40.37,99.6L41.83,99.21"/><path d="M56.84,79.87L57.47,81.11L57.46,79.57"/><path d="M55.29,80.69L54.34,81.06L54.3,79.92L54.79,79.06"/><path d="M55.75,80.53L55.4,82.4L56.09,81.79"/><path d="M82.2,65.4L82.75,66.25L82.09,64.7L81.44,65.65"/><path d="M81.8,65.64L80.64,65.3L79.03,66.02"/><path d="M101.05,104.54L100.13,104.37L98.16,104.69L98.72,106.45"/><path d="M102.04,103.44L103.44,103.8L103.3,104.74L103.12,103.83"/><path d="M102.23,102.04L102.02,101.01L101.87,99.76L102.06,98.86"/><path d="M101.9,105.16L101.09,103.8L102.3,104.08"/><path d="M13.61,27.23L12.04,26.55L10.83,26.15"/><path d="M13.1,27.22L14.34,25.67L13.3,24.98"/><path d="M13.89,29.77L11.98,29.9"/><path d="M13.56,27.66L13.58,26.11L14.36,27.07L15.92,27.96"/><path d="M67.86,38.75L69.06,39.04L68.64,37.14L67.42,37.24"/><path d="M66.77,40.23L67.95,41.46L69.08,42.55"/></g>
<g transform="translate(87,96.9) rotate(0)">
<ellipse cx="0" cy="0" rx="6" ry="6" fill="#000" fill-opacity="0.2" filter="url(#bl3)"/>
<ellipse cx="0" cy="0" rx="2.55" ry="2.55" fill="#000" fill-opacity="0.175" filter="url(#bl1)"/>
<g filter="url(#bl07)"><circle cx="-0.33" cy="-2.87" r="1.24" fill="#151515" fill-opacity="0.12"/><circle cx="1.14" cy="-0.05" r="1.44" fill="#151515" fill-opacity="0.19"/><circle cx="-2.03" cy="-0.68" r="1.93" fill="#151515" fill-opacity="0.2"/><circle cx="0.04" cy="-1.01" r="1.76" fill="#151515" fill-opacity="0.25"/><circle cx="-0.27" cy="-1.75" r="1.35" fill="#151515" fill-opacity="0.25"/><circle cx="2.29" cy="0.65" r="1.38" fill="#151515" fill-opacity="0.19"/></g>
<g filter="url(#bl04)" stroke="#cdcdcd" stroke-width="1.0" fill="none" stroke-linecap="round"><path d="M-0.65,-1.56L-0.56,0.14" stroke-opacity="0.49"/><path d="M-0.31,-1.04L-1.53,-1.39" stroke-opacity="0.46"/><path d="M0.32,-4.12L1.7,-3.91L0.73,-5.28" stroke-opacity="0.63"/><path d="M0.71,-0.36L0.22,0.7" stroke-opacity="0.54"/><path d="M2.73,-0.74L1.53,-0.11L0.66,-1.25" stroke-opacity="0.71"/></g>
</g>
<g transform="translate(94.2,81.7) rotate(0)">
<ellipse cx="0" cy="0" rx="6" ry="5" fill="#000" fill-opacity="0.2" filter="url(#bl3)"/>
<ellipse cx="0" cy="0" rx="2.55" ry="1.7" fill="#000" fill-opacity="0.15" filter="url(#bl1)"/>
<g filter="url(#bl07)"><circle cx="0.56" cy="1.14" r="1.33" fill="#151515" fill-opacity="0.21"/><circle cx="0.52" cy="0.9" r="2.13" fill="#151515" fill-opacity="0.21"/><circle cx="-1.71" cy="-0.65" r="1.84" fill="#151515" fill-opacity="0.21"/><circle cx="0.31" cy="1.3" r="1.92" fill="#151515" fill-opacity="0.16"/><circle cx="-0.12" cy="0.04" r="1.87" fill="#151515" fill-opacity="0.16"/></g>
<g filter="url(#bl04)" stroke="#cdcdcd" stroke-width="1.0" fill="none" stroke-linecap="round"><path d="M-1.1,-0.68L-1.68,-2L-1.45,-0.81" stroke-opacity="0.73"/><path d="M-0.48,0.44L-1.67,-0.08L-0.48,-0.72" stroke-opacity="0.46"/><path d="M1.36,-1.11L2.21,-0.79" stroke-opacity="0.5"/><path d="M0.67,0.85L1.68,0.58" stroke-opacity="0.65"/></g>
</g>
<g filter="url(#bl03)"><circle cx="39.77" cy="52.85" r="0.64" fill="#ececec" fill-opacity="0.47"/><circle cx="45.05" cy="72.35" r="0.57" fill="#ececec" fill-opacity="0.51"/><circle cx="1.11" cy="33.22" r="0.6" fill="#ececec" fill-opacity="0.39"/><circle cx="81.78" cy="34.11" r="0.81" fill="#ececec" fill-opacity="0.59"/><circle cx="27.89" cy="98.29" r="0.81" fill="#ececec" fill-opacity="0.52"/><circle cx="3.01" cy="50.25" r="0.73" fill="#ececec" fill-opacity="0.43"/><circle cx="24.68" cy="34.08" r="0.57" fill="#ececec" fill-opacity="0.55"/><circle cx="38.26" cy="46.54" r="0.74" fill="#ececec" fill-opacity="0.59"/><circle cx="32.23" cy="4.84" r="0.89" fill="#ececec" fill-opacity="0.56"/><circle cx="86.94" cy="57.57" r="0.56" fill="#ececec" fill-opacity="0.4"/><circle cx="33.47" cy="50.7" r="0.48" fill="#ececec" fill-opacity="0.53"/><circle cx="80.07" cy="1.44" r="0.83" fill="#ececec" fill-opacity="0.48"/><circle cx="101.06" cy="52.26" r="0.81" fill="#ececec" fill-opacity="0.47"/><circle cx="67.43" cy="54.92" r="0.46" fill="#ececec" fill-opacity="0.39"/><circle cx="25.55" cy="44.68" r="0.62" fill="#ececec" fill-opacity="0.49"/><circle cx="72.53" cy="44" r="0.59" fill="#ececec" fill-opacity="0.48"/><circle cx="104.8" cy="86.11" r="0.74" fill="#ececec" fill-opacity="0.56"/><circle cx="25.06" cy="11.1" r="0.49" fill="#ececec" fill-opacity="0.39"/><circle cx="1.01" cy="68.81" r="0.86" fill="#ececec" fill-opacity="0.39"/><circle cx="75.55" cy="103.46" r="0.79" fill="#ececec" fill-opacity="0.4"/><circle cx="70.22" cy="28.1" r="0.53" fill="#ececec" fill-opacity="0.36"/><circle cx="57.79" cy="101.09" r="0.5" fill="#ececec" fill-opacity="0.4"/><circle cx="42.72" cy="4.24" r="0.66" fill="#ececec" fill-opacity="0.54"/><circle cx="50.68" cy="4.29" r="0.46" fill="#ececec" fill-opacity="0.41"/><circle cx="73.39" cy="101.74" r="0.68" fill="#ececec" fill-opacity="0.38"/><circle cx="23.75" cy="45.75" r="0.5" fill="#ececec" fill-opacity="0.39"/><circle cx="47.74" cy="92.46" r="0.56" fill="#ececec" fill-opacity="0.57"/><circle cx="96.37" cy="47.61" r="0.55" fill="#ececec" fill-opacity="0.4"/><circle cx="73.42" cy="90.83" r="0.84" fill="#ececec" fill-opacity="0.41"/><circle cx="46.93" cy="2.42" r="0.59" fill="#ececec" fill-opacity="0.43"/><circle cx="13.61" cy="8.38" r="0.9" fill="#ececec" fill-opacity="0.43"/><circle cx="54.89" cy="58.78" r="0.66" fill="#ececec" fill-opacity="0.5"/><circle cx="55.27" cy="53.93" r="0.49" fill="#ececec" fill-opacity="0.51"/><circle cx="73.56" cy="79.64" r="0.59" fill="#ececec" fill-opacity="0.47"/><circle cx="88.69" cy="80.07" r="0.47" fill="#ececec" fill-opacity="0.44"/><circle cx="18.86" cy="78.2" r="0.63" fill="#ececec" fill-opacity="0.45"/><circle cx="24.53" cy="49.95" r="0.77" fill="#ececec" fill-opacity="0.51"/><circle cx="24.38" cy="43.47" r="0.73" fill="#ececec" fill-opacity="0.37"/><circle cx="99.26" cy="2.52" r="0.73" fill="#ececec" fill-opacity="0.4"/><circle cx="105.19" cy="76.1" r="0.55" fill="#ececec" fill-opacity="0.48"/><circle cx="93" cy="93.95" r="0.75" fill="#ececec" fill-opacity="0.51"/><circle cx="81.66" cy="100.71" r="0.68" fill="#ececec" fill-opacity="0.51"/><circle cx="87.81" cy="56.18" r="0.55" fill="#ececec" fill-opacity="0.5"/><circle cx="38.43" cy="78.56" r="0.79" fill="#ececec" fill-opacity="0.58"/><circle cx="11.96" cy="2.47" r="0.87" fill="#ececec" fill-opacity="0.54"/><circle cx="109.72" cy="89.52" r="0.88" fill="#ececec" fill-opacity="0.4"/><circle cx="20.44" cy="67.42" r="0.79" fill="#ececec" fill-opacity="0.39"/><circle cx="104.3" cy="25.28" r="0.54" fill="#ececec" fill-opacity="0.46"/><circle cx="20.03" cy="9.88" r="0.49" fill="#ececec" fill-opacity="0.37"/><circle cx="16.56" cy="74.73" r="0.8" fill="#ececec" fill-opacity="0.55"/><circle cx="45.92" cy="82.82" r="0.5" fill="#ececec" fill-opacity="0.57"/><circle cx="45.1" cy="13.51" r="0.62" fill="#ececec" fill-opacity="0.41"/><circle cx="81.73" cy="41.17" r="0.46" fill="#ececec" fill-opacity="0.41"/><circle cx="8.81" cy="104.67" r="0.64" fill="#ececec" fill-opacity="0.55"/><circle cx="65.29" cy="45.36" r="0.78" fill="#ececec" fill-opacity="0.49"/><circle cx="4.79" cy="109.35" r="0.61" fill="#ececec" fill-opacity="0.52"/><circle cx="45.86" cy="105.86" r="0.53" fill="#ececec" fill-opacity="0.37"/><circle cx="4.68" cy="44.01" r="0.83" fill="#ececec" fill-opacity="0.47"/><circle cx="102.44" cy="15.74" r="0.88" fill="#ececec" fill-opacity="0.4"/><circle cx="97.25" cy="21.45" r="0.71" fill="#ececec" fill-opacity="0.51"/><circle cx="106.83" cy="45.32" r="0.83" fill="#ececec" fill-opacity="0.37"/><circle cx="98.91" cy="57.04" r="0.69" fill="#ececec" fill-opacity="0.59"/><circle cx="34.52" cy="67.57" r="0.71" fill="#ececec" fill-opacity="0.43"/><circle cx="16.13" cy="47.22" r="0.58" fill="#ececec" fill-opacity="0.51"/><circle cx="44.94" cy="9.06" r="0.76" fill="#ececec" fill-opacity="0.58"/><circle cx="67.86" cy="32.75" r="0.59" fill="#ececec" fill-opacity="0.59"/><circle cx="48.86" cy="79.73" r="0.48" fill="#ececec" fill-opacity="0.56"/><circle cx="98.29" cy="28.68" r="0.59" fill="#ececec" fill-opacity="0.52"/><circle cx="104.82" cy="86.47" r="0.46" fill="#ececec" fill-opacity="0.39"/><circle cx="97.75" cy="44.2" r="0.88" fill="#ececec" fill-opacity="0.47"/><circle cx="91.87" cy="24.02" r="0.88" fill="#ececec" fill-opacity="0.47"/><circle cx="0.45" cy="21.76" r="0.49" fill="#ececec" fill-opacity="0.46"/><circle cx="105.3" cy="106.81" r="0.87" fill="#ececec" fill-opacity="0.46"/><circle cx="84.62" cy="81.74" r="0.82" fill="#ececec" fill-opacity="0.59"/><circle cx="91.61" cy="84.09" r="0.59" fill="#ececec" fill-opacity="0.4"/><circle cx="45.98" cy="31.98" r="0.79" fill="#ececec" fill-opacity="0.4"/><circle cx="22.29" cy="80.4" r="0.47" fill="#ececec" fill-opacity="0.38"/><circle cx="0.05" cy="2.16" r="0.49" fill="#ececec" fill-opacity="0.54"/><circle cx="29.58" cy="11.74" r="0.67" fill="#ececec" fill-opacity="0.45"/><circle cx="0.39" cy="7.24" r="0.56" fill="#ececec" fill-opacity="0.46"/><circle cx="12.99" cy="46.14" r="0.67" fill="#ececec" fill-opacity="0.58"/><circle cx="66.99" cy="33.52" r="0.55" fill="#ececec" fill-opacity="0.4"/><circle cx="42.59" cy="104.95" r="0.89" fill="#ececec" fill-opacity="0.4"/><circle cx="70.94" cy="84.02" r="0.87" fill="#ececec" fill-opacity="0.54"/><circle cx="69.66" cy="9.99" r="0.57" fill="#ececec" fill-opacity="0.59"/><circle cx="100.16" cy="97.36" r="0.6" fill="#ececec" fill-opacity="0.55"/><circle cx="86.68" cy="43.56" r="0.6" fill="#ececec" fill-opacity="0.47"/><circle cx="59.19" cy="2.1" r="0.46" fill="#ececec" fill-opacity="0.6"/><circle cx="44.75" cy="45.1" r="0.72" fill="#ececec" fill-opacity="0.49"/><circle cx="76.76" cy="58.54" r="0.46" fill="#ececec" fill-opacity="0.37"/></g>
<rect width="110" height="110" filter="url(#lgrain1)" opacity="0.32"/>
<rect width="110" height="110" filter="url(#sgrain1)" opacity="0.1"/>
<text x="42.79" y="11.9" font-size="9.6" style="fill:#fff;font-family:Carlito,'Liberation Sans',sans-serif;" textLength="65.86" lengthAdjust="spacingAndGlyphs" stroke="#fff" stroke-width="0.2">PP-13 25 µmol/L</text>
</svg>
<text x="432.37" y="126.8" font-size="15.5" font-weight="bold" style="fill:#fff;font-family:Carlito,'Liberation Sans',sans-serif;" textLength="25.18" lengthAdjust="spacingAndGlyphs" >400</text>
<text x="457.12" y="126.8" font-size="10.5" font-weight="bold" style="fill:#fff;font-family:Carlito,'Liberation Sans',sans-serif;" textLength="13.31" lengthAdjust="spacingAndGlyphs" >nm</text>
<rect x="431.6" y="130.1" width="42.5" height="1.4" fill="#fff"/>
</g>
<g id="C">
<path d="M38.5,582.61 L40,583.34 L41.51,583.15 L43.01,583.28 L44.52,582.41 L46.02,583.65 L47.52,581.87 L49.03,582.74 L50.53,582.06 L52.04,582 L53.54,580.93 L55.04,581.96 L56.55,580.69 L58.05,579.83 L59.56,578.09 L61.06,577.88 L62.56,576.27 L64.07,575.22 L65.57,573.57 L67.08,572.31 L68.58,572.03 L70.08,570.26 L71.59,569.81 L73.09,569.64 L74.6,569.23 L76.1,569.78 L77.6,569.82 L79.11,570.82 L80.61,571.33 L82.12,572.05 L83.62,573.81 L85.12,574.79 L86.63,576.01 L88.13,577.13 L89.64,577.98 L91.14,578.41 L92.64,579.39 L94.15,579.33 L95.65,579.15 L97.16,579.8 L98.66,580.25 L100.16,580.5 L101.67,580.35 L103.17,579.21 L104.68,579.74 L106.18,579.88 L107.68,579.41 L109.19,578.49 L110.69,579.16 L112.2,578.8 L113.7,578.76 L115.2,578.86 L116.71,579.03 L118.21,578.56 L119.72,578.38 L121.22,577.95 L122.72,577.79 L124.23,577.73 L125.73,578 L127.24,577.78 L128.74,578.49 L130.24,577.71 L131.75,578.07 L133.25,578.46 L134.76,578.2 L136.26,578.49 L137.76,578.05 L139.27,577.97 L140.77,577.79 L142.28,579.37 L143.78,579.48 L145.28,579.18 L146.79,578.98 L148.29,578.75 L149.8,579.01 L151.3,580 L152.8,579.31 L154.31,578.86 L155.81,579.12 L157.32,578.92 L158.82,579.34 L160.32,579.34 L161.83,579.19 L163.33,579.11 L164.84,579.2 L166.34,579.24 L167.84,579.58 L169.35,579.15 L170.85,579.26 L172.36,578.85 L173.86,578.83 L175.36,579.25 L176.87,579.49 L178.37,579.6 L179.88,579.17 L181.38,579.32 L182.88,579.5 L184.39,579.35 L185.89,579.63 L187.4,579.1 L188.9,579.58 L190.4,578.9 L191.91,579.25 L193.41,579.19 L194.92,579.9 L196.42,579.4 L197.92,579.18 L199.43,579.91 L200.93,579.67 L202.44,579.59 L203.94,580.23 L205.44,579.6 L206.95,579.46 L208.45,580.24 L209.96,579.83 L211.46,580.6 L212.96,580.15 L214.47,580.88 L215.97,579.83 L217.48,580.19 L218.98,580.43 L220.48,580.8 L221.99,579.99 L223.49,579.74 L225,581.36 L226.5,580.1 L228,579.97 L229.51,580.52 L231.01,581.18 L232.52,580.35 L234.02,580.8 L235.52,581 L237.03,581.28 L238.53,580.57 L240.04,580.5 L241.54,581.12 L243.04,580.69 L244.55,581.42 L246.05,580.65 L247.56,581.01 L249.06,581.16 L250.56,581.17 L252.07,580.83 L253.57,580.94 L255.08,581.1 L256.58,581.33 L258.08,581.44 L259.59,581.3 L261.09,581.56 L262.6,581.51 L264.1,582.07 L265.6,583.12 L267.11,581.87 L268.61,581.6 L270.12,582.53 L271.62,582.97" stroke="#2ec82e" stroke-width="2.6" stroke-opacity="1.0" fill="none" stroke-linejoin="round"/>
<path d="M38.5,583.42 L40,583.1 L41.51,583.67 L43.01,582.27 L44.52,583.38 L46.02,582.98 L47.52,582.42 L49.03,582.85 L50.53,582.56 L52.04,582.21 L53.54,581.34 L55.04,580.32 L56.55,580.55 L58.05,580.06 L59.56,578.38 L61.06,577.63 L62.56,576.21 L64.07,574.46 L65.57,573.85 L67.08,572.54 L68.58,571.87 L70.08,570.79 L71.59,570.1 L73.09,570.19 L74.6,569.71 L76.1,569.58 L77.6,569.99 L79.11,570.84 L80.61,571.71 L82.12,572.32 L83.62,573.62 L85.12,573.85 L86.63,576.56 L88.13,576.74 L89.64,577.57 L91.14,577.93 L92.64,578.76 L94.15,579.72 L95.65,579.84 L97.16,579.92 L98.66,580.28 L100.16,579.87 L101.67,580.68 L103.17,579.31 L104.68,579.26 L106.18,579.73 L107.68,579.28 L109.19,579.34 L110.69,579.5 L112.2,579.02 L113.7,578.54 L115.2,578.85 L116.71,578.69 L118.21,578.44 L119.72,578.14 L121.22,577.75 L122.72,578.35 L124.23,577.93 L125.73,578.04 L127.24,578.78 L128.74,578.32 L130.24,578.27 L131.75,578.29 L133.25,578.23 L134.76,579.1 L136.26,578.44 L137.76,578.75 L139.27,579.1 L140.77,578.51 L142.28,578.53 L143.78,579.11 L145.28,578.68 L146.79,579.18 L148.29,579.09 L149.8,579.52 L151.3,578.62 L152.8,580.1 L154.31,579.23 L155.81,578.98 L157.32,579.93 L158.82,579.31 L160.32,579.28 L161.83,578.98 L163.33,578.85 L164.84,579.42 L166.34,579.77 L167.84,578.83 L169.35,578.89 L170.85,579.47 L172.36,579.2 L173.86,579.19 L175.36,579.13 L176.87,579.26 L178.37,578.86 L179.88,579.95 L181.38,578.99 L182.88,579.23 L184.39,579.44 L185.89,578.97 L187.4,580.19 L188.9,579 L190.4,579.28 L191.91,579.81 L193.41,579.29 L194.92,579.56 L196.42,578.58 L197.92,578.86 L199.43,579.36 L200.93,579.8 L202.44,579.81 L203.94,579.78 L205.44,579.93 L206.95,580.12 L208.45,580.09 L209.96,580.07 L211.46,580.23 L212.96,580.38 L214.47,580.54 L215.97,579.41 L217.48,580.87 L218.98,580.78 L220.48,580.33 L221.99,580.63 L223.49,580.41 L225,580.31 L226.5,580.18 L228,580.38 L229.51,581 L231.01,580.3 L232.52,581.31 L234.02,580.77 L235.52,580.92 L237.03,581.14 L238.53,580.6 L240.04,580.89 L241.54,580.51 L243.04,581.41 L244.55,580.65 L246.05,580.81 L247.56,580.99 L249.06,581.57 L250.56,581.22 L252.07,581.72 L253.57,581.97 L255.08,580.19 L256.58,581.06 L258.08,580.85 L259.59,581.7 L261.09,581.42 L262.6,581.55 L264.1,581.73 L265.6,582.11 L267.11,582.38 L268.61,583.22 L270.12,582.51 L271.62,582.79" stroke="#000" stroke-width="0.9" stroke-opacity="1.0" fill="none" stroke-linejoin="round"/>
<path d="M38.5,576.9 L40,578.15 L41.51,578.1 L43.01,579.39 L44.52,577.33 L46.02,577.28 L47.52,577.1 L49.03,576.11 L50.53,575.52 L52.04,575.88 L53.54,574.93 L55.04,573.39 L56.55,570.76 L58.05,568.58 L59.56,567.29 L61.06,564.41 L62.56,559.92 L64.07,555.47 L65.57,552.3 L67.08,548.36 L68.58,542.91 L70.08,539.72 L71.59,534.76 L73.09,529.95 L74.6,526.46 L76.1,522.94 L77.6,518.84 L79.11,516.32 L80.61,512.63 L82.12,509.56 L83.62,505.91 L85.12,502.49 L86.63,498.66 L88.13,495.69 L89.64,492.98 L91.14,490.98 L92.64,488.85 L94.15,485.85 L95.65,485.19 L97.16,480.24 L98.66,478.24 L100.16,476.02 L101.67,472.54 L103.17,469.68 L104.68,466.36 L106.18,465.16 L107.68,461.66 L109.19,459.18 L110.69,457.81 L112.2,454.68 L113.7,450.31 L115.2,446.48 L116.71,442.23 L118.21,438.92 L119.72,436.05 L121.22,433.43 L122.72,430.74 L124.23,431.96 L125.73,431.66 L127.24,431.63 L128.74,433.48 L130.24,432.14 L131.75,434.78 L133.25,437.32 L134.76,439.45 L136.26,445.02 L137.76,446.62 L139.27,446.5 L140.77,449.68 L142.28,451.08 L143.78,452.66 L145.28,455.16 L146.79,457.66 L148.29,460.82 L149.8,463.15 L151.3,465.81 L152.8,468.2 L154.31,471.02 L155.81,472.89 L157.32,475.59 L158.82,475.78 L160.32,479.53 L161.83,479.71 L163.33,481.07 L164.84,485.11 L166.34,486.85 L167.84,488.64 L169.35,489.64 L170.85,492.73 L172.36,494.25 L173.86,496.71 L175.36,499.19 L176.87,501.02 L178.37,505.13 L179.88,506.14 L181.38,507.31 L182.88,507.98 L184.39,510.4 L185.89,509.71 L187.4,511.23 L188.9,512.19 L190.4,514.2 L191.91,516.97 L193.41,517.99 L194.92,518.78 L196.42,521.19 L197.92,523.18 L199.43,523.89 L200.93,525.61 L202.44,529.29 L203.94,530.27 L205.44,535.4 L206.95,537.86 L208.45,538.15 L209.96,541.02 L211.46,542.26 L212.96,544.01 L214.47,546.05 L215.97,547.06 L217.48,548.89 L218.98,551.45 L220.48,551.59 L221.99,552.9 L223.49,553.01 L225,556.27 L226.5,556.67 L228,558.12 L229.51,559.01 L231.01,558.81 L232.52,560.65 L234.02,562.1 L235.52,562.46 L237.03,562.76 L238.53,564.64 L240.04,564.77 L241.54,564.11 L243.04,565.15 L244.55,566.3 L246.05,567.11 L247.56,567.39 L249.06,568.82 L250.56,567.53 L252.07,568.36 L253.57,568.91 L255.08,570.3 L256.58,570.3 L258.08,569.87 L259.59,570.49 L261.09,571.46 L262.6,571.22 L264.1,571.39 L265.6,572.96 L267.11,573.34 L268.61,574.05 L270.12,574.73 L271.62,573.87" stroke="#1a1f8a" stroke-width="1.4" stroke-opacity="1.0" fill="none" stroke-linejoin="round"/>
<path d="M38.5,577.13 L40,576.85 L41.51,578.15 L43.01,576.47 L44.52,575.7 L46.02,576.65 L47.52,575.54 L49.03,575.31 L50.53,574.95 L52.04,574.55 L53.54,573.33 L55.04,571.72 L56.55,572.02 L58.05,568.19 L59.56,566.38 L61.06,563.47 L62.56,561.71 L64.07,556.68 L65.57,551.12 L67.08,548.78 L68.58,545.23 L70.08,540.82 L71.59,534.82 L73.09,528.78 L74.6,525.77 L76.1,521.43 L77.6,519.06 L79.11,514.33 L80.61,512.3 L82.12,508.2 L83.62,505.76 L85.12,502.94 L86.63,499.44 L88.13,497.2 L89.64,493.07 L91.14,491.57 L92.64,489.06 L94.15,487.52 L95.65,484.12 L97.16,483.87 L98.66,480.69 L100.16,479.47 L101.67,477.77 L103.17,475.11 L104.68,473 L106.18,469.97 L107.68,467.24 L109.19,463.44 L110.69,459.91 L112.2,457.47 L113.7,454.9 L115.2,452.56 L116.71,451.43 L118.21,448.65 L119.72,446.85 L121.22,445.51 L122.72,441.57 L124.23,441.02 L125.73,440.69 L127.24,440.66 L128.74,441.18 L130.24,442.61 L131.75,442.67 L133.25,446.15 L134.76,448.38 L136.26,451.8 L137.76,453.42 L139.27,458.71 L140.77,461.06 L142.28,464.12 L143.78,467.01 L145.28,470.38 L146.79,474.4 L148.29,476.4 L149.8,479.29 L151.3,479.15 L152.8,484.02 L154.31,483.59 L155.81,486.65 L157.32,488.41 L158.82,488.15 L160.32,490.39 L161.83,495.45 L163.33,495.97 L164.84,497.73 L166.34,501.41 L167.84,501.56 L169.35,503.12 L170.85,505.15 L172.36,508.85 L173.86,507.84 L175.36,510.07 L176.87,511.68 L178.37,513.52 L179.88,513.43 L181.38,514.4 L182.88,516.75 L184.39,517.44 L185.89,518.06 L187.4,521.8 L188.9,521.42 L190.4,524.61 L191.91,525.24 L193.41,525.56 L194.92,527.64 L196.42,529.45 L197.92,530.99 L199.43,531.67 L200.93,533.59 L202.44,536.79 L203.94,537.82 L205.44,540.45 L206.95,539.9 L208.45,544.43 L209.96,545.74 L211.46,547.25 L212.96,548.71 L214.47,549.52 L215.97,550.65 L217.48,553.46 L218.98,553.69 L220.48,555.42 L221.99,554.28 L223.49,554.24 L225,556.18 L226.5,558.05 L228,558.41 L229.51,560.07 L231.01,559.66 L232.52,561.34 L234.02,562.9 L235.52,564.41 L237.03,564.68 L238.53,564.52 L240.04,566.47 L241.54,566.21 L243.04,565.44 L244.55,567.13 L246.05,565.98 L247.56,566.98 L249.06,568.98 L250.56,570.4 L252.07,569.74 L253.57,570.58 L255.08,570.29 L256.58,569.67 L258.08,572.48 L259.59,572.29 L261.09,572.11 L262.6,571.86 L264.1,572.83 L265.6,573.34 L267.11,572.96 L268.61,574.11 L270.12,575.15 L271.62,575.3" stroke="#2236b0" stroke-width="1.3" stroke-opacity="1.0" fill="none" stroke-linejoin="round"/>
<path d="M38.5,577.94 L40,577.42 L41.51,577.62 L43.01,576.38 L44.52,576.48 L46.02,576.35 L47.52,576.93 L49.03,575.66 L50.53,574.96 L52.04,574.7 L53.54,572.83 L55.04,570.7 L56.55,570.14 L58.05,567.51 L59.56,563.94 L61.06,562.34 L62.56,557.91 L64.07,555.85 L65.57,550.7 L67.08,544.95 L68.58,541.26 L70.08,537.56 L71.59,532.52 L73.09,528.79 L74.6,524.65 L76.1,521.59 L77.6,517.41 L79.11,513.73 L80.61,511.01 L82.12,509.09 L83.62,504.2 L85.12,498.99 L86.63,500.53 L88.13,496.31 L89.64,493.16 L91.14,490.31 L92.64,487.28 L94.15,485.23 L95.65,483 L97.16,480.95 L98.66,480.68 L100.16,478 L101.67,476.13 L103.17,473 L104.68,471.25 L106.18,469.09 L107.68,463.59 L109.19,462.03 L110.69,459.17 L112.2,455.04 L113.7,454.51 L115.2,451.92 L116.71,450.29 L118.21,449.68 L119.72,448.53 L121.22,444.27 L122.72,442.76 L124.23,441.12 L125.73,439.01 L127.24,440.61 L128.74,439.27 L130.24,443.54 L131.75,446.04 L133.25,446.15 L134.76,448.59 L136.26,450.52 L137.76,455.46 L139.27,458.61 L140.77,461.74 L142.28,462.77 L143.78,469.81 L145.28,471.5 L146.79,475.16 L148.29,478.76 L149.8,480.3 L151.3,481.47 L152.8,483.71 L154.31,484.44 L155.81,485.65 L157.32,487.67 L158.82,490.84 L160.32,492.68 L161.83,494.37 L163.33,495.59 L164.84,498.09 L166.34,499.12 L167.84,501.69 L169.35,505.41 L170.85,505.03 L172.36,508.23 L173.86,508.8 L175.36,510.71 L176.87,511.21 L178.37,513.19 L179.88,514.27 L181.38,516.96 L182.88,515.52 L184.39,517.89 L185.89,519.55 L187.4,519.48 L188.9,521.53 L190.4,523.27 L191.91,524.57 L193.41,526.46 L194.92,529.01 L196.42,530.8 L197.92,530.55 L199.43,532.15 L200.93,534.45 L202.44,536.6 L203.94,538.01 L205.44,539.81 L206.95,542.34 L208.45,543.61 L209.96,545.32 L211.46,547.97 L212.96,548.16 L214.47,551.03 L215.97,553.31 L217.48,551.94 L218.98,553.98 L220.48,553.04 L221.99,556.83 L223.49,555.96 L225,557.97 L226.5,558.5 L228,560.61 L229.51,558.5 L231.01,561.66 L232.52,560.49 L234.02,563.07 L235.52,564.77 L237.03,565.09 L238.53,563.91 L240.04,566.16 L241.54,566.18 L243.04,565.62 L244.55,566.44 L246.05,568.78 L247.56,568.68 L249.06,567.59 L250.56,569.89 L252.07,569.06 L253.57,570.17 L255.08,571.87 L256.58,570.98 L258.08,572.2 L259.59,572.03 L261.09,573.25 L262.6,572.45 L264.1,573.49 L265.6,573.08 L267.11,575.22 L268.61,574.85 L270.12,574.19 L271.62,574.45" stroke="#2424d8" stroke-width="1.3" stroke-opacity="1.0" fill="none" stroke-linejoin="round"/>
<path d="M38.5,578.28 L40,576.6 L41.51,578.55 L43.01,577.69 L44.52,578.23 L46.02,573.98 L47.52,574.31 L49.03,573.54 L50.53,574.32 L52.04,573.62 L53.54,574.8 L55.04,571.22 L56.55,572.34 L58.05,569.88 L59.56,567.17 L61.06,564.82 L62.56,560.34 L64.07,557.42 L65.57,552.9 L67.08,548.48 L68.58,542.78 L70.08,540.26 L71.59,535.63 L73.09,530.88 L74.6,528.56 L76.1,523.66 L77.6,519.05 L79.11,514.89 L80.61,512.27 L82.12,509.63 L83.62,504.6 L85.12,502.96 L86.63,499.81 L88.13,496.9 L89.64,494.5 L91.14,492.44 L92.64,489.23 L94.15,488.44 L95.65,485.83 L97.16,483.79 L98.66,482.27 L100.16,479.31 L101.67,477.06 L103.17,474.85 L104.68,472.69 L106.18,469.57 L107.68,465.79 L109.19,463.17 L110.69,463.42 L112.2,456.65 L113.7,456.71 L115.2,454.54 L116.71,451.04 L118.21,450.59 L119.72,446.41 L121.22,445.29 L122.72,444.54 L124.23,443.39 L125.73,440.39 L127.24,439.27 L128.74,440.81 L130.24,440.42 L131.75,443.03 L133.25,444.62 L134.76,448.28 L136.26,450.72 L137.76,454.21 L139.27,458.79 L140.77,458.29 L142.28,463.82 L143.78,466.84 L145.28,469.28 L146.79,473.79 L148.29,476.79 L149.8,478.99 L151.3,482.11 L152.8,481.27 L154.31,483.67 L155.81,486.09 L157.32,486.71 L158.82,489.34 L160.32,492.51 L161.83,493.53 L163.33,495.58 L164.84,497.19 L166.34,499.06 L167.84,500.71 L169.35,504.3 L170.85,505.15 L172.36,507.75 L173.86,508.2 L175.36,511.28 L176.87,513.38 L178.37,513.12 L179.88,511.74 L181.38,514.08 L182.88,516.14 L184.39,515.25 L185.89,518.81 L187.4,520.14 L188.9,520.64 L190.4,522.55 L191.91,524.36 L193.41,526.21 L194.92,527.42 L196.42,528.04 L197.92,531.7 L199.43,532.8 L200.93,532.86 L202.44,533.74 L203.94,539.46 L205.44,539.5 L206.95,540.38 L208.45,543.81 L209.96,545.81 L211.46,545.74 L212.96,548.68 L214.47,550.14 L215.97,551.26 L217.48,553.15 L218.98,555.15 L220.48,553.19 L221.99,553.78 L223.49,556.07 L225,557.44 L226.5,557.82 L228,559.36 L229.51,561.63 L231.01,562.04 L232.52,561.47 L234.02,562.96 L235.52,564.71 L237.03,565.3 L238.53,563.91 L240.04,566.67 L241.54,564.98 L243.04,566.12 L244.55,567.96 L246.05,567.92 L247.56,568.04 L249.06,568.37 L250.56,568.96 L252.07,568.43 L253.57,569.32 L255.08,571.01 L256.58,571.17 L258.08,572.25 L259.59,572.36 L261.09,572.29 L262.6,574.81 L264.1,573.14 L265.6,573.69 L267.11,574.29 L268.61,575.62 L270.12,575.4 L271.62,575.97" stroke="#5ea0dc" stroke-width="1.3" stroke-opacity="1.0" fill="none" stroke-linejoin="round"/>
<path d="M38.5,576.65 L40,577.71 L41.51,576.7 L43.01,576.06 L44.52,576.87 L46.02,575.98 L47.52,575.7 L49.03,576.83 L50.53,573.98 L52.04,573.76 L53.54,574.08 L55.04,572.64 L56.55,570.37 L58.05,568.83 L59.56,566.26 L61.06,564.55 L62.56,559.52 L64.07,555.84 L65.57,551.25 L67.08,548.31 L68.58,541.36 L70.08,538.48 L71.59,534.76 L73.09,528.56 L74.6,526.38 L76.1,523.84 L77.6,519.33 L79.11,517.47 L80.61,511.25 L82.12,509.31 L83.62,506.52 L85.12,502.03 L86.63,501.59 L88.13,497.08 L89.64,496.85 L91.14,493.3 L92.64,491.56 L94.15,487.21 L95.65,485.03 L97.16,484.96 L98.66,482.04 L100.16,480.9 L101.67,478.14 L103.17,477.09 L104.68,475.63 L106.18,473.28 L107.68,468.61 L109.19,463.9 L110.69,462.49 L112.2,460.39 L113.7,456.07 L115.2,455.61 L116.71,454.03 L118.21,452.3 L119.72,451.05 L121.22,449.36 L122.72,448.43 L124.23,445.13 L125.73,444.67 L127.24,443.52 L128.74,445.58 L130.24,448.09 L131.75,447.94 L133.25,448.36 L134.76,452.84 L136.26,456.12 L137.76,459.21 L139.27,462.1 L140.77,464.55 L142.28,468.38 L143.78,469.21 L145.28,474.08 L146.79,476.97 L148.29,478.59 L149.8,480.6 L151.3,483.64 L152.8,484.53 L154.31,485.55 L155.81,487.97 L157.32,491.28 L158.82,491.23 L160.32,492.95 L161.83,495.24 L163.33,498.23 L164.84,499.43 L166.34,501.62 L167.84,503.24 L169.35,503.73 L170.85,505.34 L172.36,507.79 L173.86,509.47 L175.36,510.77 L176.87,512.65 L178.37,513.89 L179.88,515.54 L181.38,516.12 L182.88,515.24 L184.39,517.6 L185.89,519.88 L187.4,521.33 L188.9,523.04 L190.4,523.39 L191.91,524.83 L193.41,527.9 L194.92,527.76 L196.42,530.24 L197.92,530.11 L199.43,532.86 L200.93,533.31 L202.44,537.08 L203.94,538.87 L205.44,540.3 L206.95,541.53 L208.45,543.73 L209.96,546.89 L211.46,547.11 L212.96,548.6 L214.47,550.27 L215.97,551.69 L217.48,550.79 L218.98,553.76 L220.48,555.23 L221.99,555 L223.49,556.46 L225,557.63 L226.5,557.87 L228,559.06 L229.51,560.08 L231.01,560.42 L232.52,561.83 L234.02,563.39 L235.52,563.89 L237.03,564.72 L238.53,564.74 L240.04,566.47 L241.54,567.71 L243.04,566.63 L244.55,568.41 L246.05,569.48 L247.56,568.01 L249.06,569.45 L250.56,568.9 L252.07,570.25 L253.57,571.22 L255.08,571.78 L256.58,571.6 L258.08,571.83 L259.59,572.75 L261.09,572.73 L262.6,574.24 L264.1,573.34 L265.6,575.32 L267.11,574.37 L268.61,574.02 L270.12,574.09 L271.62,573.96" stroke="#eeee22" stroke-width="1.3" stroke-opacity="1.0" fill="none" stroke-linejoin="round"/>
<path d="M38.5,578.71 L40,576.99 L41.51,576.74 L43.01,577.3 L44.52,578.42 L46.02,575.29 L47.52,574.86 L49.03,576.78 L50.53,573.64 L52.04,574.89 L53.54,571.59 L55.04,572.47 L56.55,571.84 L58.05,568.47 L59.56,567.01 L61.06,564.3 L62.56,561.36 L64.07,557.77 L65.57,552.75 L67.08,548.09 L68.58,544.19 L70.08,538.85 L71.59,537.45 L73.09,532.59 L74.6,527.52 L76.1,525.49 L77.6,519.56 L79.11,516.85 L80.61,514.3 L82.12,510.52 L83.62,508.45 L85.12,506.33 L86.63,501.57 L88.13,498.89 L89.64,497.17 L91.14,494.98 L92.64,494.63 L94.15,491.47 L95.65,489.27 L97.16,486.86 L98.66,484.07 L100.16,483.82 L101.67,482.05 L103.17,478.5 L104.68,477.3 L106.18,476.11 L107.68,471.4 L109.19,470.33 L110.69,467.09 L112.2,464.7 L113.7,461.19 L115.2,458.69 L116.71,458.27 L118.21,456.07 L119.72,455.33 L121.22,451.3 L122.72,450.22 L124.23,450.35 L125.73,448.18 L127.24,447.43 L128.74,448.3 L130.24,450.29 L131.75,451.04 L133.25,451.8 L134.76,454.37 L136.26,458.17 L137.76,459.68 L139.27,463.72 L140.77,467.59 L142.28,468.54 L143.78,470.78 L145.28,474.35 L146.79,476.61 L148.29,479.22 L149.8,482.67 L151.3,485.18 L152.8,486.01 L154.31,488.5 L155.81,488.71 L157.32,490.52 L158.82,492.24 L160.32,493.36 L161.83,497.95 L163.33,497.26 L164.84,500.14 L166.34,500.75 L167.84,503.1 L169.35,505.95 L170.85,506.08 L172.36,509.17 L173.86,509.67 L175.36,512.06 L176.87,513.25 L178.37,513.94 L179.88,513.51 L181.38,515.64 L182.88,517.34 L184.39,517 L185.89,519.58 L187.4,521.13 L188.9,523.03 L190.4,523.42 L191.91,524.87 L193.41,527.01 L194.92,529.55 L196.42,529.54 L197.92,530.87 L199.43,532.9 L200.93,535.09 L202.44,537.02 L203.94,538.41 L205.44,538.74 L206.95,541.66 L208.45,545 L209.96,544.71 L211.46,547.13 L212.96,546.1 L214.47,549.68 L215.97,550.7 L217.48,551.67 L218.98,552.73 L220.48,554.03 L221.99,555.09 L223.49,556.35 L225,557.65 L226.5,558.48 L228,560.13 L229.51,560.48 L231.01,561.48 L232.52,562.13 L234.02,562.93 L235.52,563.42 L237.03,563.61 L238.53,564.93 L240.04,565.22 L241.54,565.67 L243.04,566.75 L244.55,567.17 L246.05,567.28 L247.56,569.58 L249.06,568.07 L250.56,569.54 L252.07,572.79 L253.57,569.61 L255.08,571.56 L256.58,570.21 L258.08,572.27 L259.59,572.05 L261.09,571.73 L262.6,573.43 L264.1,574.04 L265.6,573.71 L267.11,572.85 L268.61,573.5 L270.12,573.66 L271.62,574.94" stroke="#f4a25a" stroke-width="1.3" stroke-opacity="1.0" fill="none" stroke-linejoin="round"/>
<path d="M38.5,577.24 L40,577.21 L41.51,574.43 L43.01,576.49 L44.52,575.98 L46.02,574.46 L47.52,576.26 L49.03,575.56 L50.53,574.36 L52.04,574.14 L53.54,574.02 L55.04,571.72 L56.55,569.84 L58.05,566.58 L59.56,565.85 L61.06,562.03 L62.56,556.64 L64.07,551.7 L65.57,550.1 L67.08,543.95 L68.58,541.27 L70.08,537.05 L71.59,532.98 L73.09,528.65 L74.6,523.69 L76.1,520.38 L77.6,517.51 L79.11,514.58 L80.61,511.11 L82.12,508.2 L83.62,504.55 L85.12,503.04 L86.63,499.92 L88.13,497.58 L89.64,495.25 L91.14,492.83 L92.64,490.85 L94.15,488 L95.65,487.44 L97.16,484.23 L98.66,483.97 L100.16,482.13 L101.67,479.6 L103.17,477.27 L104.68,475.11 L106.18,471.77 L107.68,469.06 L109.19,466.66 L110.69,464.61 L112.2,462.12 L113.7,458.95 L115.2,458.33 L116.71,458.13 L118.21,456.13 L119.72,454.44 L121.22,451.17 L122.72,450.6 L124.23,447.38 L125.73,448.36 L127.24,449.24 L128.74,450.68 L130.24,450.71 L131.75,453.27 L133.25,456.07 L134.76,457.52 L136.26,460.6 L137.76,462.35 L139.27,466.31 L140.77,471.61 L142.28,471.35 L143.78,476.75 L145.28,476.92 L146.79,479.51 L148.29,483.67 L149.8,485.94 L151.3,487.48 L152.8,486.8 L154.31,489.14 L155.81,491.23 L157.32,492.86 L158.82,492.74 L160.32,496.05 L161.83,497.48 L163.33,499.21 L164.84,500.76 L166.34,502.51 L167.84,505.84 L169.35,507.18 L170.85,509.34 L172.36,510.87 L173.86,510.7 L175.36,513.4 L176.87,514.22 L178.37,515.87 L179.88,516.86 L181.38,516.75 L182.88,518.91 L184.39,520.11 L185.89,520.54 L187.4,521.85 L188.9,522.96 L190.4,524.9 L191.91,527.99 L193.41,527.42 L194.92,529.04 L196.42,530.14 L197.92,533.34 L199.43,532.14 L200.93,537.19 L202.44,537.4 L203.94,539.89 L205.44,542.23 L206.95,542.9 L208.45,545.51 L209.96,548.76 L211.46,549.12 L212.96,549.02 L214.47,548.72 L215.97,553.11 L217.48,552.99 L218.98,552.82 L220.48,554.61 L221.99,556.49 L223.49,558.4 L225,559.69 L226.5,559.75 L228,560.35 L229.51,562.85 L231.01,563.21 L232.52,562.29 L234.02,563.65 L235.52,564.65 L237.03,565.01 L238.53,566 L240.04,565.1 L241.54,565.07 L243.04,565.26 L244.55,566.98 L246.05,567.48 L247.56,567.38 L249.06,567.63 L250.56,568.35 L252.07,569.03 L253.57,571.07 L255.08,572.35 L256.58,570.66 L258.08,571.95 L259.59,572.36 L261.09,573.51 L262.6,574.3 L264.1,572.4 L265.6,573.63 L267.11,575.37 L268.61,574.53 L270.12,575.01 L271.62,575.23" stroke="#f07a18" stroke-width="1.3" stroke-opacity="1.0" fill="none" stroke-linejoin="round"/>
<path d="M38.5,579.8 L40,579.49 L41.51,580.52 L43.01,579.26 L44.52,579.79 L46.02,580.26 L47.52,579.25 L49.03,577.95 L50.53,577.54 L52.04,577.8 L53.54,575.62 L55.04,574.51 L56.55,571.77 L58.05,569.07 L59.56,567.34 L61.06,563.35 L62.56,560.81 L64.07,556.07 L65.57,553.5 L67.08,550.93 L68.58,548.61 L70.08,544.92 L71.59,541.95 L73.09,540.12 L74.6,535.11 L76.1,533.75 L77.6,530.31 L79.11,529.81 L80.61,525.66 L82.12,525.68 L83.62,523.39 L85.12,520.91 L86.63,519.72 L88.13,519.94 L89.64,517.68 L91.14,514.97 L92.64,512.77 L94.15,512.32 L95.65,511.91 L97.16,509.93 L98.66,510 L100.16,507.62 L101.67,507.71 L103.17,505.52 L104.68,504.13 L106.18,501.58 L107.68,499.77 L109.19,496.49 L110.69,495.31 L112.2,492.58 L113.7,490.75 L115.2,490.88 L116.71,488.02 L118.21,486.54 L119.72,485.63 L121.22,483.29 L122.72,482.56 L124.23,479.46 L125.73,478.27 L127.24,478 L128.74,477.19 L130.24,480.22 L131.75,482.52 L133.25,485.35 L134.76,486.77 L136.26,489.59 L137.76,490.13 L139.27,493.54 L140.77,494.98 L142.28,495.61 L143.78,497.92 L145.28,499.98 L146.79,500.44 L148.29,502.63 L149.8,503.35 L151.3,505.38 L152.8,507.63 L154.31,508.41 L155.81,509.81 L157.32,512.46 L158.82,514.71 L160.32,515.98 L161.83,518.82 L163.33,519.06 L164.84,520.82 L166.34,520.09 L167.84,523.24 L169.35,525.24 L170.85,524.85 L172.36,526.79 L173.86,527.79 L175.36,528.77 L176.87,529.76 L178.37,531.09 L179.88,531.07 L181.38,532.25 L182.88,533.85 L184.39,534.55 L185.89,536.07 L187.4,536.3 L188.9,537.13 L190.4,538.39 L191.91,539.65 L193.41,541.4 L194.92,541.47 L196.42,543.91 L197.92,544.91 L199.43,546.28 L200.93,547.13 L202.44,548.48 L203.94,548.03 L205.44,550.22 L206.95,552.69 L208.45,552.78 L209.96,554.31 L211.46,553.48 L212.96,553.79 L214.47,555.63 L215.97,555.44 L217.48,556.54 L218.98,556.65 L220.48,556.3 L221.99,558.37 L223.49,559.7 L225,559.18 L226.5,560.23 L228,561.08 L229.51,561.82 L231.01,563.96 L232.52,565.77 L234.02,564.54 L235.52,566.28 L237.03,567.54 L238.53,568.22 L240.04,567.31 L241.54,568.61 L243.04,569.11 L244.55,569.26 L246.05,570.77 L247.56,571.45 L249.06,571.58 L250.56,572.04 L252.07,571.74 L253.57,572.39 L255.08,571.97 L256.58,572.55 L258.08,572.49 L259.59,572.22 L261.09,571.93 L262.6,572.05 L264.1,573.26 L265.6,573.41 L267.11,574.11 L268.61,573.27 L270.12,573.11 L271.62,574.77" stroke="#a82222" stroke-width="1.4" stroke-opacity="1.0" fill="none" stroke-linejoin="round"/>
<path d="M38.5,579.63 L40,580.57 L41.51,580.8 L43.01,582.06 L44.52,580.72 L46.02,580.44 L47.52,579.89 L49.03,579.87 L50.53,578.96 L52.04,578.6 L53.54,578.33 L55.04,575.19 L56.55,572.65 L58.05,569.2 L59.56,567.74 L61.06,565.77 L62.56,563.62 L64.07,562.17 L65.57,558.49 L67.08,558.2 L68.58,556.69 L70.08,554.54 L71.59,551.9 L73.09,551.22 L74.6,550.37 L76.1,548.2 L77.6,545.19 L79.11,543.67 L80.61,542.18 L82.12,540.18 L83.62,538.31 L85.12,536.75 L86.63,538.47 L88.13,537.64 L89.64,537.32 L91.14,537.97 L92.64,536.49 L94.15,536.12 L95.65,534.18 L97.16,534.56 L98.66,535.05 L100.16,532.88 L101.67,532.86 L103.17,532.98 L104.68,531.27 L106.18,530.27 L107.68,529.45 L109.19,527.79 L110.69,528.28 L112.2,525.76 L113.7,523.67 L115.2,522.56 L116.71,521.19 L118.21,520.04 L119.72,518.53 L121.22,518.93 L122.72,516.23 L124.23,516.96 L125.73,515.34 L127.24,516.06 L128.74,514.53 L130.24,515.43 L131.75,517.99 L133.25,518.38 L134.76,521.87 L136.26,522.99 L137.76,524.39 L139.27,526.49 L140.77,526.73 L142.28,526.96 L143.78,530.21 L145.28,529.98 L146.79,531.68 L148.29,531.14 L149.8,532.66 L151.3,533.05 L152.8,533.54 L154.31,534.26 L155.81,535.86 L157.32,534.47 L158.82,537.02 L160.32,536.68 L161.83,537.23 L163.33,538.99 L164.84,539.06 L166.34,539.1 L167.84,540.67 L169.35,542.02 L170.85,544.18 L172.36,543.62 L173.86,544.16 L175.36,544.96 L176.87,546.18 L178.37,546.21 L179.88,547.84 L181.38,548.48 L182.88,548.87 L184.39,550.81 L185.89,551.23 L187.4,550.24 L188.9,551.76 L190.4,553.84 L191.91,553.56 L193.41,553.66 L194.92,553.75 L196.42,555.08 L197.92,556.16 L199.43,556.99 L200.93,556.81 L202.44,557.87 L203.94,559.3 L205.44,559.93 L206.95,560.9 L208.45,560.87 L209.96,562.51 L211.46,562.24 L212.96,562.47 L214.47,563.14 L215.97,564.44 L217.48,563.32 L218.98,565.09 L220.48,564.73 L221.99,565.99 L223.49,567.17 L225,566.4 L226.5,567.01 L228,567.94 L229.51,568.37 L231.01,569.66 L232.52,570.3 L234.02,570.41 L235.52,569.36 L237.03,570.45 L238.53,571.69 L240.04,571.25 L241.54,572.23 L243.04,572.45 L244.55,571.75 L246.05,572.88 L247.56,573.8 L249.06,573.38 L250.56,572.78 L252.07,572.83 L253.57,572.14 L255.08,573.56 L256.58,572.63 L258.08,572.93 L259.59,573.42 L261.09,572.85 L262.6,573.2 L264.1,574.26 L265.6,573.05 L267.11,574.76 L268.61,574.02 L270.12,574.2 L271.62,574.06" stroke="#999999" stroke-width="1.3" stroke-opacity="1.0" fill="none" stroke-linejoin="round"/>
<path d="M38.6,411.8V585.8M37.9,585.1H278.6" stroke="#000" stroke-width="1.5" fill="none"/>
<path d="M35.4,585H38.6M35.4,550.55H38.6M35.4,516.1H38.6M35.4,481.65H38.6M35.4,447.2H38.6M35.4,412.75H38.6M36.6,567.77H38.6M36.6,533.33H38.6M36.6,498.88H38.6M36.6,464.42H38.6M36.6,429.98H38.6M53.54,585V587.5M68.58,585V587.5M83.62,585V589M98.66,585V587.5M113.7,585V587.5M128.74,585V587.5M143.78,585V587.5M158.82,585V589M173.86,585V587.5M188.9,585V587.5M203.94,585V587.5M218.98,585V587.5M234.02,585V589M249.06,585V587.5M264.1,585V587.5" stroke="#000" stroke-width="1.1" fill="none"/>
<text x="28.41" y="589" font-size="10.5" font-weight="bold" stroke="#000" stroke-width="0.22" textLength="6.79" lengthAdjust="spacingAndGlyphs" >0</text>
<text x="28.16" y="554.55" font-size="10.5" font-weight="bold" stroke="#000" stroke-width="0.22" textLength="6.86" lengthAdjust="spacingAndGlyphs" >1</text>
<text x="28.48" y="520.1" font-size="10.5" font-weight="bold" stroke="#000" stroke-width="0.22" textLength="6.72" lengthAdjust="spacingAndGlyphs" >2</text>
<text x="28.61" y="485.65" font-size="10.5" font-weight="bold" stroke="#000" stroke-width="0.22" textLength="6.52" lengthAdjust="spacingAndGlyphs" >3</text>
<text x="28.74" y="451.2" font-size="10.5" font-weight="bold" stroke="#000" stroke-width="0.22" textLength="6.03" lengthAdjust="spacingAndGlyphs" >4</text>
<text x="28.55" y="416.75" font-size="10.5" font-weight="bold" stroke="#000" stroke-width="0.22" textLength="6.45" lengthAdjust="spacingAndGlyphs" >5</text>
<text x="74" y="599.2" font-size="10.6" font-weight="bold" stroke="#000" stroke-width="0.22" textLength="18.97" lengthAdjust="spacingAndGlyphs" >400</text>
<text x="149.2" y="599.2" font-size="10.6" font-weight="bold" stroke="#000" stroke-width="0.22" textLength="18.97" lengthAdjust="spacingAndGlyphs" >450</text>
<text x="224.23" y="599.2" font-size="10.6" font-weight="bold" stroke="#000" stroke-width="0.22" textLength="19.14" lengthAdjust="spacingAndGlyphs" >500</text>
<text x="114.96" y="614.6" font-size="10.5" font-weight="bold" stroke="#000" stroke-width="0.22" textLength="88.1" lengthAdjust="spacingAndGlyphs" >wavelength (nm)</text>
<text transform="translate(10.7,495.35) rotate(-90)" x="-51.62" y="0" font-size="10.7" font-weight="bold" stroke="#000" stroke-width="0.22" textLength="103.62" lengthAdjust="spacingAndGlyphs" >fluorescence (A.U.)</text>
<path d="M237.7,403.5H246.9" stroke="#000" stroke-width="1.7"/>
<text x="252.53" y="407.5" font-size="10.3" style="fill:#1c1c1c;" textLength="64.29" lengthAdjust="spacingAndGlyphs" >Control MTC</text>
<path d="M237.7,416.5H246.9" stroke="#2ec82e" stroke-width="1.7"/>
<text x="252.52" y="420.7" font-size="10.3" style="fill:#1c1c1c;" textLength="77.95" lengthAdjust="spacingAndGlyphs" >Control Tubulin</text>
<path d="M237.7,433.3H246.9" stroke="#1a1f8a" stroke-width="1.7"/>
<text x="252.18" y="437.5" font-size="10.3" style="fill:#1c1c1c;" textLength="41.77" lengthAdjust="spacingAndGlyphs" >PP-13 0</text>
<text x="298.19" y="437.5" font-size="10" style="fill:#1c1c1c;" textLength="39.88" lengthAdjust="spacingAndGlyphs" >µmol.L-1</text>
<path d="M237.7,446.9H246.9" stroke="#2236b0" stroke-width="1.7"/>
<text x="252.17" y="450" font-size="10.3" style="fill:#1c1c1c;" textLength="51.74" lengthAdjust="spacingAndGlyphs" >PP-13 0.2</text>
<text x="306.19" y="450" font-size="10" style="fill:#1c1c1c;" textLength="39.88" lengthAdjust="spacingAndGlyphs" >µmol.L-1</text>
<path d="M237.7,459.3H246.9" stroke="#2424d8" stroke-width="1.7"/>
<text x="252.17" y="462" font-size="10.3" style="fill:#1c1c1c;" textLength="51.62" lengthAdjust="spacingAndGlyphs" >PP-13 0.5</text>
<text x="306.19" y="462" font-size="10" style="fill:#1c1c1c;" textLength="39.88" lengthAdjust="spacingAndGlyphs" >µmol.L-1</text>
<path d="M238.1,470.5H247.3" stroke="#5ea0dc" stroke-width="1.7"/>
<text x="252.58" y="474.6" font-size="10.3" style="fill:#1c1c1c;" textLength="41.47" lengthAdjust="spacingAndGlyphs" >PP-13 1</text>
<text x="297.5" y="474.6" font-size="10" style="fill:#1c1c1c;" textLength="39.37" lengthAdjust="spacingAndGlyphs" >µmol.L-1</text>
<path d="M238.3,483.2H247.5" stroke="#eeee22" stroke-width="1.7"/>
<text x="252.78" y="486.6" font-size="10.3" style="fill:#1c1c1c;" textLength="41.74" lengthAdjust="spacingAndGlyphs" >PP-13 2</text>
<text x="297.7" y="486.6" font-size="10" style="fill:#1c1c1c;" textLength="39.37" lengthAdjust="spacingAndGlyphs" >µmol.L-1</text>
<path d="M238.4,497H247.6" stroke="#f4a25a" stroke-width="1.7"/>
<text x="252.88" y="500.2" font-size="10.3" style="fill:#1c1c1c;" textLength="41.62" lengthAdjust="spacingAndGlyphs" >PP-13 5</text>
<text x="297.8" y="500.2" font-size="10" style="fill:#1c1c1c;" textLength="39.37" lengthAdjust="spacingAndGlyphs" >µmol.L-1</text>
<path d="M238.6,509.9H247.8" stroke="#f07a18" stroke-width="1.7"/>
<text x="253.08" y="513.9" font-size="10.3" style="fill:#1c1c1c;" textLength="48.12" lengthAdjust="spacingAndGlyphs" >PP-13 10</text>
<text x="303.29" y="513.9" font-size="10" style="fill:#1c1c1c;" textLength="39.88" lengthAdjust="spacingAndGlyphs" >µmol.L-1</text>
<path d="M239.3,522.3H248.5" stroke="#a82222" stroke-width="1.7"/>
<text x="253.78" y="525.6" font-size="10.3" style="fill:#1c1c1c;" textLength="48.02" lengthAdjust="spacingAndGlyphs" >PP-13 20</text>
<text x="303.29" y="525.6" font-size="10" style="fill:#1c1c1c;" textLength="39.88" lengthAdjust="spacingAndGlyphs" >µmol.L-1</text>
<path d="M240.3,534.6H249.5" stroke="#999999" stroke-width="1.7"/>
<text x="254.79" y="537.7" font-size="10.3" style="fill:#1c1c1c;" textLength="47.4" lengthAdjust="spacingAndGlyphs" >PP-13 50</text>
<text x="303.58" y="537.7" font-size="10" style="fill:#1c1c1c;" textLength="40.29" lengthAdjust="spacingAndGlyphs" >µmol.L-1</text>
</g>
<g id="D">
<path d="M414.3,436.4 L415.46,436.4 L416.62,436.4 L417.78,436.4 L418.94,436.4 L420.1,436.4 L421.26,436.4 L422.42,436.4 L423.57,436.4 L424.73,436.4 L425.89,436.4 L427.05,436.4 L428.21,436.4 L429.37,436.41 L430.53,436.41 L431.69,436.41 L432.85,436.41 L434.01,436.41 L435.17,436.41 L436.33,436.41 L437.49,436.41 L438.65,436.41 L439.8,436.42 L440.96,436.42 L442.12,436.42 L443.28,436.42 L444.44,436.42 L445.6,436.42 L446.76,436.43 L447.92,436.43 L449.08,436.43 L450.24,436.43 L451.4,436.43 L452.56,436.44 L453.72,436.44 L454.88,436.44 L456.03,436.44 L457.19,436.44 L458.35,436.45 L459.51,436.45 L460.67,436.45 L461.83,436.45 L462.99,436.46 L464.15,436.46 L465.31,436.46 L466.47,436.46 L467.63,436.47 L468.79,436.47 L469.95,436.47 L471.11,436.48 L472.26,436.48 L473.42,436.48 L474.58,436.49 L475.74,436.49 L476.9,436.49 L478.06,436.49 L479.22,436.5 L480.38,436.5 L481.54,436.5 L482.7,436.51 L483.86,436.51 L485.02,436.52 L486.18,436.53 L487.34,436.53 L488.49,436.54 L489.65,436.55 L490.81,436.55 L491.97,436.56 L493.13,436.57 L494.29,436.58 L495.45,436.59 L496.61,436.61 L497.77,436.62 L498.93,436.63 L500.09,436.64 L501.25,436.66 L502.41,436.67 L503.57,436.69 L504.73,436.7 L505.88,436.72 L507.04,436.74 L508.2,436.75 L509.36,436.77 L510.52,436.79 L511.68,436.81 L512.84,436.83 L514,436.85 L515.16,436.88 L516.32,436.9 L517.48,436.92 L518.64,436.95 L519.8,436.97 L520.96,437 L522.11,437.02 L523.27,437.05 L524.43,437.08 L525.59,437.11 L526.75,437.14 L527.91,437.17 L529.07,437.2 L530.23,437.23 L531.39,437.26 L532.55,437.3 L533.71,437.33 L534.87,437.37 L536.03,437.4 L537.19,437.44 L538.34,437.48 L539.5,437.52 L540.66,437.57 L541.82,437.64 L542.98,437.72 L544.14,437.82 L545.3,437.93 L546.46,438.04 L547.62,438.17 L548.78,438.3 L549.94,438.45 L551.1,438.6 L552.26,438.75 L553.42,438.91 L554.57,439.07 L555.73,439.23 L556.89,439.39 L558.05,439.55 L559.21,439.72 L560.37,439.91 L561.53,440.1 L562.69,440.31 L563.85,440.52 L565.01,440.75 L566.17,440.98 L567.33,441.22 L568.49,441.47 L569.65,441.72 L570.81,441.98 L571.96,442.25 L573.12,442.52 L574.28,442.81 L575.44,443.11 L576.6,443.42 L577.76,443.74 L578.92,444.07 L580.08,444.41 L581.24,444.77 L582.4,445.13 L583.56,445.51 L584.72,445.91 L585.88,446.31 L587.04,446.73 L588.19,447.16 L589.35,447.6 L590.51,448.06 L591.67,448.54 L592.83,449.03 L593.99,449.54 L595.15,450.07 L596.31,450.62 L597.47,451.19 L598.63,451.77 L599.79,452.39 L600.95,453.03 L602.11,453.73 L603.27,454.49 L604.42,455.28 L605.58,456.12 L606.74,457 L607.9,457.9 L609.06,458.83 L610.22,459.78 L611.38,460.76 L612.54,461.77 L613.7,462.81 L614.86,463.9 L616.02,465.04 L617.18,466.23 L618.34,467.49 L619.5,468.81 L620.65,470.19 L621.81,471.67 L622.97,473.23 L624.13,474.87 L625.29,476.6 L626.45,478.4 L627.61,480.27 L628.77,482.22 L629.93,484.23 L631.09,486.32 L632.25,488.47 L633.41,490.72 L634.57,493.08 L635.73,495.55 L636.88,498.13 L638.04,500.81 L639.2,503.59 L640.36,506.46 L641.52,509.42 L642.68,512.47 L643.84,515.6 L645,518.8" stroke="#000" stroke-width="1.1" fill="none"/>
<path d="M495.3,415.3V462.3M493.7,415.3H496.9M493.7,462.3H496.9M520.3,420.8V456.6M518.7,420.8H521.9M518.7,456.6H521.9M539.2,415.3V457.2M537.6,415.3H540.8M537.6,457.2H540.8M557.7,414.7V471.5M556.1,414.7H559.3M556.1,471.5H559.3M582.5,424.5V470.5M580.9,424.5H584.1M580.9,470.5H584.1M620.1,464.6V494.2M618.5,464.6H621.7M618.5,494.2H621.7M644.9,510.7V530.5M643.3,510.7H646.5M643.3,530.5H646.5" stroke="#111" stroke-width="1" fill="none"/>
<circle cx="495.3" cy="437.8" r="1.1" fill="#000"/>
<circle cx="520.3" cy="437.8" r="1.1" fill="#000"/>
<circle cx="539.2" cy="436.8" r="1.1" fill="#000"/>
<circle cx="557.7" cy="442.9" r="1.1" fill="#000"/>
<circle cx="582.5" cy="447.4" r="1.1" fill="#000"/>
<circle cx="620.1" cy="479.1" r="1.1" fill="#000"/>
<circle cx="644.9" cy="520.8" r="1.1" fill="#000"/>
<circle cx="601.4" cy="446.8" r="1.1" fill="#000"/>
<path d="M414.4,413V580.2M413.7,579.5H663.8" stroke="#000" stroke-width="1.5" fill="none"/>
<path d="M411.4,579.4H414.4M411.4,524.2H414.4M411.4,469H414.4M411.4,413.8H414.4M412.6,551.8H414.4M412.6,496.6H414.4M412.6,441.4H414.4M414.3,579.5V583M433.05,579.5V581.3M444.02,579.5V581.3M451.81,579.5V581.3M457.85,579.5V581.3M462.78,579.5V581.3M466.95,579.5V581.3M470.56,579.5V581.3M473.75,579.5V581.3M476.6,579.5V583M495.35,579.5V581.3M506.32,579.5V581.3M514.11,579.5V581.3M520.15,579.5V581.3M525.08,579.5V581.3M529.25,579.5V581.3M532.86,579.5V581.3M536.05,579.5V581.3M538.9,579.5V583M557.65,579.5V581.3M568.62,579.5V581.3M576.41,579.5V581.3M582.45,579.5V581.3M587.38,579.5V581.3M591.55,579.5V581.3M595.16,579.5V581.3M598.35,579.5V581.3M601.2,579.5V583M619.95,579.5V581.3M630.92,579.5V581.3M638.71,579.5V581.3M644.75,579.5V581.3M649.68,579.5V581.3M653.85,579.5V581.3M657.46,579.5V581.3M660.65,579.5V581.3M663.5,579.5V583" stroke="#000" stroke-width="0.9" fill="none"/>
<text x="394.32" y="582.9" font-size="10.8" font-weight="bold" stroke="#000" stroke-width="0.22" textLength="16.55" lengthAdjust="spacingAndGlyphs" >0.0</text>
<text x="394.32" y="527.7" font-size="10.8" font-weight="bold" stroke="#000" stroke-width="0.22" textLength="16.55" lengthAdjust="spacingAndGlyphs" >0.2</text>
<text x="394.34" y="472.5" font-size="10.8" font-weight="bold" stroke="#000" stroke-width="0.22" textLength="16.12" lengthAdjust="spacingAndGlyphs" >0.4</text>
<text x="394.33" y="417.3" font-size="10.8" font-weight="bold" stroke="#000" stroke-width="0.22" textLength="16.49" lengthAdjust="spacingAndGlyphs" >0.6</text>
<text x="392.46" y="593.6" font-size="11" font-weight="bold" textLength="32.67" lengthAdjust="spacingAndGlyphs" stroke="#000" stroke-width="0.35">1.0×10</text>
<text x="427.56" y="590.2" font-size="5.9" font-weight="bold" stroke="#000" stroke-width="0.3" letter-spacing="0.7">-8</text>
<text x="454.76" y="593.6" font-size="11" font-weight="bold" textLength="32.67" lengthAdjust="spacingAndGlyphs" stroke="#000" stroke-width="0.35">1.0×10</text>
<text x="489.86" y="590.2" font-size="5.9" font-weight="bold" stroke="#000" stroke-width="0.3" letter-spacing="0.7">-7</text>
<text x="517.06" y="593.6" font-size="11" font-weight="bold" textLength="32.67" lengthAdjust="spacingAndGlyphs" stroke="#000" stroke-width="0.35">1.0×10</text>
<text x="552.16" y="590.2" font-size="5.9" font-weight="bold" stroke="#000" stroke-width="0.3" letter-spacing="0.7">-6</text>
<text x="579.36" y="593.6" font-size="11" font-weight="bold" textLength="32.67" lengthAdjust="spacingAndGlyphs" stroke="#000" stroke-width="0.35">1.0×10</text>
<text x="614.46" y="590.2" font-size="5.9" font-weight="bold" stroke="#000" stroke-width="0.3" letter-spacing="0.7">-5</text>
<text x="641.66" y="593.6" font-size="11" font-weight="bold" textLength="32.67" lengthAdjust="spacingAndGlyphs" stroke="#000" stroke-width="0.35">1.0×10</text>
<text x="676.76" y="590.2" font-size="5.9" font-weight="bold" stroke="#000" stroke-width="0.3" letter-spacing="0.7">-4</text>
<text x="450.95" y="610" font-size="11.4" font-weight="bold" stroke="#000" stroke-width="0.22" textLength="111.74" lengthAdjust="spacingAndGlyphs" >PP-13 concentration</text>
<text x="565.07" y="609.8" font-size="11.9" style="fill:#222;" textLength="81.78" lengthAdjust="spacingAndGlyphs" >(Mol.L-1, log)</text>
<text transform="translate(378.6,493.3) rotate(-90)" x="-57.05" y="0" font-size="11.4" font-weight="bold" stroke="#000" stroke-width="0.22" textLength="114.05" lengthAdjust="spacingAndGlyphs" >Fractional saturation</text>
<text transform="translate(391,493.3) rotate(-90)" x="-66.63" y="0" font-size="11.4" font-weight="bold" stroke="#000" stroke-width="0.22" textLength="133.41" lengthAdjust="spacingAndGlyphs" >[MTC] bound/[MTC] total</text>
</g>
</svg></body></html>
